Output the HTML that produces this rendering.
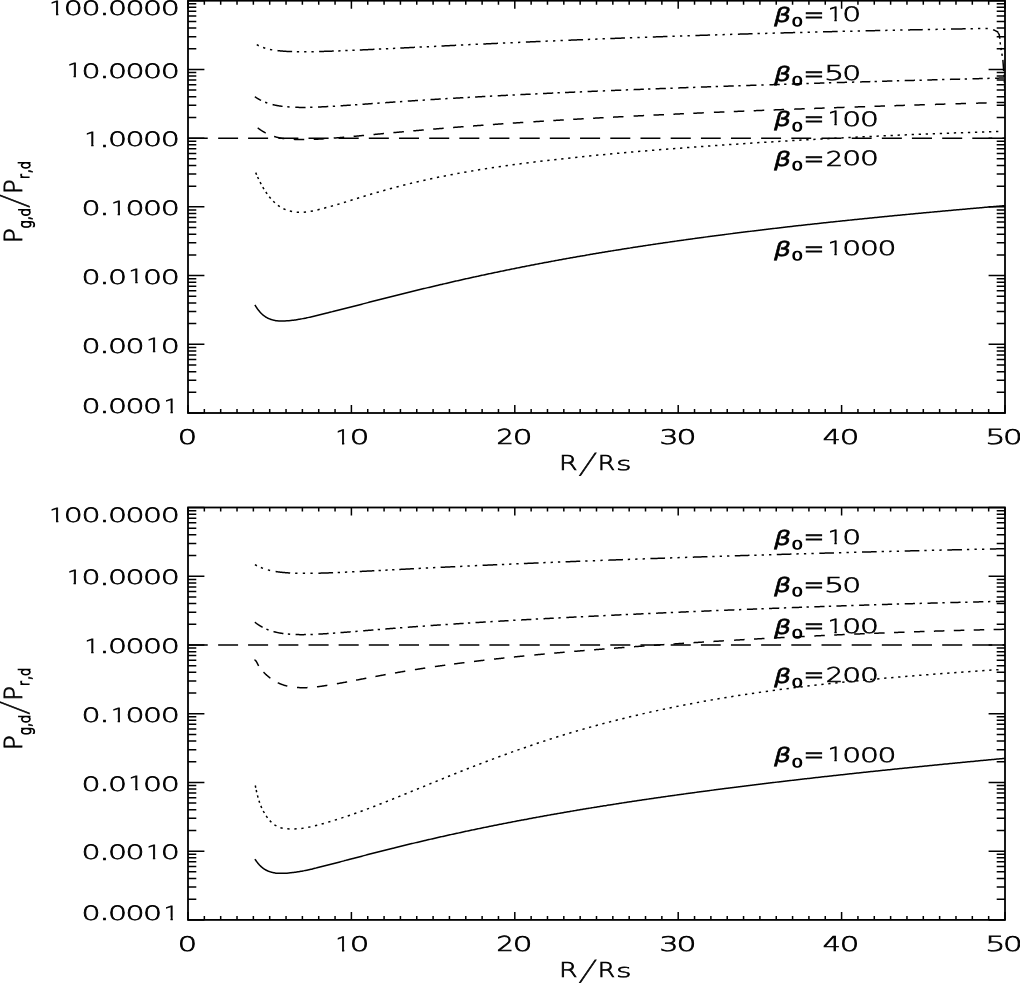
<!DOCTYPE html>
<html><head><meta charset="utf-8"><title>Pg,d/Pr,d vs R/Rs</title>
<style>html,body{margin:0;padding:0;background:#fff;width:1020px;height:983px;overflow:hidden}svg{display:block}</style>
</head><body>
<svg width="1020" height="983" viewBox="0 0 1020 983">
<defs><clipPath id="c0"><rect x="188.0" y="0.7" width="817.0" height="412.3"/></clipPath><clipPath id="c1"><rect x="188.0" y="507.5" width="817.0" height="412.4"/></clipPath><clipPath id="one" clipPathUnits="userSpaceOnUse"><path d="M-50 -200H150V-12H38.6V12H28.4V-12H-50Z"/></clipPath></defs>
<rect width="1020" height="983" fill="#fff"/>
<g clip-path="url(#c0)"><path d="M256.75 44.70L258.79 45.76M263.09 47.52L265.27 48.26M269.98 49.42L272.24 49.87M277.50 50.61L277.90 50.66L278.30 50.70L278.70 50.75L279.10 50.79L279.50 50.83L279.90 50.87L280.30 50.91L280.70 50.95L281.10 50.98L281.50 51.02L281.90 51.05L282.30 51.09L282.70 51.12L283.10 51.15L283.50 51.18L283.90 51.20L284.30 51.23L284.70 51.26L285.10 51.28L285.50 51.31L285.90 51.33L286.30 51.36L286.70 51.38L287.10 51.40L287.50 51.42L287.90 51.44L288.30 51.46L288.70 51.48L289.10 51.50L289.50 51.51L289.90 51.53L290.30 51.54L290.70 51.56L291.10 51.57L291.50 51.58L291.90 51.60L292.13 51.60M296.84 51.71L299.14 51.73M304.14 51.74L306.44 51.73M311.43 51.68L313.73 51.63M319.10 51.52L319.50 51.51L319.90 51.50L320.30 51.49L320.70 51.48L321.10 51.47L321.50 51.46L321.90 51.44L322.30 51.43L322.70 51.42L323.10 51.41L323.50 51.40L323.90 51.38L324.30 51.37L324.70 51.36L325.10 51.35L325.50 51.34L325.90 51.32L326.30 51.31L326.70 51.30L327.10 51.29L327.50 51.28L327.90 51.26L328.30 51.25L328.70 51.24L329.10 51.23L329.50 51.21L329.90 51.20L330.30 51.18L330.70 51.17L331.10 51.16L331.50 51.14L331.90 51.13L332.30 51.11L332.70 51.10L333.10 51.09L333.50 51.07L333.78 51.06M338.26 50.90L340.56 50.81M345.32 50.62L347.62 50.52M352.37 50.32L354.67 50.22M359.80 49.99L359.90 49.99L360.30 49.97L360.70 49.95L361.10 49.93L361.50 49.91L361.90 49.90L362.30 49.88L362.70 49.86L363.10 49.84L363.50 49.82L363.90 49.81L364.30 49.79L364.70 49.77L365.10 49.75L365.50 49.73L365.90 49.72L366.30 49.70L366.70 49.68L367.10 49.66L367.50 49.64L367.90 49.63L368.30 49.61L368.70 49.59L369.10 49.57L369.50 49.55L369.90 49.53L370.30 49.51L370.70 49.49L371.10 49.47L371.50 49.45L371.90 49.44L372.30 49.42L372.70 49.40L373.10 49.38L373.50 49.36L373.90 49.34L374.30 49.32L374.46 49.31M378.90 49.10L381.20 49.00M385.91 48.77L388.21 48.65M392.92 48.42L395.22 48.32M400.30 48.06L400.70 48.04L401.10 48.02L401.50 48.00L401.90 47.98L402.30 47.96L402.70 47.94L403.10 47.92L403.50 47.90L403.90 47.88L404.30 47.86L404.70 47.84L405.10 47.82L405.50 47.80L405.90 47.79L406.30 47.77L406.70 47.75L407.10 47.73L407.50 47.71L407.90 47.69L408.30 47.67L408.70 47.65L409.10 47.63L409.50 47.61L409.90 47.59L410.30 47.57L410.70 47.55L411.10 47.53L411.50 47.51L411.90 47.49L412.30 47.47L412.70 47.45L413.10 47.43L413.50 47.41L413.90 47.39L414.30 47.37L414.70 47.35L414.96 47.34M419.57 47.11L421.87 46.99M426.76 46.76L429.05 46.64M433.94 46.40L436.24 46.28M441.50 46.02L441.90 46.01L442.30 45.99L442.70 45.97L443.10 45.95L443.50 45.93L443.90 45.91L444.30 45.89L444.70 45.87L445.10 45.85L445.50 45.83L445.90 45.81L446.30 45.79L446.70 45.77L447.10 45.75L447.50 45.73L447.90 45.71L448.30 45.69L448.70 45.67L449.10 45.65L449.50 45.63L449.90 45.61L450.30 45.59L450.70 45.57L451.10 45.55L451.50 45.53L451.90 45.52L452.30 45.50L452.70 45.48L453.10 45.46L453.50 45.44L453.90 45.42L454.30 45.40L454.70 45.38L455.10 45.36L455.50 45.34L455.90 45.32L456.16 45.31M460.92 45.08L463.22 44.96M468.26 44.72L470.55 44.62M475.59 44.37L477.89 44.27M483.30 44.01L483.50 44.00L483.90 43.98L484.30 43.96L484.70 43.94L485.10 43.92L485.50 43.90L485.90 43.89L486.30 43.87L486.70 43.85L487.10 43.83L487.50 43.81L487.90 43.79L488.30 43.77L488.70 43.75L489.10 43.73L489.50 43.71L489.90 43.70L490.30 43.68L490.70 43.66L491.10 43.64L491.50 43.62L491.90 43.61L492.30 43.59L492.70 43.57L493.10 43.55L493.50 43.53L493.90 43.51L494.30 43.49L494.70 43.47L495.10 43.45L495.50 43.43L495.90 43.42L496.30 43.40L496.70 43.38L497.10 43.36L497.50 43.34L497.90 43.33L497.96 43.32M502.92 43.09L505.22 42.99M510.46 42.75L512.76 42.65M517.99 42.41L520.29 42.31M525.90 42.06L525.90 42.06L526.30 42.04L526.70 42.02L527.10 42.00L527.50 41.98L527.90 41.97L528.30 41.95L528.70 41.93L529.10 41.91L529.50 41.89L529.90 41.88L530.30 41.86L530.70 41.84L531.10 41.82L531.50 41.80L531.90 41.79L532.30 41.77L532.70 41.75L533.10 41.73L533.50 41.71L533.90 41.70L534.30 41.68L534.70 41.66L535.10 41.64L535.50 41.63L535.90 41.61L536.30 41.60L536.70 41.58L537.10 41.56L537.50 41.54L537.90 41.53L538.30 41.51L538.70 41.49L539.10 41.47L539.50 41.45L539.90 41.44L540.30 41.42L540.57 41.41M545.50 41.19L547.80 41.09M553.01 40.88L555.31 40.77M560.52 40.56L562.82 40.45M568.40 40.22L568.70 40.21L569.10 40.19L569.50 40.18L569.90 40.16L570.30 40.15L570.70 40.13L571.10 40.11L571.50 40.10L571.90 40.08L572.30 40.07L572.70 40.05L573.10 40.03L573.50 40.02L573.90 40.00L574.30 39.99L574.70 39.97L575.10 39.95L575.50 39.93L575.90 39.92L576.30 39.90L576.70 39.88L577.10 39.86L577.50 39.85L577.90 39.83L578.30 39.82L578.70 39.80L579.10 39.78L579.50 39.77L579.90 39.75L580.30 39.74L580.70 39.72L581.10 39.70L581.50 39.69L581.90 39.67L582.30 39.66L582.70 39.64L583.07 39.63M587.85 39.43L590.15 39.34M595.21 39.14L597.51 39.05M602.57 38.84L604.87 38.76M610.30 38.55L610.30 38.55L610.70 38.53L611.10 38.52L611.50 38.50L611.90 38.49L612.30 38.47L612.70 38.46L613.10 38.44L613.50 38.43L613.90 38.41L614.30 38.40L614.70 38.38L615.10 38.36L615.50 38.35L615.90 38.33L616.30 38.32L616.70 38.30L617.10 38.29L617.50 38.27L617.90 38.26L618.30 38.24L618.70 38.23L619.10 38.21L619.50 38.20L619.90 38.18L620.30 38.17L620.70 38.15L621.10 38.14L621.50 38.12L621.90 38.11L622.30 38.09L622.70 38.08L623.10 38.06L623.50 38.05L623.90 38.03L624.30 38.02L624.70 38.00L624.97 37.99M629.90 37.81L632.20 37.72M637.41 37.53L639.71 37.44M644.92 37.25L647.22 37.17M652.80 36.98L653.10 36.97L653.50 36.95L653.90 36.94L654.30 36.92L654.70 36.91L655.10 36.90L655.50 36.88L655.90 36.87L656.30 36.85L656.70 36.84L657.10 36.83L657.50 36.81L657.90 36.80L658.30 36.78L658.70 36.77L659.10 36.76L659.50 36.74L659.90 36.73L660.30 36.71L660.70 36.70L661.10 36.69L661.50 36.67L661.90 36.66L662.30 36.64L662.70 36.63L663.10 36.62L663.50 36.60L663.90 36.59L664.30 36.57L664.70 36.56L665.10 36.55L665.50 36.53L665.90 36.52L666.30 36.50L666.70 36.49L667.10 36.48L667.47 36.46M672.43 36.29L674.73 36.21M679.96 36.04L682.26 35.96M687.50 35.78L689.79 35.70M695.40 35.52L695.50 35.52L695.90 35.50L696.30 35.49L696.70 35.48L697.10 35.47L697.50 35.45L697.90 35.44L698.30 35.42L698.70 35.41L699.10 35.40L699.50 35.39L699.90 35.37L700.30 35.36L700.70 35.35L701.10 35.34L701.50 35.32L701.90 35.31L702.30 35.29L702.70 35.28L703.10 35.27L703.50 35.26L703.90 35.24L704.30 35.23L704.70 35.22L705.10 35.21L705.50 35.19L705.90 35.18L706.30 35.16L706.70 35.15L707.10 35.14L707.50 35.13L707.90 35.11L708.30 35.10L708.70 35.09L709.10 35.08L709.50 35.07L709.90 35.05L710.08 35.05M715.01 34.89L717.31 34.82M722.51 34.66L724.81 34.59M730.02 34.43L732.32 34.35M737.90 34.18L737.90 34.18L738.30 34.17L738.70 34.16L739.10 34.15L739.50 34.14L739.90 34.12L740.30 34.11L740.70 34.10L741.10 34.09L741.50 34.08L741.90 34.06L742.30 34.05L742.70 34.04L743.10 34.03L743.50 34.02L743.90 34.00L744.30 33.99L744.70 33.98L745.10 33.97L745.50 33.96L745.90 33.95L746.30 33.94L746.70 33.93L747.10 33.92L747.50 33.91L747.90 33.89L748.30 33.88L748.70 33.87L749.10 33.86L749.50 33.85L749.90 33.83L750.30 33.82L750.70 33.81L751.10 33.80L751.50 33.79L751.90 33.77L752.30 33.76L752.58 33.75M757.53 33.61L759.83 33.55M765.07 33.40L767.36 33.33M772.60 33.18L774.90 33.11M780.50 32.97L780.70 32.96L781.10 32.95L781.50 32.94L781.90 32.92L782.30 32.91L782.70 32.90L783.10 32.89L783.50 32.88L783.90 32.87L784.30 32.86L784.70 32.85L785.10 32.84L785.50 32.83L785.90 32.82L786.30 32.81L786.70 32.80L787.10 32.79L787.50 32.78L787.90 32.76L788.30 32.75L788.70 32.74L789.10 32.73L789.50 32.72L789.90 32.71L790.30 32.70L790.70 32.69L791.10 32.68L791.50 32.67L791.90 32.65L792.30 32.64L792.70 32.63L793.10 32.62L793.50 32.61L793.90 32.60L794.30 32.59L794.70 32.58L795.10 32.57L795.18 32.57M800.11 32.43L802.41 32.38M807.62 32.24L809.91 32.18M815.12 32.05L817.42 31.99M823.00 31.85L823.10 31.85L823.50 31.84L823.90 31.83L824.30 31.82L824.70 31.81L825.10 31.80L825.50 31.79L825.90 31.78L826.30 31.77L826.70 31.76L827.10 31.75L827.50 31.74L827.90 31.73L828.30 31.72L828.70 31.71L829.10 31.70L829.50 31.69L829.90 31.68L830.30 31.67L830.70 31.66L831.10 31.65L831.50 31.64L831.90 31.63L832.30 31.62L832.70 31.61L833.10 31.60L833.50 31.59L833.90 31.58L834.30 31.57L834.70 31.56L835.10 31.55L835.50 31.54L835.90 31.53L836.30 31.52L836.70 31.51L837.10 31.50L837.50 31.49L837.68 31.49M842.63 31.37L844.93 31.31M850.17 31.19L852.47 31.14M857.70 31.01L860.00 30.96M865.60 30.84L865.90 30.83L866.30 30.82L866.70 30.81L867.10 30.80L867.50 30.79L867.90 30.78L868.30 30.77L868.70 30.76L869.10 30.75L869.50 30.74L869.90 30.74L870.30 30.73L870.70 30.72L871.10 30.71L871.50 30.70L871.90 30.69L872.30 30.68L872.70 30.67L873.10 30.66L873.50 30.65L873.90 30.65L874.30 30.64L874.70 30.63L875.10 30.62L875.50 30.61L875.90 30.61L876.30 30.60L876.70 30.59L877.10 30.58L877.50 30.57L877.90 30.56L878.30 30.55L878.70 30.54L879.10 30.53L879.50 30.52L879.90 30.52L880.28 30.51M885.21 30.40L887.51 30.35M892.72 30.24L895.02 30.19M900.22 30.08L902.52 30.03M908.10 29.92L908.30 29.91L908.70 29.90L909.10 29.89L909.50 29.88L909.90 29.88L910.30 29.87L910.70 29.86L911.10 29.85L911.50 29.84L911.90 29.84L912.30 29.83L912.70 29.82L913.10 29.81L913.50 29.80L913.90 29.80L914.30 29.79L914.70 29.78L915.10 29.77L915.50 29.76L915.90 29.76L916.30 29.75L916.70 29.74L917.10 29.73L917.50 29.72L917.90 29.72L918.30 29.71L918.70 29.70L919.10 29.69L919.50 29.68L919.90 29.68L920.30 29.67L920.70 29.66L921.10 29.65L921.50 29.64L921.90 29.64L922.30 29.63L922.70 29.62L922.78 29.62M927.81 29.52L930.11 29.47M935.42 29.38L937.72 29.33M943.02 29.23L945.32 29.19M951.00 29.08L951.10 29.08L951.50 29.07L951.90 29.07L952.30 29.06L952.70 29.05L953.10 29.04L953.50 29.03L953.90 29.03L954.30 29.02L954.70 29.01L955.10 29.00L955.50 29.00L955.90 28.99L956.30 28.99L956.70 28.98L957.10 28.97L957.50 28.96L957.90 28.96L958.30 28.95L958.70 28.94L959.10 28.93L959.50 28.92L959.90 28.92L960.30 28.91L960.70 28.90L961.10 28.89L961.50 28.89L961.90 28.88L962.30 28.88L962.70 28.87L963.10 28.86L963.50 28.85L963.90 28.85L964.30 28.84L964.70 28.83L965.10 28.82L965.50 28.82L965.69 28.82M970.57 28.73L972.87 28.69M978.03 28.60L980.33 28.56M985.49 28.47L987.79 28.43M993.10 29.60L993.52 29.81L993.94 30.02L994.35 30.23L994.77 30.44L995.19 30.65L995.61 30.85L996.03 31.06L996.45 31.27L996.86 31.48L997.28 31.69L997.70 31.90L997.91 32.29L998.13 32.67L998.34 33.06L998.56 33.44L998.77 33.83L998.99 34.21L999.20 34.60L999.28 35.09L999.35 35.58L999.42 36.06L999.50 36.55L999.58 37.04L999.65 37.52L999.72 38.01L999.80 38.50L999.82 38.72M1000.17 42.20L1000.40 44.49M1000.88 47.91L1001.18 50.20M1001.84 53.61L1002.26 55.87M1002.85 59.85L1002.90 60.20L1002.94 60.67L1002.97 61.14L1003.01 61.61L1003.04 62.08L1003.08 62.55L1003.11 63.02L1003.15 63.49L1003.18 63.96L1003.22 64.44L1003.25 64.91L1003.29 65.38L1003.32 65.85L1003.36 66.32L1003.39 66.79L1003.43 67.26L1003.46 67.73L1003.50 68.20L1003.53 68.69L1003.57 69.18L1003.60 69.68L1003.63 70.17L1003.67 70.66L1003.70 71.13M1003.93 74.61L1004.09 76.91M1004.32 80.35L1004.42 82.64M1004.58 86.08L1004.69 88.38M1004.88 92.37L1004.89 92.58L1004.91 93.06L1004.93 93.55L1004.95 94.03L1004.98 94.52L1005.00 95.00" fill="none" stroke="#000" stroke-width="1.5" stroke-linecap="butt"/><path d="M254.90 96.70L255.15 96.88L255.40 97.05L255.65 97.22L255.90 97.40L256.15 97.56L256.40 97.73L256.65 97.89L256.90 98.05L257.15 98.21L257.40 98.37L257.65 98.52L257.90 98.67L258.15 98.82L258.40 98.97L258.65 99.12L258.90 99.26L259.15 99.40L259.40 99.54L259.65 99.68L259.90 99.81L260.15 99.94L260.40 100.07L260.65 100.20L260.90 100.33L261.08 100.42M265.14 102.23L267.29 103.05M272.60 104.59L272.65 104.60L272.90 104.66L273.15 104.72L273.40 104.78L273.65 104.84L273.90 104.90L274.15 104.96L274.40 105.01L274.65 105.06L274.90 105.12L275.30 105.20L275.70 105.28L276.10 105.36L276.50 105.44L276.90 105.52L277.30 105.59L277.70 105.66L278.10 105.72L278.50 105.79L278.90 105.86L279.30 105.92L279.70 105.98L280.10 106.05L280.50 106.11L280.90 106.17L281.30 106.22L281.70 106.27L282.10 106.33L282.50 106.38L282.59 106.39M287.30 106.86L289.59 107.05M295.30 107.30L295.70 107.31L296.10 107.33L296.50 107.34L296.90 107.35L297.30 107.36L297.70 107.36L298.10 107.37L298.50 107.37L298.90 107.38L299.30 107.38L299.70 107.39L300.10 107.39L300.50 107.40L300.90 107.40L301.40 107.40L301.90 107.40L302.40 107.40L302.90 107.40L303.30 107.40L303.70 107.40L304.10 107.39L304.50 107.39L304.90 107.39L305.30 107.39L305.57 107.38M310.15 107.30L312.45 107.23M318.00 107.04L318.10 107.03L318.50 107.02L318.90 107.00L319.30 106.98L319.70 106.96L320.10 106.95L320.50 106.93L320.90 106.91L321.30 106.89L321.70 106.87L322.10 106.85L322.50 106.83L322.90 106.81L323.30 106.79L323.70 106.77L324.10 106.75L324.50 106.73L324.90 106.71L325.30 106.69L325.70 106.67L326.10 106.65L326.50 106.63L326.90 106.61L327.30 106.59L327.70 106.57L328.10 106.54L328.25 106.54M332.79 106.27L335.09 106.13M340.60 105.78L340.90 105.76L341.30 105.73L341.70 105.71L342.10 105.68L342.50 105.66L342.90 105.63L343.30 105.60L343.70 105.58L344.10 105.55L344.50 105.53L344.90 105.50L345.30 105.47L345.70 105.44L346.10 105.42L346.50 105.39L346.90 105.36L347.30 105.33L347.70 105.30L348.10 105.28L348.50 105.25L348.90 105.22L349.30 105.19L349.70 105.17L350.10 105.14L350.50 105.12L350.83 105.09M355.03 104.80L357.33 104.64M362.50 104.28L362.90 104.25L363.30 104.22L363.70 104.19L364.10 104.16L364.50 104.13L364.90 104.10L365.30 104.07L365.70 104.04L366.10 104.02L366.50 103.99L366.90 103.96L367.30 103.93L367.70 103.90L368.10 103.88L368.50 103.85L368.90 103.82L369.30 103.79L369.70 103.76L370.10 103.74L370.50 103.71L370.90 103.68L371.30 103.65L371.70 103.62L372.10 103.60L372.50 103.57L372.73 103.55M377.33 103.22L379.62 103.06M385.20 102.67L385.30 102.66L385.70 102.63L386.10 102.61L386.50 102.58L386.90 102.55L387.30 102.52L387.70 102.49L388.10 102.47L388.50 102.44L388.90 102.41L389.30 102.38L389.70 102.35L390.10 102.33L390.50 102.30L390.90 102.27L391.30 102.24L391.70 102.21L392.10 102.19L392.50 102.16L392.90 102.13L393.30 102.10L393.70 102.07L394.10 102.05L394.50 102.02L394.90 101.99L395.30 101.96L395.43 101.96M399.98 101.64L402.28 101.49M407.80 101.12L408.10 101.10L408.50 101.08L408.90 101.05L409.30 101.02L409.70 100.99L410.10 100.97L410.50 100.94L410.90 100.91L411.30 100.88L411.70 100.86L412.10 100.83L412.50 100.81L412.90 100.78L413.30 100.75L413.70 100.73L414.10 100.70L414.50 100.68L414.90 100.65L415.30 100.62L415.70 100.60L416.10 100.57L416.50 100.55L416.90 100.52L417.30 100.49L417.70 100.47L418.03 100.45M422.63 100.15L424.93 100.00M430.50 99.65L430.90 99.62L431.30 99.60L431.70 99.57L432.10 99.55L432.50 99.52L432.90 99.50L433.30 99.47L433.70 99.45L434.10 99.42L434.50 99.40L434.90 99.37L435.30 99.35L435.70 99.32L436.10 99.30L436.50 99.27L436.90 99.25L437.30 99.22L437.70 99.20L438.10 99.17L438.50 99.15L438.90 99.12L439.30 99.10L439.70 99.07L440.10 99.05L440.50 99.02L440.74 99.01M445.28 98.74L447.58 98.60M453.10 98.27L453.30 98.26L453.70 98.23L454.10 98.21L454.50 98.18L454.90 98.16L455.30 98.14L455.70 98.12L456.10 98.09L456.50 98.07L456.90 98.05L457.30 98.03L457.70 98.00L458.10 97.98L458.50 97.95L458.90 97.93L459.30 97.91L459.70 97.88L460.10 97.86L460.50 97.83L460.90 97.81L461.30 97.79L461.70 97.77L462.10 97.74L462.50 97.72L462.90 97.70L463.30 97.68L463.34 97.67M467.59 97.43L469.88 97.31M475.10 97.01L475.30 97.00L475.70 96.98L476.10 96.95L476.50 96.93L476.90 96.91L477.30 96.89L477.70 96.87L478.10 96.84L478.50 96.82L478.90 96.80L479.30 96.78L479.70 96.76L480.10 96.73L480.50 96.71L480.90 96.69L481.30 96.67L481.70 96.65L482.10 96.62L482.50 96.60L482.90 96.58L483.30 96.56L483.70 96.54L484.10 96.51L484.50 96.49L484.90 96.47L485.30 96.45L485.34 96.45M489.89 96.21L492.18 96.08M497.70 95.79L498.10 95.77L498.50 95.75L498.90 95.73L499.30 95.71L499.70 95.69L500.10 95.66L500.50 95.64L500.90 95.62L501.30 95.60L501.70 95.58L502.10 95.56L502.50 95.54L502.90 95.52L503.30 95.50L503.70 95.48L504.10 95.46L504.50 95.44L504.90 95.42L505.30 95.40L505.70 95.38L506.10 95.35L506.50 95.33L506.90 95.31L507.30 95.29L507.70 95.27L507.95 95.26M512.54 95.03L514.84 94.91M520.40 94.64L520.50 94.63L520.90 94.61L521.30 94.59L521.70 94.57L522.10 94.55L522.50 94.53L522.90 94.51L523.30 94.49L523.70 94.47L524.10 94.45L524.50 94.43L524.90 94.41L525.30 94.39L525.70 94.37L526.10 94.35L526.50 94.33L526.90 94.31L527.30 94.29L527.70 94.27L528.10 94.26L528.50 94.24L528.90 94.22L529.30 94.20L529.70 94.18L530.10 94.16L530.50 94.14L530.65 94.13M535.19 93.92L537.49 93.80M543.00 93.54L543.30 93.53L543.70 93.51L544.10 93.49L544.50 93.47L544.90 93.45L545.30 93.43L545.70 93.41L546.10 93.40L546.50 93.38L546.90 93.36L547.30 93.34L547.70 93.32L548.10 93.31L548.50 93.29L548.90 93.27L549.30 93.25L549.70 93.23L550.10 93.21L550.50 93.19L550.90 93.17L551.30 93.15L551.70 93.13L552.10 93.12L552.50 93.10L552.90 93.08L553.25 93.06M557.49 92.87L559.79 92.77M565.00 92.53L565.30 92.51L565.70 92.50L566.10 92.48L566.50 92.47L566.90 92.45L567.30 92.43L567.70 92.41L568.10 92.40L568.50 92.38L568.90 92.36L569.30 92.34L569.70 92.32L570.10 92.31L570.50 92.29L570.90 92.27L571.30 92.25L571.70 92.23L572.10 92.22L572.50 92.20L572.90 92.18L573.30 92.16L573.70 92.14L574.10 92.13L574.50 92.11L574.90 92.09L575.25 92.07M579.79 91.88L582.09 91.78M587.60 91.54L587.70 91.53L588.10 91.52L588.50 91.50L588.90 91.48L589.30 91.46L589.70 91.45L590.10 91.43L590.50 91.42L590.90 91.40L591.30 91.38L591.70 91.36L592.10 91.35L592.50 91.33L592.90 91.31L593.30 91.29L593.70 91.28L594.10 91.26L594.50 91.25L594.90 91.23L595.30 91.21L595.70 91.19L596.10 91.18L596.50 91.16L596.90 91.14L597.30 91.12L597.70 91.11L597.85 91.10M602.79 90.89L605.09 90.79M611.00 90.56L611.30 90.54L611.70 90.52L612.10 90.51L612.50 90.49L612.90 90.47L613.30 90.45L613.70 90.44L614.10 90.42L614.50 90.41L614.90 90.39L615.30 90.37L615.70 90.36L616.10 90.34L616.50 90.33L616.90 90.31L617.30 90.29L617.70 90.28L618.10 90.26L618.50 90.25L618.90 90.23L619.30 90.21L619.70 90.20L620.10 90.18L620.50 90.17L620.90 90.15L621.26 90.14M625.79 89.96L628.09 89.86M633.60 89.64L633.70 89.64L634.10 89.62L634.50 89.61L634.90 89.59L635.30 89.57L635.70 89.56L636.10 89.54L636.50 89.53L636.90 89.51L637.30 89.49L637.70 89.48L638.10 89.46L638.50 89.45L638.90 89.43L639.30 89.41L639.70 89.40L640.10 89.38L640.50 89.37L640.90 89.35L641.30 89.33L641.70 89.32L642.10 89.30L642.50 89.29L642.90 89.27L643.30 89.25L643.70 89.24L643.86 89.23M648.09 89.07L650.39 88.98M655.60 88.78L655.70 88.78L656.10 88.76L656.50 88.75L656.90 88.73L657.30 88.71L657.70 88.70L658.10 88.68L658.50 88.67L658.90 88.65L659.30 88.64L659.70 88.62L660.10 88.61L660.50 88.59L660.90 88.58L661.30 88.56L661.70 88.55L662.10 88.53L662.50 88.52L662.90 88.50L663.30 88.49L663.70 88.47L664.10 88.46L664.50 88.44L664.90 88.43L665.30 88.41L665.70 88.40L665.86 88.39M670.39 88.22L672.69 88.13M678.20 87.93L678.50 87.92L678.90 87.90L679.30 87.89L679.70 87.87L680.10 87.86L680.50 87.84L680.90 87.83L681.30 87.81L681.70 87.80L682.10 87.78L682.50 87.77L682.90 87.75L683.30 87.74L683.70 87.72L684.10 87.71L684.50 87.69L684.90 87.68L685.30 87.67L685.70 87.65L686.10 87.64L686.50 87.62L686.90 87.61L687.30 87.59L687.70 87.58L688.10 87.56L688.46 87.55M693.04 87.38L695.34 87.29M700.90 87.10L701.30 87.09L701.70 87.07L702.10 87.06L702.50 87.04L702.90 87.03L703.30 87.01L703.70 87.00L704.10 86.98L704.50 86.97L704.90 86.95L705.30 86.94L705.70 86.92L706.10 86.91L706.50 86.89L706.90 86.88L707.30 86.87L707.70 86.85L708.10 86.84L708.50 86.82L708.90 86.81L709.30 86.80L709.70 86.78L710.10 86.77L710.50 86.75L710.90 86.74L711.16 86.73M715.69 86.57L717.99 86.49M723.50 86.30L723.70 86.29L724.10 86.28L724.50 86.26L724.90 86.25L725.30 86.24L725.70 86.22L726.10 86.21L726.50 86.19L726.90 86.18L727.30 86.17L727.70 86.15L728.10 86.14L728.50 86.12L728.90 86.11L729.30 86.10L729.70 86.08L730.10 86.07L730.50 86.05L730.90 86.04L731.30 86.03L731.70 86.01L732.10 86.00L732.50 85.98L732.90 85.97L733.30 85.96L733.70 85.94L733.76 85.94M738.34 85.79L740.64 85.71M746.20 85.51L746.50 85.50L746.90 85.49L747.30 85.48L747.70 85.47L748.10 85.45L748.50 85.44L748.90 85.43L749.30 85.42L749.70 85.40L750.10 85.39L750.50 85.37L750.90 85.36L751.30 85.35L751.70 85.33L752.10 85.32L752.50 85.30L752.90 85.29L753.30 85.28L753.70 85.27L754.10 85.25L754.50 85.24L754.90 85.23L755.30 85.22L755.70 85.20L756.10 85.19L756.46 85.18M761.34 85.01L763.64 84.93M769.50 84.74L769.70 84.73L770.10 84.72L770.50 84.70L770.90 84.69L771.30 84.68L771.70 84.67L772.10 84.65L772.50 84.64L772.90 84.63L773.30 84.62L773.70 84.60L774.10 84.59L774.50 84.57L774.90 84.56L775.30 84.55L775.70 84.54L776.10 84.52L776.50 84.51L776.90 84.50L777.30 84.49L777.70 84.47L778.10 84.46L778.50 84.44L778.90 84.43L779.30 84.42L779.70 84.41L779.76 84.40M784.14 84.27L786.44 84.19M791.80 84.02L792.10 84.01L792.50 83.99L792.90 83.98L793.30 83.97L793.70 83.96L794.10 83.94L794.50 83.93L794.90 83.92L795.30 83.91L795.70 83.89L796.10 83.88L796.50 83.86L796.90 83.85L797.30 83.84L797.70 83.83L798.10 83.81L798.50 83.80L798.90 83.79L799.30 83.78L799.70 83.77L800.10 83.75L800.50 83.74L800.90 83.73L801.30 83.72L801.70 83.70L802.06 83.69M806.44 83.56L808.74 83.48M814.10 83.31L814.50 83.30L814.90 83.29L815.30 83.28L815.70 83.26L816.10 83.25L816.50 83.23L816.90 83.22L817.30 83.21L817.70 83.20L818.10 83.18L818.50 83.17L818.90 83.16L819.30 83.15L819.70 83.14L820.10 83.12L820.50 83.11L820.90 83.10L821.30 83.09L821.70 83.08L822.10 83.06L822.50 83.05L822.90 83.04L823.30 83.03L823.70 83.02L824.10 83.00L824.36 83.00M828.94 82.85L831.24 82.78M836.80 82.61L836.90 82.61L837.30 82.60L837.70 82.59L838.10 82.57L838.50 82.56L838.90 82.55L839.30 82.54L839.70 82.53L840.10 82.51L840.50 82.50L840.90 82.49L841.30 82.48L841.70 82.47L842.10 82.45L842.50 82.44L842.90 82.43L843.30 82.42L843.70 82.41L844.10 82.39L844.50 82.38L844.90 82.37L845.30 82.36L845.70 82.35L846.10 82.33L846.50 82.32L846.90 82.31L847.06 82.31M851.94 82.16L854.24 82.09M860.10 81.91L860.50 81.90L860.90 81.89L861.30 81.88L861.70 81.87L862.10 81.85L862.50 81.84L862.90 81.83L863.30 81.82L863.70 81.81L864.10 81.79L864.50 81.78L864.90 81.77L865.30 81.76L865.70 81.75L866.10 81.73L866.50 81.72L866.90 81.71L867.30 81.70L867.70 81.69L868.10 81.68L868.50 81.67L868.90 81.66L869.30 81.65L869.70 81.64L870.10 81.62L870.36 81.62M874.59 81.49L876.89 81.42M882.10 81.27L882.50 81.26L882.90 81.25L883.30 81.24L883.70 81.23L884.10 81.21L884.50 81.20L884.90 81.19L885.30 81.18L885.70 81.17L886.10 81.15L886.50 81.14L886.90 81.13L887.30 81.12L887.70 81.11L888.10 81.10L888.50 81.09L888.90 81.08L889.30 81.07L889.70 81.06L890.10 81.04L890.50 81.03L890.90 81.02L891.30 81.01L891.70 81.00L892.10 80.98L892.36 80.98M896.89 80.85L899.19 80.78M904.70 80.63L904.90 80.62L905.30 80.61L905.70 80.60L906.10 80.59L906.50 80.58L906.90 80.57L907.30 80.56L907.70 80.55L908.10 80.53L908.50 80.52L908.90 80.51L909.30 80.50L909.70 80.49L910.10 80.47L910.50 80.46L910.90 80.45L911.30 80.44L911.70 80.43L912.10 80.42L912.50 80.41L912.90 80.40L913.30 80.39L913.70 80.38L914.10 80.36L914.50 80.35L914.90 80.34L914.96 80.34M919.49 80.22L921.79 80.16M927.30 80.00L927.70 79.99L928.10 79.98L928.50 79.97L928.90 79.96L929.30 79.95L929.70 79.94L930.10 79.92L930.50 79.91L930.90 79.90L931.30 79.89L931.70 79.88L932.10 79.87L932.50 79.86L932.90 79.85L933.30 79.84L933.70 79.83L934.10 79.81L934.50 79.80L934.90 79.79L935.30 79.78L935.70 79.77L936.10 79.76L936.50 79.75L936.90 79.74L937.30 79.73L937.56 79.72M942.10 79.60L944.39 79.54M949.90 79.39L950.10 79.38L950.50 79.37L950.90 79.36L951.30 79.35L951.70 79.34L952.10 79.33L952.50 79.32L952.90 79.31L953.30 79.30L953.70 79.29L954.10 79.28L954.50 79.27L954.90 79.26L955.30 79.25L955.70 79.24L956.10 79.22L956.50 79.21L956.90 79.20L957.30 79.19L957.70 79.18L958.10 79.17L958.50 79.16L958.90 79.15L959.30 79.14L959.70 79.13L960.10 79.12L960.16 79.12M964.70 79.00L967.00 78.94M972.50 78.79L972.90 78.78L973.30 78.77L973.70 78.76L974.10 78.75L974.50 78.74L974.90 78.73L975.30 78.72L975.70 78.71L976.10 78.70L976.50 78.69L976.90 78.68L977.30 78.67L977.70 78.66L978.10 78.65L978.50 78.64L978.90 78.63L979.30 78.62L979.70 78.61L980.10 78.60L980.50 78.59L980.90 78.58L981.30 78.57L981.70 78.56L982.10 78.54L982.50 78.53L982.77 78.52M987.30 78.41L989.60 78.35M995.10 78.21L995.30 78.21L995.70 78.20L996.10 78.19L996.50 78.18L996.90 78.17L997.30 78.16L997.70 78.15L998.10 78.14L998.50 78.13L998.90 78.12L999.30 78.11L999.70 78.10L1000.10 78.09L1000.50 78.08L1000.90 78.07L1001.30 78.06L1001.70 78.05L1002.10 78.04L1002.50 78.03L1002.90 78.02L1003.30 78.01L1003.70 78.00L1004.10 77.99L1004.50 77.98" fill="none" stroke="#000" stroke-width="1.5" stroke-linecap="butt"/><path d="M257.67 127.85L257.90 128.02L258.15 128.20L258.40 128.39L258.65 128.57L258.90 128.76L259.15 128.94L259.40 129.12L259.65 129.29L259.90 129.46L260.15 129.64L260.40 129.81L260.65 129.98L260.90 130.14L261.15 130.30L261.40 130.47L261.65 130.62L261.90 130.78L262.15 130.94L262.40 131.09L262.65 131.24L262.90 131.40L263.15 131.55L263.40 131.69L263.65 131.83L263.90 131.98L264.15 132.12L264.40 132.26L264.65 132.40L264.90 132.54L265.15 132.68L265.40 132.81L265.65 132.94L265.77 133.00M274.13 136.46L274.15 136.46L274.40 136.54L274.65 136.62L274.90 136.69L275.15 136.76L275.40 136.83L275.65 136.90L275.90 136.98L276.15 137.05L276.40 137.11L276.65 137.18L276.90 137.24L277.15 137.30L277.40 137.37L277.80 137.46L278.20 137.55L278.60 137.65L279.00 137.74L279.40 137.83L279.80 137.91L280.20 137.99L280.60 138.06L281.00 138.14L281.40 138.22L281.80 138.28L282.20 138.35L282.60 138.41L283.00 138.48L283.40 138.54L283.80 138.59L284.20 138.64L284.25 138.65M293.70 139.36L293.80 139.36L294.20 139.37L294.60 139.38L295.00 139.39L295.40 139.40L295.80 139.41L296.20 139.41L296.60 139.42L297.00 139.42L297.40 139.43L297.80 139.43L298.20 139.43L298.60 139.44L299.00 139.44L299.40 139.44L299.80 139.44L300.20 139.44L300.60 139.45L301.00 139.45L301.40 139.45L301.90 139.45L302.40 139.45L302.90 139.45L303.40 139.45L303.90 139.45L304.23 139.45M313.74 139.34L313.80 139.34L314.20 139.32L314.60 139.31L315.00 139.29L315.40 139.28L315.80 139.26L316.20 139.24L316.60 139.22L317.00 139.20L317.40 139.18L317.80 139.16L318.20 139.14L318.60 139.11L319.00 139.09L319.40 139.07L319.80 139.05L320.20 139.03L320.60 139.00L321.00 138.98L321.40 138.96L321.80 138.93L322.20 138.91L322.60 138.88L323.00 138.86L323.40 138.83L323.80 138.80L324.20 138.78L324.24 138.78M333.71 138.09L333.80 138.08L334.20 138.05L334.60 138.02L335.00 137.99L335.40 137.96L335.80 137.93L336.20 137.89L336.60 137.86L337.00 137.82L337.40 137.79L337.80 137.76L338.20 137.73L338.60 137.69L339.00 137.66L339.40 137.63L339.80 137.60L340.20 137.56L340.60 137.53L341.00 137.49L341.40 137.46L341.80 137.43L342.20 137.39L342.60 137.36L343.00 137.32L343.40 137.29L343.80 137.25L344.18 137.22M353.62 136.37L353.80 136.35L354.20 136.32L354.60 136.28L355.00 136.25L355.40 136.21L355.80 136.17L356.20 136.13L356.60 136.10L357.00 136.06L357.40 136.02L357.80 135.98L358.20 135.95L358.60 135.91L359.00 135.88L359.40 135.84L359.80 135.80L360.20 135.76L360.60 135.73L361.00 135.69L361.40 135.65L361.80 135.61L362.20 135.58L362.60 135.54L363.00 135.51L363.40 135.47L363.80 135.43L364.07 135.41M373.51 134.51L373.80 134.48L374.20 134.45L374.60 134.41L375.00 134.38L375.40 134.34L375.80 134.30L376.20 134.26L376.60 134.23L377.00 134.19L377.40 134.15L377.80 134.11L378.20 134.07L378.60 134.04L379.00 134.00L379.40 133.96L379.80 133.92L380.20 133.88L380.60 133.85L381.00 133.81L381.40 133.77L381.80 133.73L382.20 133.69L382.60 133.66L383.00 133.62L383.40 133.58L383.80 133.54L383.96 133.53M393.40 132.65L393.80 132.61L394.20 132.58L394.60 132.54L395.00 132.51L395.40 132.47L395.80 132.43L396.20 132.39L396.60 132.36L397.00 132.32L397.40 132.28L397.80 132.24L398.20 132.21L398.60 132.17L399.00 132.14L399.40 132.10L399.80 132.06L400.20 132.03L400.60 131.99L401.00 131.96L401.40 131.92L401.80 131.88L402.20 131.85L402.60 131.81L403.00 131.78L403.40 131.74L403.80 131.70L403.86 131.70M413.30 130.85L413.40 130.84L413.80 130.80L414.20 130.77L414.60 130.73L415.00 130.70L415.40 130.66L415.80 130.63L416.20 130.59L416.60 130.56L417.00 130.52L417.40 130.49L417.80 130.45L418.20 130.42L418.60 130.38L419.00 130.35L419.40 130.31L419.80 130.28L420.20 130.24L420.60 130.21L421.00 130.17L421.40 130.14L421.80 130.10L422.20 130.07L422.60 130.03L423.00 130.00L423.40 129.96L423.76 129.93M433.20 129.13L433.40 129.11L433.80 129.08L434.20 129.04L434.60 129.01L435.00 128.97L435.40 128.94L435.80 128.91L436.20 128.88L436.60 128.84L437.00 128.81L437.40 128.78L437.80 128.75L438.20 128.71L438.60 128.68L439.00 128.64L439.40 128.61L439.80 128.58L440.20 128.54L440.60 128.51L441.00 128.47L441.40 128.44L441.80 128.41L442.20 128.38L442.60 128.34L443.00 128.31L443.40 128.28L443.67 128.26M453.10 127.49L453.40 127.47L453.80 127.44L454.20 127.41L454.60 127.37L455.00 127.34L455.40 127.31L455.80 127.28L456.20 127.25L456.60 127.21L457.00 127.18L457.40 127.15L457.80 127.12L458.20 127.09L458.60 127.06L459.00 127.03L459.40 127.00L459.80 126.97L460.20 126.94L460.60 126.90L461.00 126.87L461.40 126.84L461.80 126.81L462.20 126.78L462.60 126.75L463.00 126.72L463.40 126.69L463.58 126.68M473.00 125.95L473.40 125.92L473.80 125.89L474.20 125.86L474.60 125.83L475.00 125.80L475.40 125.77L475.80 125.74L476.20 125.71L476.60 125.68L477.00 125.65L477.40 125.62L477.80 125.59L478.20 125.56L478.60 125.54L479.00 125.51L479.40 125.48L479.80 125.45L480.20 125.42L480.60 125.39L481.00 125.36L481.40 125.33L481.80 125.30L482.20 125.27L482.60 125.24L483.00 125.21L483.40 125.18L483.48 125.17M492.90 124.50L493.00 124.49L493.40 124.46L493.80 124.43L494.20 124.40L494.60 124.38L495.00 124.35L495.40 124.32L495.80 124.29L496.20 124.26L496.60 124.24L497.00 124.21L497.40 124.18L497.80 124.15L498.20 124.12L498.60 124.10L499.00 124.07L499.40 124.04L499.80 124.01L500.20 123.98L500.60 123.96L501.00 123.93L501.40 123.90L501.80 123.87L502.20 123.84L502.60 123.82L503.00 123.79L503.39 123.76M512.80 123.12L513.00 123.11L513.40 123.08L513.80 123.05L514.20 123.02L514.60 123.00L515.00 122.97L515.40 122.94L515.80 122.91L516.20 122.89L516.60 122.86L517.00 122.84L517.40 122.81L517.80 122.78L518.20 122.76L518.60 122.73L519.00 122.71L519.40 122.68L519.80 122.65L520.20 122.62L520.60 122.60L521.00 122.57L521.40 122.54L521.80 122.51L522.20 122.49L522.60 122.46L523.00 122.44L523.29 122.42M533.40 121.77L533.80 121.74L534.20 121.72L534.60 121.69L535.00 121.67L535.40 121.64L535.80 121.61L536.20 121.59L536.60 121.56L537.00 121.54L537.40 121.51L537.80 121.49L538.20 121.46L538.60 121.44L539.00 121.41L539.40 121.39L539.80 121.36L540.20 121.34L540.60 121.31L541.00 121.29L541.40 121.26L541.80 121.24L542.20 121.21L542.60 121.19L543.00 121.16L543.40 121.14L543.80 121.11L543.89 121.11M553.30 120.53L553.40 120.52L553.80 120.50L554.20 120.47L554.60 120.45L555.00 120.42L555.40 120.40L555.80 120.38L556.20 120.35L556.60 120.33L557.00 120.30L557.40 120.28L557.80 120.26L558.20 120.23L558.60 120.21L559.00 120.18L559.40 120.16L559.80 120.14L560.20 120.11L560.60 120.09L561.00 120.06L561.40 120.04L561.80 120.02L562.20 120.00L562.60 119.97L563.00 119.95L563.40 119.93L563.80 119.91M573.20 119.35L573.40 119.34L573.80 119.32L574.20 119.30L574.60 119.27L575.00 119.25L575.40 119.23L575.80 119.21L576.20 119.18L576.60 119.16L577.00 119.13L577.40 119.11L577.80 119.09L578.20 119.07L578.60 119.04L579.00 119.02L579.40 119.00L579.80 118.98L580.20 118.95L580.60 118.93L581.00 118.90L581.40 118.88L581.80 118.86L582.20 118.84L582.60 118.81L583.00 118.79L583.40 118.77L583.70 118.75M593.10 118.24L593.40 118.22L593.80 118.20L594.20 118.18L594.60 118.15L595.00 118.13L595.40 118.11L595.80 118.09L596.20 118.07L596.60 118.04L597.00 118.02L597.40 118.00L597.80 117.98L598.20 117.96L598.60 117.93L599.00 117.91L599.40 117.89L599.80 117.87L600.20 117.85L600.60 117.82L601.00 117.80L601.40 117.78L601.80 117.76L602.20 117.74L602.60 117.71L603.00 117.69L603.40 117.67L603.60 117.66M613.00 117.16L613.40 117.14L613.80 117.12L614.20 117.10L614.60 117.08L615.00 117.06L615.40 117.04L615.80 117.02L616.20 117.00L616.60 116.97L617.00 116.95L617.40 116.93L617.80 116.91L618.20 116.89L618.60 116.87L619.00 116.85L619.40 116.83L619.80 116.81L620.20 116.79L620.60 116.76L621.00 116.74L621.40 116.72L621.80 116.70L622.20 116.68L622.60 116.66L623.00 116.64L623.40 116.62L623.51 116.61M633.60 116.10L633.80 116.09L634.20 116.07L634.60 116.05L635.00 116.03L635.40 116.01L635.80 115.99L636.20 115.97L636.60 115.95L637.00 115.93L637.40 115.91L637.80 115.89L638.20 115.87L638.60 115.85L639.00 115.83L639.40 115.81L639.80 115.79L640.20 115.77L640.60 115.75L641.00 115.73L641.40 115.71L641.80 115.69L642.20 115.67L642.60 115.65L643.00 115.63L643.40 115.61L643.80 115.59L644.11 115.58M653.50 115.12L653.80 115.11L654.20 115.09L654.60 115.07L655.00 115.05L655.40 115.03L655.80 115.01L656.20 114.99L656.60 114.97L657.00 114.95L657.40 114.93L657.80 114.91L658.20 114.89L658.60 114.88L659.00 114.86L659.40 114.84L659.80 114.82L660.20 114.80L660.60 114.78L661.00 114.76L661.40 114.74L661.80 114.72L662.20 114.70L662.60 114.69L663.00 114.67L663.40 114.65L663.80 114.63L664.01 114.62M673.40 114.18L673.80 114.16L674.20 114.14L674.60 114.13L675.00 114.11L675.40 114.09L675.80 114.07L676.20 114.05L676.60 114.04L677.00 114.02L677.40 114.00L677.80 113.98L678.20 113.96L678.60 113.94L679.00 113.92L679.40 113.90L679.80 113.88L680.20 113.86L680.60 113.85L681.00 113.83L681.40 113.81L681.80 113.79L682.20 113.77L682.60 113.76L683.00 113.74L683.40 113.72L683.80 113.70L683.91 113.70M693.30 113.27L693.40 113.27L693.80 113.25L694.20 113.23L694.60 113.22L695.00 113.20L695.40 113.18L695.80 113.16L696.20 113.14L696.60 113.13L697.00 113.11L697.40 113.09L697.80 113.07L698.20 113.05L698.60 113.04L699.00 113.02L699.40 113.00L699.80 112.98L700.20 112.97L700.60 112.95L701.00 112.94L701.40 112.92L701.80 112.90L702.20 112.88L702.60 112.87L703.00 112.85L703.40 112.83L703.80 112.81L703.81 112.81M713.90 112.37L714.20 112.36L714.60 112.34L715.00 112.33L715.40 112.31L715.80 112.29L716.20 112.27L716.60 112.26L717.00 112.24L717.40 112.22L717.80 112.20L718.20 112.19L718.60 112.17L719.00 112.16L719.40 112.14L719.80 112.12L720.20 112.10L720.60 112.09L721.00 112.07L721.40 112.05L721.80 112.03L722.20 112.02L722.60 112.00L723.00 111.99L723.40 111.97L723.80 111.95L724.20 111.93L724.41 111.92M733.80 111.53L734.20 111.52L734.60 111.50L735.00 111.49L735.40 111.47L735.80 111.45L736.20 111.43L736.60 111.42L737.00 111.40L737.40 111.38L737.80 111.36L738.20 111.35L738.60 111.33L739.00 111.32L739.40 111.30L739.80 111.28L740.20 111.27L740.60 111.25L741.00 111.24L741.40 111.22L741.80 111.20L742.20 111.19L742.60 111.17L743.00 111.16L743.40 111.14L743.80 111.12L744.20 111.11L744.32 111.10M753.70 110.72L753.80 110.71L754.20 110.70L754.60 110.68L755.00 110.67L755.40 110.65L755.80 110.63L756.20 110.62L756.60 110.60L757.00 110.59L757.40 110.57L757.80 110.56L758.20 110.54L758.60 110.53L759.00 110.51L759.40 110.50L759.80 110.48L760.20 110.47L760.60 110.45L761.00 110.44L761.40 110.42L761.80 110.40L762.20 110.39L762.60 110.37L763.00 110.36L763.40 110.34L763.80 110.32L764.20 110.31L764.22 110.31M773.60 109.94L773.80 109.93L774.20 109.92L774.60 109.90L775.00 109.89L775.40 109.87L775.80 109.85L776.20 109.84L776.60 109.82L777.00 109.81L777.40 109.79L777.80 109.78L778.20 109.76L778.60 109.75L779.00 109.73L779.40 109.72L779.80 109.70L780.20 109.69L780.60 109.67L781.00 109.66L781.40 109.64L781.80 109.62L782.20 109.61L782.60 109.59L783.00 109.58L783.40 109.56L783.80 109.55L784.12 109.53M794.20 109.15L794.60 109.14L795.00 109.12L795.40 109.11L795.80 109.09L796.20 109.08L796.60 109.06L797.00 109.05L797.40 109.03L797.80 109.02L798.20 109.00L798.60 108.99L799.00 108.97L799.40 108.96L799.80 108.95L800.20 108.93L800.60 108.92L801.00 108.90L801.40 108.89L801.80 108.87L802.20 108.86L802.60 108.84L803.00 108.83L803.40 108.81L803.80 108.80L804.20 108.78L804.60 108.77L804.72 108.76M814.10 108.42L814.20 108.42L814.60 108.40L815.00 108.39L815.40 108.37L815.80 108.36L816.20 108.34L816.60 108.33L817.00 108.31L817.40 108.30L817.80 108.29L818.20 108.27L818.60 108.26L819.00 108.24L819.40 108.23L819.80 108.22L820.20 108.20L820.60 108.19L821.00 108.17L821.40 108.16L821.80 108.14L822.20 108.13L822.60 108.11L823.00 108.10L823.40 108.08L823.80 108.07L824.20 108.05L824.60 108.04L824.62 108.04M834.00 107.71L834.20 107.70L834.60 107.69L835.00 107.67L835.40 107.66L835.80 107.65L836.20 107.63L836.60 107.62L837.00 107.60L837.40 107.59L837.80 107.58L838.20 107.56L838.60 107.55L839.00 107.53L839.40 107.52L839.80 107.51L840.20 107.49L840.60 107.48L841.00 107.46L841.40 107.45L841.80 107.44L842.20 107.42L842.60 107.41L843.00 107.39L843.40 107.38L843.80 107.37L844.20 107.35L844.52 107.34M854.60 106.99L855.00 106.98L855.40 106.97L855.80 106.96L856.20 106.94L856.60 106.93L857.00 106.91L857.40 106.90L857.80 106.89L858.20 106.87L858.60 106.86L859.00 106.84L859.40 106.83L859.80 106.82L860.20 106.80L860.60 106.79L861.00 106.77L861.40 106.76L861.80 106.75L862.20 106.73L862.60 106.72L863.00 106.70L863.40 106.69L863.80 106.68L864.20 106.67L864.60 106.65L865.00 106.64L865.12 106.64M874.50 106.32L874.60 106.32L875.00 106.30L875.40 106.29L875.80 106.28L876.20 106.27L876.60 106.25L877.00 106.24L877.40 106.23L877.80 106.22L878.20 106.20L878.60 106.19L879.00 106.17L879.40 106.16L879.80 106.15L880.20 106.13L880.60 106.12L881.00 106.10L881.40 106.09L881.80 106.08L882.20 106.07L882.60 106.05L883.00 106.04L883.40 106.03L883.80 106.02L884.20 106.00L884.60 105.99L885.00 105.97L885.02 105.97M894.40 105.67L894.60 105.66L895.00 105.65L895.40 105.64L895.80 105.63L896.20 105.61L896.60 105.60L897.00 105.58L897.40 105.57L897.80 105.56L898.20 105.55L898.60 105.53L899.00 105.52L899.40 105.51L899.80 105.50L900.20 105.49L900.60 105.47L901.00 105.46L901.40 105.45L901.80 105.44L902.20 105.42L902.60 105.41L903.00 105.39L903.40 105.38L903.80 105.37L904.20 105.36L904.60 105.34L904.92 105.33M914.30 105.04L914.60 105.03L915.00 105.01L915.40 105.00L915.80 104.99L916.20 104.98L916.60 104.96L917.00 104.95L917.40 104.94L917.80 104.93L918.20 104.92L918.60 104.90L919.00 104.89L919.40 104.88L919.80 104.87L920.20 104.86L920.60 104.84L921.00 104.83L921.40 104.82L921.80 104.81L922.20 104.79L922.60 104.78L923.00 104.76L923.40 104.75L923.80 104.74L924.20 104.73L924.60 104.71L924.82 104.71M934.90 104.40L935.00 104.40L935.40 104.39L935.80 104.38L936.20 104.36L936.60 104.35L937.00 104.33L937.40 104.32L937.80 104.31L938.20 104.30L938.60 104.28L939.00 104.27L939.40 104.26L939.80 104.25L940.20 104.24L940.60 104.22L941.00 104.21L941.40 104.20L941.80 104.19L942.20 104.18L942.60 104.16L943.00 104.15L943.40 104.14L943.80 104.13L944.20 104.12L944.60 104.10L945.00 104.09L945.40 104.08L945.42 104.08M955.50 103.78L955.80 103.77L956.20 103.76L956.60 103.74L957.00 103.73L957.40 103.72L957.80 103.71L958.20 103.70L958.60 103.68L959.00 103.67L959.40 103.66L959.80 103.65L960.20 103.64L960.60 103.63L961.00 103.62L961.40 103.61L961.80 103.60L962.20 103.59L962.60 103.57L963.00 103.56L963.40 103.55L963.80 103.54L964.20 103.53L964.60 103.51L965.00 103.50L965.40 103.49L965.80 103.48L966.02 103.47M976.10 103.18L976.20 103.18L976.60 103.16L977.00 103.15L977.40 103.14L977.80 103.13L978.20 103.12L978.60 103.10L979.00 103.09L979.40 103.08L979.80 103.07L980.20 103.06L980.60 103.04L981.00 103.03L981.40 103.02L981.80 103.01L982.20 103.00L982.60 102.99L983.00 102.98L983.40 102.97L983.80 102.96L984.20 102.95L984.60 102.93L985.00 102.92L985.40 102.91L985.80 102.90L986.20 102.89L986.60 102.87L986.62 102.87M996.70 102.59L997.00 102.58L997.40 102.57L997.80 102.56L998.20 102.55L998.60 102.53L999.00 102.52L999.40 102.51L999.80 102.50L1000.20 102.49L1000.60 102.48L1001.00 102.47L1001.40 102.46L1001.80 102.45L1002.20 102.44L1002.60 102.42L1003.00 102.41L1003.40 102.40L1003.77 102.39L1004.13 102.38L1004.50 102.37" fill="none" stroke="#000" stroke-width="1.5" stroke-linecap="butt"/><path d="M255.69 172.64L256.61 174.75M257.60 176.97L258.58 179.05M260.06 182.05L261.14 184.09M262.79 187.06L263.94 189.04M265.81 191.97L267.12 193.86M269.25 196.72L270.72 198.48M273.22 201.23L274.89 202.80M277.92 205.30L279.81 206.62M283.45 208.72L285.57 209.63M289.83 211.05L292.08 211.57M296.72 212.20L299.01 212.37M303.74 212.24L306.03 212.04M310.67 211.35L312.93 210.93M317.44 209.90L319.67 209.35M324.11 208.18L326.34 207.59M330.75 206.38L332.97 205.77M337.35 204.51L339.56 203.86M343.91 202.54L346.11 201.87M350.43 200.51L352.63 199.83M356.96 198.49L359.16 197.81M363.50 196.48L365.70 195.81M370.05 194.49L372.25 193.83M376.62 192.55L378.83 191.91M383.22 190.66L385.43 190.03M389.84 188.82L392.06 188.22M396.49 187.03L398.72 186.45M403.16 185.29L405.39 184.74M409.86 183.63L412.10 183.09M416.58 182.02L418.82 181.49M423.33 180.47L425.57 179.97M430.10 178.98L432.35 178.49M436.89 177.54L439.14 177.08M443.69 176.15L445.95 175.71M450.52 174.82L452.78 174.39M457.36 173.54L459.62 173.13M464.21 172.31L466.48 171.91M471.08 171.12L473.35 170.74M477.96 169.98L480.23 169.61M484.86 168.87L487.13 168.52M491.76 167.81L494.03 167.47M498.67 166.79L500.95 166.46M505.59 165.79L507.87 165.47M512.52 164.84L514.80 164.53M519.46 163.91L521.74 163.61M526.40 163.01L528.68 162.72M533.35 162.14L535.63 161.85M540.30 161.29L542.58 161.02M547.26 160.48L549.54 160.20M554.22 159.67L556.51 159.41M561.19 158.90L563.48 158.65M568.16 158.14L570.45 157.90M575.14 157.41L577.42 157.17M582.11 156.69L584.40 156.46M589.09 155.99L591.38 155.76M596.08 155.30L598.37 155.09M603.06 154.64L605.35 154.42M610.05 153.99L612.34 153.77M617.04 153.35L619.33 153.14M624.03 152.72L626.33 152.52M631.03 152.10L633.32 151.91M638.02 151.51L640.32 151.31M645.02 150.91L647.31 150.73M652.02 150.34L654.31 150.14M659.02 149.77L661.31 149.59M666.02 149.21L668.32 149.03M673.03 148.67L675.32 148.49M680.03 148.13L682.33 147.95M687.04 147.59L689.33 147.42M694.05 147.08L696.34 146.91M701.05 146.56L703.35 146.40M708.06 146.06L710.36 145.90M715.07 145.57L717.37 145.41M722.08 145.08L724.38 144.92M729.09 144.59L731.39 144.44M736.11 144.13L738.40 143.98M743.12 143.66L745.42 143.51M750.14 143.20L752.43 143.06M757.15 142.75L759.45 142.61M764.17 142.30L766.46 142.17M771.18 141.88L773.48 141.73M778.20 141.44L780.50 141.30M785.22 141.02L787.51 140.88M792.24 140.60L794.53 140.48M799.26 140.20L801.55 140.06M806.28 139.79L808.57 139.66M813.30 139.39L815.59 139.27M820.32 139.01L822.62 138.88M827.34 138.63L829.64 138.50M834.36 138.25L836.66 138.13M841.39 137.89L843.68 137.76M848.41 137.52L850.71 137.41M855.44 137.17L857.73 137.06M862.46 136.82L864.76 136.71M869.49 136.48L871.78 136.38M876.51 136.15L878.81 136.03M883.54 135.83L885.84 135.71M890.57 135.50L892.86 135.40M897.59 135.19L899.89 135.09M904.62 134.89L906.92 134.78M911.65 134.59L913.95 134.49M918.68 134.30L920.98 134.21M925.71 134.02L928.01 133.93M932.74 133.74L935.04 133.64M939.77 133.46L942.07 133.38M946.80 133.21L949.10 133.13M953.83 132.95L956.13 132.87M960.87 132.72L963.17 132.64M967.90 132.47L970.20 132.40M974.93 132.24L977.23 132.17M981.97 132.02L984.26 131.95M989.00 131.81L991.30 131.74M996.03 131.61L998.33 131.54" fill="none" stroke="#000" stroke-width="1.5" stroke-linecap="butt"/><path d="M254.90 304.86C254.98 305.00 255.23 305.43 255.40 305.70C255.57 305.97 255.73 306.25 255.90 306.51C256.07 306.77 256.23 307.04 256.40 307.29C256.57 307.55 256.73 307.80 256.90 308.04C257.07 308.28 257.23 308.52 257.40 308.75C257.57 308.98 257.73 309.21 257.90 309.44C258.07 309.67 258.23 309.88 258.40 310.10C258.57 310.32 258.73 310.53 258.90 310.74C259.07 310.95 259.23 311.15 259.40 311.35C259.57 311.55 259.73 311.74 259.90 311.93C260.07 312.12 260.23 312.30 260.40 312.48C260.57 312.66 260.73 312.84 260.90 313.01C261.07 313.18 261.23 313.35 261.40 313.52C261.57 313.69 261.73 313.84 261.90 314.00C262.07 314.16 262.23 314.31 262.40 314.46C262.57 314.61 262.73 314.76 262.90 314.90C263.07 315.04 263.23 315.18 263.40 315.31C263.57 315.44 263.73 315.58 263.90 315.71C264.07 315.84 264.23 315.96 264.40 316.08C264.57 316.20 264.73 316.32 264.90 316.44C265.07 316.56 265.23 316.66 265.40 316.77C265.57 316.88 265.73 316.99 265.90 317.09C266.07 317.19 266.23 317.29 266.40 317.39C266.57 317.49 266.73 317.59 266.90 317.68C267.07 317.77 267.23 317.85 267.40 317.94C267.57 318.03 267.73 318.12 267.90 318.20C268.07 318.28 268.23 318.35 268.40 318.43C268.57 318.51 268.73 318.59 268.90 318.66C269.07 318.73 269.23 318.79 269.40 318.86C269.57 318.93 269.73 319.00 269.90 319.06C270.07 319.12 270.23 319.18 270.40 319.24C270.57 319.30 270.73 319.36 270.90 319.42C271.07 319.48 271.23 319.53 271.40 319.58C271.57 319.63 271.73 319.68 271.90 319.73C272.07 319.78 272.23 319.82 272.40 319.87C272.57 319.92 272.73 319.96 272.90 320.00C273.07 320.04 273.23 320.08 273.40 320.12C273.57 320.16 273.73 320.20 273.90 320.24C274.07 320.28 274.23 320.31 274.40 320.34C274.57 320.37 274.48 320.37 274.90 320.44C275.32 320.51 276.23 320.66 276.90 320.74C277.57 320.82 278.23 320.88 278.90 320.92C279.57 320.96 280.23 320.99 280.90 321.00C281.57 321.01 282.23 321.01 282.90 321.00C283.57 320.99 284.23 320.96 284.90 320.92C285.57 320.88 286.23 320.84 286.90 320.79C287.57 320.74 288.23 320.69 288.90 320.63C289.57 320.57 290.23 320.50 290.90 320.43C291.57 320.36 292.23 320.27 292.90 320.19C293.57 320.11 294.23 320.02 294.90 319.93C295.57 319.84 296.23 319.74 296.90 319.64C297.57 319.54 298.23 319.44 298.90 319.33C299.57 319.22 300.23 319.10 300.90 318.98C301.57 318.86 302.23 318.75 302.90 318.62C303.57 318.50 304.23 318.37 304.90 318.23C305.57 318.10 306.23 317.95 306.90 317.81C307.57 317.67 308.23 317.53 308.90 317.38C309.57 317.23 310.23 317.08 310.90 316.93C311.57 316.78 312.23 316.63 312.90 316.47C313.57 316.31 314.23 316.15 314.90 315.99C315.57 315.83 316.23 315.67 316.90 315.51C317.57 315.35 318.23 315.18 318.90 315.02C319.57 314.86 320.23 314.69 320.90 314.53C321.57 314.36 322.23 314.20 322.90 314.03C323.57 313.86 324.23 313.70 324.90 313.53C325.57 313.36 326.23 313.20 326.90 313.03C327.57 312.86 328.23 312.69 328.90 312.53C329.57 312.37 330.23 312.21 330.90 312.04C331.57 311.88 332.23 311.71 332.90 311.54C333.57 311.37 334.23 311.21 334.90 311.04C335.57 310.88 336.23 310.72 336.90 310.55C337.57 310.38 338.23 310.22 338.90 310.05C339.57 309.88 340.23 309.71 340.90 309.54C341.57 309.37 342.23 309.21 342.90 309.04C343.57 308.87 344.23 308.70 344.90 308.53C345.57 308.36 346.23 308.18 346.90 308.01C347.57 307.84 348.23 307.67 348.90 307.50C349.57 307.33 350.23 307.16 350.90 306.99C351.57 306.82 352.23 306.64 352.90 306.47C353.57 306.30 354.23 306.13 354.90 305.96C355.57 305.79 356.23 305.61 356.90 305.44C357.57 305.27 358.23 305.09 358.90 304.92C359.57 304.75 360.23 304.58 360.90 304.41C361.57 304.24 362.23 304.06 362.90 303.89C363.57 303.72 364.23 303.55 364.90 303.38C365.57 303.21 366.23 303.03 366.90 302.86C367.57 302.69 368.23 302.52 368.90 302.35C369.57 302.18 370.23 302.01 370.90 301.84C371.57 301.67 372.23 301.49 372.90 301.32C373.57 301.15 374.23 300.98 374.90 300.81C375.57 300.64 376.23 300.47 376.90 300.30C377.57 300.13 378.23 299.96 378.90 299.79C379.57 299.62 380.23 299.45 380.90 299.28C381.57 299.11 382.23 298.94 382.90 298.77C383.57 298.60 384.23 298.43 384.90 298.26C385.57 298.09 386.23 297.92 386.90 297.75C387.57 297.58 388.23 297.42 388.90 297.25C389.57 297.08 390.23 296.91 390.90 296.74C391.57 296.57 392.23 296.41 392.90 296.24C393.57 296.07 394.23 295.91 394.90 295.74C395.57 295.57 396.23 295.41 396.90 295.24C397.57 295.07 398.23 294.91 398.90 294.74C399.57 294.57 400.23 294.41 400.90 294.24C401.57 294.07 402.23 293.91 402.90 293.74C403.57 293.57 404.23 293.41 404.90 293.24C405.57 293.07 406.23 292.92 406.90 292.75C407.57 292.58 408.23 292.42 408.90 292.25C409.57 292.08 410.23 291.92 410.90 291.76C411.57 291.60 412.23 291.43 412.90 291.27C413.57 291.11 414.23 290.94 414.90 290.78C415.57 290.62 416.23 290.45 416.90 290.29C417.57 290.13 418.23 289.97 418.90 289.81C419.57 289.65 420.23 289.48 420.90 289.32C421.57 289.16 422.23 289.00 422.90 288.84C423.57 288.68 424.23 288.52 424.90 288.36C425.57 288.20 426.23 288.04 426.90 287.88C427.57 287.72 428.23 287.56 428.90 287.40C429.57 287.24 430.23 287.08 430.90 286.92C431.57 286.76 432.23 286.61 432.90 286.45C433.57 286.29 434.23 286.14 434.90 285.98C435.57 285.82 436.23 285.66 436.90 285.50C437.57 285.34 438.23 285.18 438.90 285.03C439.57 284.88 440.23 284.72 440.90 284.57C441.57 284.42 442.23 284.26 442.90 284.10C443.57 283.94 444.23 283.78 444.90 283.63C445.57 283.48 446.23 283.32 446.90 283.17C447.57 283.02 448.23 282.86 448.90 282.71C449.57 282.56 450.23 282.40 450.90 282.25C451.57 282.10 452.23 281.94 452.90 281.79C453.57 281.64 454.23 281.48 454.90 281.33C455.57 281.18 456.23 281.03 456.90 280.88C457.57 280.73 458.23 280.58 458.90 280.43C459.57 280.28 460.23 280.13 460.90 279.98C461.57 279.83 462.23 279.68 462.90 279.53C463.57 279.38 464.23 279.23 464.90 279.08C465.57 278.93 466.23 278.78 466.90 278.63C467.57 278.48 468.23 278.34 468.90 278.19C469.57 278.04 470.23 277.90 470.90 277.75C471.57 277.60 472.23 277.45 472.90 277.30C473.57 277.15 474.23 277.01 474.90 276.87C475.57 276.73 476.23 276.58 476.90 276.43C477.57 276.28 478.23 276.13 478.90 275.99C479.57 275.85 480.23 275.70 480.90 275.56C481.57 275.42 482.23 275.27 482.90 275.13C483.57 274.99 484.23 274.84 484.90 274.70C485.57 274.56 486.23 274.41 486.90 274.27C487.57 274.13 488.23 273.98 488.90 273.84C489.57 273.70 490.23 273.56 490.90 273.42C491.57 273.28 492.23 273.14 492.90 273.00C493.57 272.86 494.23 272.71 494.90 272.57C495.57 272.43 496.23 272.30 496.90 272.16C497.57 272.02 498.23 271.88 498.90 271.74C499.57 271.60 500.23 271.46 500.90 271.32C501.57 271.18 502.23 271.05 502.90 270.91C503.57 270.77 504.23 270.64 504.90 270.50C505.57 270.36 506.23 270.23 506.90 270.09C507.57 269.95 508.23 269.82 508.90 269.68C509.57 269.54 510.23 269.41 510.90 269.27C511.57 269.13 512.23 269.00 512.90 268.86C513.57 268.73 514.23 268.59 514.90 268.46C515.57 268.33 516.23 268.19 516.90 268.06C517.57 267.93 518.23 267.79 518.90 267.66C519.57 267.53 520.23 267.39 520.90 267.26C521.57 267.13 522.23 266.99 522.90 266.86C523.57 266.73 524.23 266.60 524.90 266.47C525.57 266.34 526.23 266.21 526.90 266.08C527.57 265.95 528.23 265.81 528.90 265.68C529.57 265.55 530.23 265.42 530.90 265.29C531.57 265.16 532.23 265.04 532.90 264.91C533.57 264.78 534.23 264.65 534.90 264.52C535.57 264.39 536.23 264.26 536.90 264.13C537.57 264.00 538.23 263.88 538.90 263.75C539.57 263.62 540.23 263.50 540.90 263.37C541.57 263.24 542.23 263.12 542.90 262.99C543.57 262.86 544.23 262.74 544.90 262.61C545.57 262.49 546.23 262.37 546.90 262.24C547.57 262.12 548.23 261.99 548.90 261.86C549.57 261.74 550.23 261.61 550.90 261.49C551.57 261.37 552.23 261.24 552.90 261.12C553.57 261.00 554.23 260.87 554.90 260.75C555.57 260.63 556.23 260.50 556.90 260.38C557.57 260.26 558.23 260.13 558.90 260.01C559.57 259.89 560.23 259.77 560.90 259.65C561.57 259.53 562.23 259.40 562.90 259.28C563.57 259.16 564.23 259.04 564.90 258.92C565.57 258.80 566.23 258.68 566.90 258.56C567.57 258.44 568.23 258.32 568.90 258.20C569.57 258.08 570.23 257.97 570.90 257.85C571.57 257.73 572.23 257.61 572.90 257.49C573.57 257.37 574.23 257.26 574.90 257.14C575.57 257.02 576.23 256.91 576.90 256.79C577.57 256.67 578.23 256.55 578.90 256.43C579.57 256.31 580.23 256.20 580.90 256.09C581.57 255.97 582.23 255.86 582.90 255.74C583.57 255.62 584.23 255.50 584.90 255.39C585.57 255.27 586.23 255.17 586.90 255.05C587.57 254.94 588.23 254.81 588.90 254.70C589.57 254.58 590.23 254.47 590.90 254.36C591.57 254.25 592.23 254.13 592.90 254.02C593.57 253.91 594.23 253.79 594.90 253.68C595.57 253.57 596.23 253.46 596.90 253.35C597.57 253.24 598.23 253.12 598.90 253.01C599.57 252.90 600.23 252.79 600.90 252.68C601.57 252.57 602.23 252.45 602.90 252.34C603.57 252.23 604.23 252.12 604.90 252.01C605.57 251.90 606.23 251.79 606.90 251.68C607.57 251.57 608.23 251.46 608.90 251.35C609.57 251.24 610.23 251.14 610.90 251.03C611.57 250.92 612.23 250.81 612.90 250.70C613.57 250.59 614.23 250.49 614.90 250.38C615.57 250.27 616.23 250.17 616.90 250.06C617.57 249.95 618.23 249.84 618.90 249.73C619.57 249.62 620.23 249.51 620.90 249.41C621.57 249.31 622.23 249.20 622.90 249.10C623.57 249.00 624.23 248.89 624.90 248.78C625.57 248.67 626.23 248.56 626.90 248.46C627.57 248.36 628.23 248.25 628.90 248.15C629.57 248.05 630.23 247.94 630.90 247.83C631.57 247.73 632.23 247.62 632.90 247.52C633.57 247.42 634.23 247.31 634.90 247.21C635.57 247.11 636.23 247.00 636.90 246.90C637.57 246.80 638.23 246.70 638.90 246.60C639.57 246.50 640.23 246.39 640.90 246.29C641.57 246.19 642.23 246.08 642.90 245.98C643.57 245.88 644.23 245.78 644.90 245.68C645.57 245.58 646.23 245.48 646.90 245.38C647.57 245.28 648.23 245.18 648.90 245.08C649.57 244.98 650.23 244.88 650.90 244.78C651.57 244.68 652.23 244.58 652.90 244.48C653.57 244.38 654.23 244.28 654.90 244.18C655.57 244.08 656.23 243.98 656.90 243.88C657.57 243.78 658.23 243.69 658.90 243.59C659.57 243.49 660.23 243.40 660.90 243.30C661.57 243.20 662.23 243.10 662.90 243.00C663.57 242.90 664.23 242.81 664.90 242.71C665.57 242.61 666.23 242.52 666.90 242.42C667.57 242.32 668.23 242.22 668.90 242.13C669.57 242.03 670.23 241.94 670.90 241.85C671.57 241.75 672.23 241.66 672.90 241.56C673.57 241.46 674.23 241.37 674.90 241.27C675.57 241.18 676.23 241.08 676.90 240.99C677.57 240.90 678.23 240.80 678.90 240.71C679.57 240.62 680.23 240.52 680.90 240.43C681.57 240.34 682.23 240.24 682.90 240.15C683.57 240.06 684.23 239.96 684.90 239.87C685.57 239.78 686.23 239.68 686.90 239.59C687.57 239.50 688.23 239.40 688.90 239.31C689.57 239.22 690.23 239.12 690.90 239.03C691.57 238.94 692.23 238.85 692.90 238.76C693.57 238.67 694.23 238.58 694.90 238.49C695.57 238.40 696.23 238.30 696.90 238.21C697.57 238.12 698.23 238.03 698.90 237.94C699.57 237.85 700.23 237.76 700.90 237.67C701.57 237.58 702.23 237.49 702.90 237.40C703.57 237.31 704.23 237.22 704.90 237.13C705.57 237.04 706.23 236.96 706.90 236.87C707.57 236.78 708.23 236.69 708.90 236.60C709.57 236.51 710.23 236.43 710.90 236.34C711.57 236.25 712.23 236.16 712.90 236.07C713.57 235.98 714.23 235.90 714.90 235.81C715.57 235.72 716.23 235.64 716.90 235.55C717.57 235.46 718.23 235.38 718.90 235.29C719.57 235.20 720.23 235.12 720.90 235.03C721.57 234.94 722.23 234.86 722.90 234.77C723.57 234.68 724.23 234.60 724.90 234.51C725.57 234.42 726.23 234.34 726.90 234.25C727.57 234.16 728.23 234.09 728.90 234.00C729.57 233.91 730.23 233.83 730.90 233.74C731.57 233.66 732.23 233.58 732.90 233.49C733.57 233.41 734.23 233.31 734.90 233.23C735.57 233.14 736.23 233.06 736.90 232.98C737.57 232.90 738.23 232.81 738.90 232.73C739.57 232.65 740.23 232.56 740.90 232.48C741.57 232.40 742.23 232.31 742.90 232.23C743.57 232.15 744.23 232.06 744.90 231.98C745.57 231.90 746.23 231.82 746.90 231.74C747.57 231.66 748.23 231.57 748.90 231.49C749.57 231.41 750.23 231.33 750.90 231.25C751.57 231.17 752.23 231.08 752.90 231.00C753.57 230.92 754.23 230.84 754.90 230.76C755.57 230.68 756.23 230.60 756.90 230.52C757.57 230.44 758.23 230.35 758.90 230.27C759.57 230.19 760.23 230.11 760.90 230.03C761.57 229.95 762.23 229.87 762.90 229.79C763.57 229.71 764.23 229.63 764.90 229.55C765.57 229.47 766.23 229.40 766.90 229.32C767.57 229.24 768.23 229.16 768.90 229.08C769.57 229.00 770.23 228.92 770.90 228.84C771.57 228.76 772.23 228.69 772.90 228.61C773.57 228.53 774.23 228.45 774.90 228.37C775.57 228.29 776.23 228.22 776.90 228.14C777.57 228.06 778.23 227.98 778.90 227.90C779.57 227.82 780.23 227.75 780.90 227.67C781.57 227.59 782.23 227.52 782.90 227.44C783.57 227.36 784.23 227.29 784.90 227.21C785.57 227.13 786.23 227.06 786.90 226.98C787.57 226.90 788.23 226.83 788.90 226.75C789.57 226.67 790.23 226.59 790.90 226.52C791.57 226.45 792.23 226.38 792.90 226.30C793.57 226.23 794.23 226.15 794.90 226.07C795.57 225.99 796.23 225.91 796.90 225.84C797.57 225.77 798.23 225.69 798.90 225.62C799.57 225.55 800.23 225.46 800.90 225.39C801.57 225.31 802.23 225.24 802.90 225.17C803.57 225.10 804.23 225.02 804.90 224.95C805.57 224.88 806.23 224.80 806.90 224.73C807.57 224.66 808.23 224.57 808.90 224.50C809.57 224.43 810.23 224.35 810.90 224.28C811.57 224.21 812.23 224.13 812.90 224.06C813.57 223.99 814.23 223.91 814.90 223.84C815.57 223.77 816.23 223.70 816.90 223.63C817.57 223.56 818.23 223.48 818.90 223.41C819.57 223.34 820.23 223.26 820.90 223.19C821.57 223.12 822.23 223.05 822.90 222.98C823.57 222.91 824.23 222.83 824.90 222.76C825.57 222.69 826.23 222.62 826.90 222.55C827.57 222.48 828.23 222.40 828.90 222.33C829.57 222.26 830.23 222.19 830.90 222.12C831.57 222.05 832.23 221.98 832.90 221.91C833.57 221.84 834.23 221.76 834.90 221.69C835.57 221.62 836.23 221.55 836.90 221.48C837.57 221.41 838.23 221.34 838.90 221.27C839.57 221.20 840.23 221.13 840.90 221.06C841.57 220.99 842.23 220.92 842.90 220.85C843.57 220.78 844.23 220.71 844.90 220.64C845.57 220.57 846.23 220.51 846.90 220.44C847.57 220.37 848.23 220.30 848.90 220.23C849.57 220.16 850.23 220.09 850.90 220.02C851.57 219.95 852.23 219.88 852.90 219.81C853.57 219.74 854.23 219.68 854.90 219.61C855.57 219.54 856.23 219.47 856.90 219.40C857.57 219.33 858.23 219.27 858.90 219.20C859.57 219.13 860.23 219.07 860.90 219.00C861.57 218.93 862.23 218.86 862.90 218.79C863.57 218.72 864.23 218.66 864.90 218.59C865.57 218.52 866.23 218.46 866.90 218.39C867.57 218.32 868.23 218.26 868.90 218.19C869.57 218.12 870.23 218.06 870.90 217.99C871.57 217.92 872.23 217.86 872.90 217.79C873.57 217.72 874.23 217.66 874.90 217.59C875.57 217.52 876.23 217.46 876.90 217.39C877.57 217.32 878.23 217.26 878.90 217.19C879.57 217.12 880.23 217.06 880.90 216.99C881.57 216.92 882.23 216.85 882.90 216.79C883.57 216.72 884.23 216.66 884.90 216.60C885.57 216.53 886.23 216.47 886.90 216.40C887.57 216.34 888.23 216.28 888.90 216.21C889.57 216.15 890.23 216.07 890.90 216.01C891.57 215.94 892.23 215.88 892.90 215.82C893.57 215.75 894.23 215.69 894.90 215.62C895.57 215.56 896.23 215.49 896.90 215.43C897.57 215.37 898.23 215.31 898.90 215.24C899.57 215.18 900.23 215.10 900.90 215.04C901.57 214.97 902.23 214.91 902.90 214.85C903.57 214.79 904.23 214.72 904.90 214.66C905.57 214.60 906.23 214.53 906.90 214.47C907.57 214.41 908.23 214.34 908.90 214.28C909.57 214.22 910.23 214.15 910.90 214.09C911.57 214.03 912.23 213.96 912.90 213.90C913.57 213.84 914.23 213.77 914.90 213.71C915.57 213.65 916.23 213.58 916.90 213.52C917.57 213.46 918.23 213.39 918.90 213.33C919.57 213.27 920.23 213.21 920.90 213.15C921.57 213.09 922.23 213.02 922.90 212.96C923.57 212.90 924.23 212.83 924.90 212.77C925.57 212.71 926.23 212.65 926.90 212.59C927.57 212.53 928.23 212.46 928.90 212.40C929.57 212.34 930.23 212.28 930.90 212.22C931.57 212.16 932.23 212.09 932.90 212.03C933.57 211.97 934.23 211.91 934.90 211.85C935.57 211.79 936.23 211.72 936.90 211.66C937.57 211.60 938.23 211.54 938.90 211.48C939.57 211.42 940.23 211.36 940.90 211.30C941.57 211.24 942.23 211.17 942.90 211.11C943.57 211.05 944.23 210.99 944.90 210.93C945.57 210.87 946.23 210.81 946.90 210.75C947.57 210.69 948.23 210.63 948.90 210.57C949.57 210.51 950.23 210.45 950.90 210.39C951.57 210.33 952.23 210.27 952.90 210.21C953.57 210.15 954.23 210.09 954.90 210.03C955.57 209.97 956.23 209.91 956.90 209.85C957.57 209.79 958.23 209.73 958.90 209.67C959.57 209.61 960.23 209.55 960.90 209.49C961.57 209.43 962.23 209.37 962.90 209.31C963.57 209.25 964.23 209.19 964.90 209.13C965.57 209.07 966.23 209.01 966.90 208.95C967.57 208.89 968.23 208.84 968.90 208.78C969.57 208.72 970.23 208.66 970.90 208.60C971.57 208.54 972.23 208.48 972.90 208.42C973.57 208.36 974.23 208.30 974.90 208.24C975.57 208.18 976.23 208.13 976.90 208.07C977.57 208.01 978.23 207.95 978.90 207.89C979.57 207.83 980.23 207.78 980.90 207.72C981.57 207.66 982.23 207.60 982.90 207.54C983.57 207.48 984.23 207.43 984.90 207.37C985.57 207.31 986.23 207.25 986.90 207.19C987.57 207.13 988.23 207.08 988.90 207.02C989.57 206.96 990.23 206.91 990.90 206.85C991.57 206.79 992.23 206.73 992.90 206.67C993.57 206.61 994.23 206.56 994.90 206.50C995.57 206.44 996.23 206.39 996.90 206.33C997.57 206.27 998.23 206.22 998.90 206.16C999.57 206.10 1000.23 206.04 1000.90 205.98C1001.57 205.92 1002.27 205.86 1002.90 205.81C1003.53 205.76 1004.40 205.69 1004.70 205.66" fill="none" stroke="#000" stroke-width="1.5" stroke-linecap="butt"/><path d="M188.00 138.13C324.17 138.13 868.83 138.13 1005.00 138.13" fill="none" stroke="#000" stroke-width="1.5" stroke-linecap="butt" stroke-dasharray="20 10.16"/></g>
<g clip-path="url(#c1)"><path d="M254.93 564.62L256.93 565.75M260.86 567.54L263.01 568.36M267.88 569.88L270.11 570.41M275.60 571.50L275.70 571.51L276.10 571.57L276.50 571.64L276.90 571.70L277.30 571.76L277.70 571.82L278.10 571.87L278.50 571.93L278.90 571.98L279.30 572.04L279.70 572.09L280.10 572.14L280.50 572.18L280.90 572.23L281.30 572.28L281.70 572.32L282.10 572.36L282.50 572.40L282.90 572.44L283.30 572.48L283.70 572.52L284.10 572.55L284.50 572.59L284.90 572.62L285.30 572.66L285.70 572.69L286.10 572.72L286.50 572.76L286.90 572.79L287.30 572.82L287.70 572.85L288.10 572.87L288.50 572.90L288.90 572.92L289.30 572.95L289.70 572.97L290.10 572.99L290.15 573.00M295.18 573.22L297.48 573.29M302.79 573.36L305.09 573.37M310.41 573.34L312.71 573.31M318.40 573.19L318.50 573.19L318.90 573.18L319.30 573.17L319.70 573.16L320.10 573.15L320.50 573.13L320.90 573.12L321.30 573.11L321.70 573.10L322.10 573.09L322.50 573.08L322.90 573.07L323.30 573.06L323.70 573.05L324.10 573.03L324.50 573.02L324.90 573.00L325.30 572.99L325.70 572.98L326.10 572.96L326.50 572.95L326.90 572.93L327.30 572.92L327.70 572.91L328.10 572.89L328.50 572.88L328.90 572.86L329.30 572.85L329.70 572.84L330.10 572.82L330.50 572.81L330.90 572.79L331.30 572.78L331.70 572.76L332.10 572.75L332.50 572.73L332.90 572.72L333.08 572.71M337.71 572.52L340.01 572.42M344.92 572.20L347.21 572.09M352.12 571.86L354.42 571.74M359.70 571.49L360.10 571.47L360.50 571.45L360.90 571.43L361.30 571.41L361.70 571.39L362.10 571.37L362.50 571.35L362.90 571.33L363.30 571.31L363.70 571.29L364.10 571.27L364.50 571.25L364.90 571.23L365.30 571.21L365.70 571.19L366.10 571.17L366.50 571.14L366.90 571.12L367.30 571.10L367.70 571.08L368.10 571.06L368.50 571.04L368.90 571.02L369.30 571.00L369.70 570.98L370.10 570.96L370.50 570.94L370.90 570.92L371.30 570.90L371.70 570.88L372.10 570.86L372.50 570.83L372.90 570.81L373.30 570.79L373.70 570.77L374.10 570.75L374.36 570.74M378.57 570.52L380.87 570.40M385.36 570.17L387.65 570.05M392.14 569.81L394.44 569.69M399.30 569.44L399.70 569.42L400.10 569.40L400.50 569.38L400.90 569.36L401.30 569.34L401.70 569.32L402.10 569.30L402.50 569.27L402.90 569.25L403.30 569.23L403.70 569.21L404.10 569.19L404.50 569.17L404.90 569.15L405.30 569.13L405.70 569.11L406.10 569.09L406.50 569.07L406.90 569.05L407.30 569.03L407.70 569.01L408.10 568.99L408.50 568.97L408.90 568.95L409.30 568.93L409.70 568.91L410.10 568.89L410.50 568.86L410.90 568.84L411.30 568.82L411.70 568.80L412.10 568.78L412.50 568.76L412.90 568.74L413.30 568.72L413.70 568.70L413.96 568.69M418.59 568.45L420.89 568.33M425.81 568.08L428.10 567.97M433.02 567.72L435.31 567.61M440.60 567.35L440.90 567.34L441.30 567.32L441.70 567.30L442.10 567.28L442.50 567.26L442.90 567.24L443.30 567.22L443.70 567.20L444.10 567.18L444.50 567.16L444.90 567.14L445.30 567.12L445.70 567.10L446.10 567.08L446.50 567.06L446.90 567.04L447.30 567.02L447.70 567.00L448.10 566.98L448.50 566.96L448.90 566.94L449.30 566.92L449.70 566.90L450.10 566.88L450.50 566.87L450.90 566.85L451.30 566.83L451.70 566.81L452.10 566.79L452.50 566.77L452.90 566.75L453.30 566.73L453.70 566.71L454.10 566.69L454.50 566.68L454.90 566.66L455.26 566.64M460.07 566.41L462.37 566.30M467.46 566.06L469.75 565.95M474.84 565.71L477.14 565.61M482.60 565.35L482.90 565.34L483.30 565.32L483.70 565.30L484.10 565.28L484.50 565.27L484.90 565.25L485.30 565.23L485.70 565.21L486.10 565.19L486.50 565.18L486.90 565.16L487.30 565.14L487.70 565.12L488.10 565.10L488.50 565.09L488.90 565.07L489.30 565.05L489.70 565.03L490.10 565.01L490.50 565.00L490.90 564.98L491.30 564.96L491.70 564.94L492.10 564.92L492.50 564.91L492.90 564.89L493.30 564.87L493.70 564.85L494.10 564.83L494.50 564.82L494.90 564.80L495.30 564.78L495.70 564.76L496.10 564.74L496.50 564.73L496.90 564.71L497.26 564.69M501.90 564.48L504.20 564.38M509.11 564.17L511.41 564.07M516.32 563.85L518.62 563.76M523.90 563.53L524.10 563.52L524.50 563.50L524.90 563.49L525.30 563.47L525.70 563.45L526.10 563.43L526.50 563.42L526.90 563.40L527.30 563.38L527.70 563.36L528.10 563.35L528.50 563.33L528.90 563.32L529.30 563.30L529.70 563.28L530.10 563.27L530.50 563.25L530.90 563.24L531.30 563.22L531.70 563.20L532.10 563.18L532.50 563.17L532.90 563.15L533.30 563.13L533.70 563.11L534.10 563.10L534.50 563.08L534.90 563.07L535.30 563.05L535.70 563.03L536.10 563.01L536.50 563.00L536.90 562.98L537.30 562.96L537.70 562.94L538.10 562.93L538.50 562.91L538.57 562.91M543.30 562.71L545.60 562.62M550.61 562.41L552.91 562.32M557.92 562.12L560.22 562.02M565.60 561.81L565.70 561.80L566.10 561.79L566.50 561.77L566.90 561.76L567.30 561.74L567.70 561.72L568.10 561.71L568.50 561.69L568.90 561.68L569.30 561.66L569.70 561.64L570.10 561.63L570.50 561.61L570.90 561.60L571.30 561.58L571.70 561.56L572.10 561.55L572.50 561.53L572.90 561.52L573.30 561.50L573.70 561.48L574.10 561.47L574.50 561.45L574.90 561.44L575.30 561.42L575.70 561.40L576.10 561.39L576.50 561.37L576.90 561.36L577.30 561.34L577.70 561.33L578.10 561.31L578.50 561.30L578.90 561.28L579.30 561.27L579.70 561.25L580.10 561.24L580.27 561.23M585.25 561.03L587.55 560.94M592.81 560.74L595.11 560.66M600.37 560.46L602.67 560.37M608.30 560.16L608.50 560.15L608.90 560.13L609.30 560.12L609.70 560.10L610.10 560.09L610.50 560.07L610.90 560.06L611.30 560.04L611.70 560.03L612.10 560.01L612.50 560.00L612.90 559.98L613.30 559.97L613.70 559.95L614.10 559.94L614.50 559.92L614.90 559.91L615.30 559.89L615.70 559.88L616.10 559.86L616.50 559.85L616.90 559.83L617.30 559.82L617.70 559.80L618.10 559.79L618.50 559.77L618.90 559.76L619.30 559.74L619.70 559.73L620.10 559.71L620.50 559.70L620.90 559.68L621.30 559.67L621.70 559.66L622.10 559.64L622.50 559.63L622.90 559.61L622.97 559.61M627.80 559.43L630.10 559.35M635.21 559.16L637.51 559.08M642.62 558.89L644.92 558.81M650.40 558.62L650.50 558.62L650.90 558.60L651.30 558.59L651.70 558.58L652.10 558.56L652.50 558.55L652.90 558.53L653.30 558.52L653.70 558.51L654.10 558.49L654.50 558.48L654.90 558.46L655.30 558.45L655.70 558.44L656.10 558.42L656.50 558.41L656.90 558.39L657.30 558.38L657.70 558.37L658.10 558.35L658.50 558.34L658.90 558.32L659.30 558.31L659.70 558.30L660.10 558.28L660.50 558.27L660.90 558.25L661.30 558.24L661.70 558.23L662.10 558.21L662.50 558.20L662.90 558.18L663.30 558.17L663.70 558.16L664.10 558.14L664.50 558.13L664.90 558.11L665.07 558.11M669.98 557.94L672.28 557.86M677.46 557.68L679.76 557.60M684.95 557.43L687.25 557.35M692.80 557.17L692.90 557.16L693.30 557.15L693.70 557.14L694.10 557.12L694.50 557.11L694.90 557.09L695.30 557.08L695.70 557.07L696.10 557.06L696.50 557.04L696.90 557.03L697.30 557.02L697.70 557.01L698.10 556.99L698.50 556.98L698.90 556.96L699.30 556.95L699.70 556.94L700.10 556.92L700.50 556.91L700.90 556.89L701.30 556.88L701.70 556.87L702.10 556.86L702.50 556.84L702.90 556.83L703.30 556.82L703.70 556.81L704.10 556.79L704.50 556.78L704.90 556.76L705.30 556.75L705.70 556.74L706.10 556.73L706.50 556.71L706.90 556.70L707.30 556.69L707.48 556.68M712.28 556.52L714.58 556.45M719.66 556.29L721.96 556.21M727.05 556.05L729.35 555.98M734.80 555.81L734.90 555.80L735.30 555.79L735.70 555.78L736.10 555.76L736.50 555.75L736.90 555.73L737.30 555.72L737.70 555.71L738.10 555.70L738.50 555.68L738.90 555.67L739.30 555.66L739.70 555.65L740.10 555.64L740.50 555.62L740.90 555.61L741.30 555.60L741.70 555.59L742.10 555.58L742.50 555.56L742.90 555.55L743.30 555.54L743.70 555.53L744.10 555.51L744.50 555.50L744.90 555.48L745.30 555.47L745.70 555.46L746.10 555.45L746.50 555.43L746.90 555.42L747.30 555.41L747.70 555.40L748.10 555.39L748.50 555.37L748.90 555.36L749.30 555.35L749.48 555.34M754.28 555.21L756.58 555.13M761.66 554.97L763.96 554.90M769.05 554.75L771.35 554.68M776.80 554.52L776.90 554.51L777.30 554.50L777.70 554.49L778.10 554.48L778.50 554.46L778.90 554.45L779.30 554.44L779.70 554.43L780.10 554.42L780.50 554.40L780.90 554.39L781.30 554.38L781.70 554.37L782.10 554.36L782.50 554.34L782.90 554.33L783.30 554.32L783.70 554.31L784.10 554.30L784.50 554.28L784.90 554.27L785.30 554.26L785.70 554.25L786.10 554.24L786.50 554.22L786.90 554.21L787.30 554.20L787.70 554.19L788.10 554.18L788.50 554.17L788.90 554.16L789.30 554.15L789.70 554.14L790.10 554.13L790.50 554.11L790.90 554.10L791.30 554.09L791.48 554.08M796.41 553.94L798.71 553.87M803.92 553.72L806.21 553.65M811.42 553.51L813.72 553.44M819.30 553.28L819.70 553.27L820.10 553.26L820.50 553.25L820.90 553.24L821.30 553.23L821.70 553.22L822.10 553.21L822.50 553.19L822.90 553.18L823.30 553.17L823.70 553.16L824.10 553.15L824.50 553.13L824.90 553.12L825.30 553.11L825.70 553.10L826.10 553.09L826.50 553.08L826.90 553.07L827.30 553.06L827.70 553.05L828.10 553.04L828.50 553.02L828.90 553.01L829.30 553.00L829.70 552.99L830.10 552.98L830.50 552.97L830.90 552.96L831.30 552.95L831.70 552.94L832.10 552.93L832.50 552.91L832.90 552.90L833.30 552.89L833.70 552.88L833.98 552.87M838.96 552.74L841.26 552.67M846.52 552.53L848.81 552.46M854.07 552.33L856.37 552.26M862.00 552.11L862.10 552.11L862.50 552.10L862.90 552.09L863.30 552.08L863.70 552.07L864.10 552.06L864.50 552.05L864.90 552.04L865.30 552.03L865.70 552.02L866.10 552.01L866.50 551.99L866.90 551.98L867.30 551.97L867.70 551.96L868.10 551.95L868.50 551.94L868.90 551.93L869.30 551.92L869.70 551.91L870.10 551.90L870.50 551.89L870.90 551.88L871.30 551.87L871.70 551.86L872.10 551.85L872.50 551.84L872.90 551.83L873.30 551.82L873.70 551.81L874.10 551.80L874.50 551.78L874.90 551.77L875.30 551.76L875.70 551.75L876.10 551.74L876.50 551.73L876.68 551.73M881.66 551.60L883.96 551.54M889.22 551.40L891.52 551.34M896.77 551.21L899.07 551.16M904.70 551.02L904.90 551.01L905.30 551.00L905.70 550.99L906.10 550.98L906.50 550.97L906.90 550.96L907.30 550.95L907.70 550.94L908.10 550.93L908.50 550.92L908.90 550.91L909.30 550.90L909.70 550.89L910.10 550.88L910.50 550.87L910.90 550.86L911.30 550.85L911.70 550.84L912.10 550.83L912.50 550.82L912.90 550.81L913.30 550.80L913.70 550.79L914.10 550.78L914.50 550.77L914.90 550.76L915.30 550.75L915.70 550.74L916.10 550.73L916.50 550.72L916.90 550.71L917.30 550.70L917.70 550.69L918.10 550.68L918.50 550.67L918.90 550.66L919.30 550.65L919.38 550.65M924.34 550.53L926.63 550.48M931.87 550.35L934.17 550.29M939.40 550.17L941.70 550.11M947.30 549.98L947.70 549.97L948.10 549.96L948.50 549.95L948.90 549.94L949.30 549.93L949.70 549.92L950.10 549.91L950.50 549.91L950.90 549.90L951.30 549.89L951.70 549.88L952.10 549.87L952.50 549.86L952.90 549.85L953.30 549.84L953.70 549.83L954.10 549.82L954.50 549.81L954.90 549.80L955.30 549.79L955.70 549.78L956.10 549.77L956.50 549.77L956.90 549.76L957.30 549.75L957.70 549.74L958.10 549.73L958.50 549.72L958.90 549.71L959.30 549.70L959.70 549.69L960.10 549.68L960.50 549.68L960.90 549.67L961.30 549.66L961.70 549.65L961.98 549.64M966.94 549.53L969.24 549.47M974.47 549.36L976.77 549.30M982.00 549.19L984.30 549.14M989.90 549.01L990.10 549.01L990.50 549.00L990.90 548.99L991.30 548.98L991.70 548.97L992.10 548.96L992.50 548.96L992.90 548.95L993.30 548.94L993.70 548.93L994.10 548.92L994.50 548.92L994.90 548.91L995.30 548.90L995.70 548.89L996.10 548.88L996.50 548.87L996.90 548.86L997.30 548.85L997.70 548.84L998.10 548.83L998.50 548.83L998.90 548.82L999.30 548.81L999.70 548.80L1000.10 548.79L1000.50 548.79L1000.90 548.78L1001.30 548.77L1001.70 548.76L1002.10 548.75L1002.50 548.74L1002.90 548.73L1003.30 548.72L1003.77 548.71L1004.23 548.70L1004.59 548.69" fill="none" stroke="#000" stroke-width="1.5" stroke-linecap="butt"/><path d="M254.85 622.15L254.95 622.23L255.20 622.43L255.45 622.62L255.70 622.82L255.95 623.01L256.20 623.20L256.45 623.38L256.70 623.57L256.95 623.75L257.20 623.93L257.45 624.10L257.70 624.28L257.95 624.45L258.20 624.63L258.45 624.80L258.70 624.96L258.95 625.12L259.20 625.29L259.45 625.44L259.70 625.60L259.95 625.76L260.20 625.91L260.45 626.06L260.70 626.21L260.95 626.36L261.20 626.50L261.45 626.64L261.70 626.78L261.95 626.92L262.20 627.06L262.45 627.19L262.63 627.29M266.38 629.10L268.52 629.96M273.50 631.57L273.70 631.63L273.95 631.70L274.20 631.77L274.45 631.84L274.70 631.90L275.10 632.00L275.50 632.09L275.90 632.19L276.30 632.28L276.70 632.38L277.10 632.46L277.50 632.55L277.90 632.63L278.30 632.72L278.70 632.80L279.10 632.87L279.50 632.94L279.90 633.02L280.30 633.09L280.70 633.16L281.10 633.22L281.50 633.29L281.90 633.35L282.30 633.42L282.70 633.48L283.10 633.53L283.42 633.57M287.86 634.09L290.15 634.26M295.60 634.54L295.90 634.55L296.30 634.57L296.70 634.58L297.10 634.59L297.50 634.60L297.90 634.60L298.30 634.61L298.70 634.62L299.10 634.62L299.50 634.63L299.90 634.63L300.30 634.64L300.70 634.64L301.20 634.64L301.70 634.64L302.20 634.64L302.70 634.64L303.10 634.64L303.50 634.63L303.90 634.63L304.30 634.62L304.70 634.62L305.10 634.61L305.50 634.61L305.87 634.60M310.50 634.49L312.80 634.40M318.40 634.14L318.70 634.12L319.10 634.10L319.50 634.08L319.90 634.05L320.30 634.03L320.70 634.01L321.10 633.99L321.50 633.97L321.90 633.94L322.30 633.92L322.70 633.90L323.10 633.87L323.50 633.85L323.90 633.82L324.30 633.80L324.70 633.77L325.10 633.74L325.50 633.72L325.90 633.69L326.30 633.67L326.70 633.64L327.10 633.61L327.50 633.59L327.90 633.56L328.30 633.54L328.64 633.51M332.94 633.21L335.23 633.04M340.50 632.64L340.70 632.62L341.10 632.59L341.50 632.56L341.90 632.52L342.30 632.49L342.70 632.46L343.10 632.43L343.50 632.40L343.90 632.37L344.30 632.34L344.70 632.31L345.10 632.28L345.50 632.25L345.90 632.21L346.30 632.18L346.70 632.15L347.10 632.12L347.50 632.08L347.90 632.05L348.30 632.01L348.70 631.98L349.10 631.95L349.50 631.92L349.90 631.88L350.30 631.85L350.70 631.82L350.71 631.82M355.33 631.44L357.62 631.26M363.20 630.79L363.50 630.77L363.90 630.73L364.30 630.70L364.70 630.67L365.10 630.64L365.50 630.60L365.90 630.57L366.30 630.53L366.70 630.50L367.10 630.47L367.50 630.44L367.90 630.40L368.30 630.37L368.70 630.34L369.10 630.31L369.50 630.27L369.90 630.24L370.30 630.20L370.70 630.17L371.10 630.14L371.50 630.11L371.90 630.07L372.30 630.04L372.70 630.01L373.10 629.98L373.41 629.95M377.72 629.60L380.02 629.41M385.30 628.98L385.50 628.97L385.90 628.93L386.30 628.90L386.70 628.87L387.10 628.84L387.50 628.81L387.90 628.77L388.30 628.74L388.70 628.71L389.10 628.68L389.50 628.65L389.90 628.61L390.30 628.58L390.70 628.55L391.10 628.52L391.50 628.49L391.90 628.46L392.30 628.43L392.70 628.40L393.10 628.37L393.50 628.34L393.90 628.30L394.30 628.27L394.70 628.24L395.10 628.21L395.50 628.18L395.52 628.17M400.03 627.82L402.32 627.65M407.80 627.23L407.90 627.22L408.30 627.19L408.70 627.16L409.10 627.13L409.50 627.10L409.90 627.07L410.30 627.04L410.70 627.01L411.10 626.98L411.50 626.95L411.90 626.92L412.30 626.89L412.70 626.86L413.10 626.83L413.50 626.80L413.90 626.78L414.30 626.75L414.70 626.72L415.10 626.69L415.50 626.66L415.90 626.63L416.30 626.60L416.70 626.57L417.10 626.54L417.50 626.51L417.90 626.48L418.02 626.47M422.68 626.13L424.97 625.97M430.60 625.57L430.70 625.56L431.10 625.53L431.50 625.50L431.90 625.48L432.30 625.45L432.70 625.42L433.10 625.39L433.50 625.36L433.90 625.34L434.30 625.31L434.70 625.28L435.10 625.25L435.50 625.22L435.90 625.20L436.30 625.17L436.70 625.14L437.10 625.11L437.50 625.08L437.90 625.06L438.30 625.03L438.70 625.00L439.10 624.97L439.50 624.95L439.90 624.92L440.30 624.90L440.70 624.87L440.83 624.86M445.48 624.55L447.78 624.38M453.40 624.01L453.50 624.01L453.90 623.98L454.30 623.96L454.70 623.93L455.10 623.90L455.50 623.88L455.90 623.85L456.30 623.83L456.70 623.80L457.10 623.77L457.50 623.75L457.90 623.72L458.30 623.70L458.70 623.67L459.10 623.64L459.50 623.62L459.90 623.59L460.30 623.57L460.70 623.54L461.10 623.51L461.50 623.49L461.90 623.46L462.30 623.44L462.70 623.41L463.10 623.38L463.50 623.36L463.63 623.35M467.93 623.08L470.23 622.93M475.50 622.60L475.90 622.58L476.30 622.55L476.70 622.53L477.10 622.51L477.50 622.48L477.90 622.46L478.30 622.43L478.70 622.41L479.10 622.38L479.50 622.36L479.90 622.33L480.30 622.31L480.70 622.28L481.10 622.26L481.50 622.23L481.90 622.21L482.30 622.18L482.70 622.16L483.10 622.14L483.50 622.11L483.90 622.09L484.30 622.06L484.70 622.04L485.10 622.02L485.50 621.99L485.74 621.98M490.38 621.70L492.68 621.56M498.30 621.23L498.70 621.21L499.10 621.19L499.50 621.16L499.90 621.14L500.30 621.11L500.70 621.09L501.10 621.07L501.50 621.04L501.90 621.02L502.30 620.99L502.70 620.97L503.10 620.95L503.50 620.93L503.90 620.90L504.30 620.88L504.70 620.86L505.10 620.84L505.50 620.81L505.90 620.79L506.30 620.76L506.70 620.74L507.10 620.72L507.50 620.70L507.90 620.67L508.30 620.65L508.54 620.64M513.19 620.37L515.48 620.25M521.10 619.93L521.50 619.91L521.90 619.88L522.30 619.86L522.70 619.84L523.10 619.82L523.50 619.80L523.90 619.77L524.30 619.75L524.70 619.73L525.10 619.71L525.50 619.69L525.90 619.66L526.30 619.64L526.70 619.62L527.10 619.60L527.50 619.58L527.90 619.55L528.30 619.53L528.70 619.51L529.10 619.49L529.50 619.47L529.90 619.44L530.30 619.42L530.70 619.40L531.10 619.38L531.34 619.36M535.79 619.12L538.08 618.99M543.50 618.71L543.90 618.68L544.30 618.66L544.70 618.64L545.10 618.62L545.50 618.60L545.90 618.57L546.30 618.55L546.70 618.53L547.10 618.51L547.50 618.49L547.90 618.47L548.30 618.45L548.70 618.43L549.10 618.41L549.50 618.39L549.90 618.36L550.30 618.34L550.70 618.32L551.10 618.30L551.50 618.28L551.90 618.26L552.30 618.24L552.70 618.22L553.10 618.20L553.50 618.18L553.75 618.16M558.39 617.92L560.68 617.80M566.30 617.51L566.30 617.51L566.70 617.49L567.10 617.47L567.50 617.45L567.90 617.43L568.30 617.41L568.70 617.39L569.10 617.37L569.50 617.35L569.90 617.33L570.30 617.31L570.70 617.29L571.10 617.27L571.50 617.25L571.90 617.22L572.30 617.20L572.70 617.18L573.10 617.16L573.50 617.14L573.90 617.12L574.30 617.10L574.70 617.08L575.10 617.06L575.50 617.04L575.90 617.02L576.30 617.00L576.55 616.99M580.84 616.77L583.14 616.66M588.40 616.40L588.70 616.38L589.10 616.36L589.50 616.34L589.90 616.32L590.30 616.30L590.70 616.28L591.10 616.26L591.50 616.24L591.90 616.22L592.30 616.20L592.70 616.18L593.10 616.16L593.50 616.14L593.90 616.13L594.30 616.11L594.70 616.09L595.10 616.07L595.50 616.05L595.90 616.03L596.30 616.01L596.70 615.99L597.10 615.97L597.50 615.95L597.90 615.93L598.30 615.91L598.65 615.89M603.29 615.67L605.59 615.56M611.20 615.28L611.50 615.27L611.90 615.25L612.30 615.23L612.70 615.21L613.10 615.19L613.50 615.17L613.90 615.16L614.30 615.14L614.70 615.12L615.10 615.10L615.50 615.08L615.90 615.06L616.30 615.04L616.70 615.02L617.10 615.00L617.50 614.98L617.90 614.97L618.30 614.95L618.70 614.93L619.10 614.91L619.50 614.89L619.90 614.87L620.30 614.85L620.70 614.83L621.10 614.81L621.45 614.80M625.74 614.59L628.04 614.49M633.30 614.24L633.50 614.23L633.90 614.22L634.30 614.20L634.70 614.18L635.10 614.16L635.50 614.14L635.90 614.13L636.30 614.11L636.70 614.09L637.10 614.07L637.50 614.05L637.90 614.03L638.30 614.01L638.70 613.99L639.10 613.97L639.50 613.95L639.90 613.94L640.30 613.92L640.70 613.90L641.10 613.88L641.50 613.86L641.90 613.85L642.30 613.83L642.70 613.81L643.10 613.79L643.50 613.77L643.55 613.77M648.19 613.57L650.49 613.45M656.10 613.20L656.30 613.19L656.70 613.17L657.10 613.15L657.50 613.13L657.90 613.12L658.30 613.10L658.70 613.08L659.10 613.06L659.50 613.04L659.90 613.03L660.30 613.01L660.70 612.99L661.10 612.97L661.50 612.95L661.90 612.94L662.30 612.92L662.70 612.90L663.10 612.88L663.50 612.87L663.90 612.85L664.30 612.84L664.70 612.82L665.10 612.80L665.50 612.78L665.90 612.77L666.30 612.75L666.35 612.75M670.79 612.55L673.09 612.44M678.50 612.21L678.70 612.20L679.10 612.18L679.50 612.16L679.90 612.15L680.30 612.13L680.70 612.11L681.10 612.09L681.50 612.07L681.90 612.06L682.30 612.04L682.70 612.02L683.10 612.00L683.50 611.99L683.90 611.97L684.30 611.96L684.70 611.94L685.10 611.92L685.50 611.90L685.90 611.89L686.30 611.87L686.70 611.85L687.10 611.83L687.50 611.81L687.90 611.80L688.30 611.78L688.70 611.76L688.75 611.76M693.39 611.56L695.69 611.47M701.30 611.23L701.50 611.22L701.90 611.20L702.30 611.19L702.70 611.17L703.10 611.15L703.50 611.13L703.90 611.12L704.30 611.10L704.70 611.08L705.10 611.06L705.50 611.05L705.90 611.03L706.30 611.02L706.70 611.00L707.10 610.98L707.50 610.96L707.90 610.95L708.30 610.93L708.70 610.91L709.10 610.89L709.50 610.88L709.90 610.86L710.30 610.85L710.70 610.83L711.10 610.81L711.50 610.80L711.55 610.80M716.19 610.60L718.49 610.51M724.10 610.27L724.30 610.27L724.70 610.25L725.10 610.23L725.50 610.22L725.90 610.20L726.30 610.19L726.70 610.17L727.10 610.15L727.50 610.14L727.90 610.12L728.30 610.11L728.70 610.09L729.10 610.07L729.50 610.06L729.90 610.04L730.30 610.03L730.70 610.01L731.10 609.99L731.50 609.98L731.90 609.96L732.30 609.95L732.70 609.93L733.10 609.91L733.50 609.89L733.90 609.88L734.30 609.86L734.36 609.86M738.99 609.67L741.29 609.58M746.90 609.35L747.10 609.35L747.50 609.33L747.90 609.32L748.30 609.30L748.70 609.29L749.10 609.27L749.50 609.26L749.90 609.24L750.30 609.23L750.70 609.21L751.10 609.19L751.50 609.18L751.90 609.16L752.30 609.15L752.70 609.13L753.10 609.11L753.50 609.10L753.90 609.08L754.30 609.07L754.70 609.05L755.10 609.03L755.50 609.02L755.90 609.00L756.30 608.99L756.70 608.97L757.10 608.95L757.16 608.95M761.44 608.78L763.74 608.70M769.00 608.50L769.10 608.49L769.50 608.48L769.90 608.46L770.30 608.45L770.70 608.43L771.10 608.41L771.50 608.40L771.90 608.38L772.30 608.37L772.70 608.35L773.10 608.34L773.50 608.32L773.90 608.31L774.30 608.29L774.70 608.28L775.10 608.26L775.50 608.25L775.90 608.23L776.30 608.22L776.70 608.20L777.10 608.19L777.50 608.17L777.90 608.16L778.30 608.14L778.70 608.13L779.10 608.11L779.26 608.11M783.89 607.93L786.19 607.85M791.80 607.64L791.90 607.63L792.30 607.62L792.70 607.60L793.10 607.59L793.50 607.57L793.90 607.56L794.30 607.54L794.70 607.53L795.10 607.52L795.50 607.50L795.90 607.49L796.30 607.47L796.70 607.46L797.10 607.44L797.50 607.43L797.90 607.41L798.30 607.40L798.70 607.38L799.10 607.37L799.50 607.35L799.90 607.34L800.30 607.32L800.70 607.31L801.10 607.30L801.50 607.28L801.90 607.27L802.06 607.26M806.54 607.10L808.84 607.02M814.30 606.82L814.30 606.82L814.70 606.81L815.10 606.79L815.50 606.78L815.90 606.76L816.30 606.75L816.70 606.73L817.10 606.72L817.50 606.70L817.90 606.69L818.30 606.67L818.70 606.66L819.10 606.65L819.50 606.63L819.90 606.62L820.30 606.60L820.70 606.59L821.10 606.58L821.50 606.56L821.90 606.55L822.30 606.53L822.70 606.52L823.10 606.51L823.50 606.49L823.90 606.48L824.30 606.46L824.56 606.45M828.84 606.31L831.14 606.22M836.40 606.05L836.70 606.04L837.10 606.03L837.50 606.01L837.90 606.00L838.30 605.98L838.70 605.97L839.10 605.96L839.50 605.94L839.90 605.93L840.30 605.91L840.70 605.90L841.10 605.89L841.50 605.87L841.90 605.86L842.30 605.84L842.70 605.83L843.10 605.82L843.50 605.81L843.90 605.79L844.30 605.78L844.70 605.77L845.10 605.76L845.50 605.74L845.90 605.73L846.30 605.71L846.66 605.70M851.24 605.55L853.54 605.47M859.10 605.29L859.50 605.28L859.90 605.26L860.30 605.25L860.70 605.24L861.10 605.23L861.50 605.21L861.90 605.20L862.30 605.18L862.70 605.17L863.10 605.16L863.50 605.15L863.90 605.13L864.30 605.12L864.70 605.11L865.10 605.10L865.50 605.08L865.90 605.07L866.30 605.05L866.70 605.04L867.10 605.03L867.50 605.02L867.90 605.00L868.30 604.99L868.70 604.98L869.10 604.97L869.36 604.96M873.99 604.81L876.29 604.73M881.90 604.56L881.90 604.56L882.30 604.55L882.70 604.54L883.10 604.53L883.50 604.51L883.90 604.50L884.30 604.48L884.70 604.47L885.10 604.46L885.50 604.45L885.90 604.43L886.30 604.42L886.70 604.41L887.10 604.40L887.50 604.39L887.90 604.37L888.30 604.36L888.70 604.35L889.10 604.34L889.50 604.33L889.90 604.31L890.30 604.30L890.70 604.29L891.10 604.28L891.50 604.27L891.90 604.25L892.16 604.25M896.79 604.11L899.09 604.04M904.70 603.87L905.10 603.86L905.50 603.85L905.90 603.83L906.30 603.82L906.70 603.81L907.10 603.80L907.50 603.79L907.90 603.77L908.30 603.76L908.70 603.75L909.10 603.74L909.50 603.73L909.90 603.71L910.30 603.70L910.70 603.69L911.10 603.68L911.50 603.67L911.90 603.65L912.30 603.64L912.70 603.63L913.10 603.62L913.50 603.61L913.90 603.60L914.30 603.59L914.70 603.58L914.96 603.57M919.59 603.43L921.89 603.37M927.50 603.21L927.90 603.20L928.30 603.19L928.70 603.18L929.10 603.17L929.50 603.16L929.90 603.14L930.30 603.13L930.70 603.12L931.10 603.11L931.50 603.10L931.90 603.09L932.30 603.08L932.70 603.07L933.10 603.06L933.50 603.05L933.90 603.03L934.30 603.02L934.70 603.01L935.10 603.00L935.50 602.99L935.90 602.98L936.30 602.97L936.70 602.96L937.10 602.95L937.50 602.94L937.76 602.93M942.40 602.80L944.69 602.74M950.30 602.59L950.70 602.58L951.10 602.57L951.50 602.56L951.90 602.55L952.30 602.54L952.70 602.53L953.10 602.52L953.50 602.51L953.90 602.50L954.30 602.49L954.70 602.48L955.10 602.47L955.50 602.46L955.90 602.45L956.30 602.44L956.70 602.43L957.10 602.42L957.50 602.41L957.90 602.39L958.30 602.38L958.70 602.37L959.10 602.36L959.50 602.35L959.90 602.34L960.30 602.33L960.57 602.32M965.20 602.21L967.50 602.15M973.11 602.01L973.50 602.00L973.90 601.99L974.30 601.98L974.70 601.97L975.10 601.96L975.50 601.95L975.90 601.94L976.30 601.93L976.70 601.92L977.10 601.91L977.50 601.90L977.90 601.90L978.30 601.89L978.70 601.88L979.10 601.87L979.50 601.86L979.90 601.85L980.30 601.84L980.70 601.83L981.10 601.82L981.50 601.81L981.90 601.80L982.30 601.79L982.70 601.78L983.10 601.77L983.37 601.76M988.00 601.66L990.30 601.60M995.91 601.47L996.30 601.46L996.70 601.45L997.10 601.44L997.50 601.43L997.90 601.43L998.30 601.42L998.70 601.41L999.10 601.40L999.50 601.39L999.90 601.38L1000.30 601.37L1000.70 601.36L1001.10 601.35L1001.50 601.34L1001.90 601.34L1002.30 601.33L1002.70 601.32L1003.10 601.31L1003.50 601.30L1003.90 601.29L1004.30 601.28L1004.70 601.27" fill="none" stroke="#000" stroke-width="1.5" stroke-linecap="butt"/><path d="M254.40 660.28L254.65 660.22L254.90 660.16L255.15 660.28L255.40 660.39L255.65 660.64L255.90 660.90L256.15 661.26L256.40 661.63L256.57 661.92L256.73 662.22L256.90 662.51L257.07 662.84L257.23 663.16L257.40 663.49L257.57 663.83L257.73 664.16L257.90 664.50L258.07 664.83L258.23 665.15L258.40 665.48L258.57 665.78L258.67 665.96M263.50 672.14L263.65 672.28L263.90 672.53L264.15 672.78L264.40 673.02L264.65 673.26L264.90 673.50L265.15 673.74L265.40 673.97L265.65 674.20L265.90 674.43L266.15 674.66L266.40 674.88L266.65 675.10L266.90 675.33L267.15 675.54L267.40 675.76L267.65 675.98L267.90 676.19L268.15 676.40L268.40 676.60L268.65 676.80L268.90 677.01L269.15 677.21L269.40 677.41L269.65 677.60L269.90 677.80L270.15 677.98L270.40 678.17L270.45 678.21M277.80 682.70L278.00 682.80L278.40 683.00L278.80 683.18L279.20 683.35L279.60 683.53L280.00 683.70L280.40 683.88L280.80 684.03L281.20 684.18L281.60 684.34L282.00 684.49L282.40 684.64L282.80 684.77L283.20 684.90L283.60 685.04L284.00 685.17L284.40 685.30L284.80 685.41L285.20 685.52L285.60 685.64L286.00 685.75L286.40 685.86L286.80 685.95L287.20 686.05L287.33 686.08M297.00 687.49L297.20 687.50L297.60 687.53L298.00 687.55L298.40 687.58L298.80 687.60L299.20 687.61L299.60 687.63L300.00 687.64L300.40 687.66L300.80 687.67L301.20 687.68L301.60 687.68L302.00 687.69L302.40 687.70L302.90 687.70L303.40 687.70L303.90 687.70L304.40 687.70L304.80 687.69L305.20 687.68L305.60 687.67L306.00 687.66L306.40 687.65L306.80 687.63L307.20 687.62L307.52 687.61M317.00 686.81L317.20 686.78L317.60 686.74L318.00 686.69L318.40 686.64L318.80 686.59L319.20 686.54L319.60 686.48L320.00 686.43L320.40 686.38L320.80 686.32L321.20 686.27L321.60 686.21L322.00 686.16L322.40 686.10L322.80 686.04L323.20 685.98L323.60 685.92L324.00 685.86L324.40 685.80L324.80 685.74L325.20 685.68L325.60 685.61L326.00 685.55L326.40 685.49L326.80 685.43L327.20 685.36L327.35 685.34M336.90 683.73L337.20 683.68L337.60 683.61L338.00 683.54L338.40 683.47L338.80 683.40L339.20 683.33L339.60 683.25L340.00 683.18L340.40 683.11L340.80 683.04L341.20 682.97L341.60 682.89L342.00 682.82L342.40 682.75L342.80 682.68L343.20 682.60L343.60 682.53L344.00 682.45L344.40 682.38L344.80 682.31L345.20 682.23L345.60 682.16L346.00 682.08L346.40 682.01L346.80 681.93L347.15 681.87M356.10 680.16L356.40 680.10L356.80 680.02L357.20 679.95L357.60 679.87L358.00 679.80L358.40 679.72L358.80 679.64L359.20 679.56L359.60 679.49L360.00 679.41L360.40 679.33L360.80 679.25L361.20 679.18L361.60 679.10L362.00 679.03L362.40 678.95L362.80 678.87L363.20 678.80L363.60 678.72L364.00 678.65L364.40 678.57L364.80 678.49L365.20 678.42L365.60 678.34L366.00 678.27L366.32 678.21M375.40 676.49L375.60 676.45L376.00 676.38L376.40 676.30L376.80 676.23L377.20 676.15L377.60 676.08L378.00 676.00L378.40 675.93L378.80 675.86L379.20 675.78L379.60 675.71L380.00 675.63L380.40 675.56L380.80 675.49L381.20 675.42L381.60 675.34L382.00 675.27L382.40 675.20L382.80 675.13L383.20 675.05L383.60 674.98L384.00 674.90L384.40 674.83L384.80 674.76L385.20 674.69L385.60 674.61L385.64 674.61M395.00 672.95L395.20 672.91L395.60 672.85L396.00 672.78L396.40 672.71L396.80 672.64L397.20 672.57L397.60 672.50L398.00 672.43L398.40 672.36L398.80 672.29L399.20 672.22L399.60 672.16L400.00 672.09L400.40 672.02L400.80 671.95L401.20 671.88L401.60 671.82L402.00 671.75L402.40 671.68L402.80 671.61L403.20 671.55L403.60 671.48L404.00 671.42L404.40 671.35L404.80 671.28L405.20 671.21L405.28 671.20M414.90 669.63L415.20 669.59L415.60 669.52L416.00 669.46L416.40 669.40L416.80 669.34L417.20 669.27L417.60 669.21L418.00 669.14L418.40 669.08L418.80 669.02L419.20 668.96L419.60 668.89L420.00 668.83L420.40 668.77L420.80 668.71L421.20 668.65L421.60 668.58L422.00 668.52L422.40 668.46L422.80 668.40L423.20 668.34L423.60 668.28L424.00 668.22L424.40 668.16L424.80 668.10L425.20 668.04L425.22 668.03M434.90 666.60L435.20 666.55L435.60 666.50L436.00 666.44L436.40 666.38L436.80 666.32L437.20 666.27L437.60 666.21L438.00 666.16L438.40 666.10L438.80 666.04L439.20 665.99L439.60 665.93L440.00 665.88L440.40 665.82L440.80 665.76L441.20 665.71L441.60 665.65L442.00 665.60L442.40 665.54L442.80 665.48L443.20 665.43L443.60 665.37L444.00 665.32L444.40 665.26L444.80 665.20L445.20 665.15L445.26 665.14M454.10 663.95L454.40 663.91L454.80 663.86L455.20 663.81L455.60 663.75L456.00 663.70L456.40 663.65L456.80 663.60L457.20 663.54L457.60 663.49L458.00 663.43L458.40 663.38L458.80 663.33L459.20 663.28L459.60 663.23L460.00 663.18L460.40 663.13L460.80 663.08L461.20 663.03L461.60 662.97L462.00 662.92L462.40 662.87L462.80 662.82L463.20 662.77L463.60 662.72L464.00 662.67L464.40 662.62L464.48 662.61M474.00 661.44L474.40 661.39L474.80 661.34L475.20 661.29L475.60 661.25L476.00 661.20L476.40 661.15L476.80 661.10L477.20 661.05L477.60 661.01L478.00 660.96L478.40 660.91L478.80 660.86L479.20 660.81L479.60 660.77L480.00 660.72L480.40 660.67L480.80 660.62L481.20 660.58L481.60 660.53L482.00 660.49L482.40 660.44L482.80 660.39L483.20 660.35L483.60 660.30L484.00 660.26L484.40 660.21L484.41 660.21M494.00 659.12L494.40 659.08L494.80 659.03L495.20 658.99L495.60 658.94L496.00 658.90L496.40 658.85L496.80 658.81L497.20 658.77L497.60 658.72L498.00 658.68L498.40 658.64L498.80 658.60L499.20 658.55L499.60 658.51L500.00 658.46L500.40 658.42L500.80 658.38L501.20 658.33L501.60 658.29L502.00 658.24L502.40 658.20L502.80 658.16L503.20 658.12L503.60 658.07L504.00 658.03L504.40 657.99L504.43 657.99M513.90 656.99L514.00 656.98L514.40 656.94L514.80 656.90L515.20 656.86L515.60 656.82L516.00 656.78L516.40 656.74L516.80 656.70L517.20 656.66L517.60 656.62L518.00 656.58L518.40 656.54L518.80 656.50L519.20 656.46L519.60 656.41L520.00 656.37L520.40 656.33L520.80 656.29L521.20 656.25L521.60 656.21L522.00 656.17L522.40 656.13L522.80 656.09L523.20 656.05L523.60 656.02L524.00 655.98L524.34 655.95M534.30 654.97L534.40 654.96L534.80 654.92L535.20 654.88L535.60 654.85L536.00 654.81L536.40 654.77L536.80 654.73L537.20 654.69L537.60 654.66L538.00 654.62L538.40 654.58L538.80 654.54L539.20 654.51L539.60 654.47L540.00 654.44L540.40 654.40L540.80 654.36L541.20 654.32L541.60 654.29L542.00 654.25L542.40 654.21L542.80 654.17L543.20 654.13L543.60 654.10L544.00 654.06L544.40 654.02L544.75 653.99M554.20 653.13L554.40 653.11L554.80 653.07L555.20 653.04L555.60 653.00L556.00 652.97L556.40 652.93L556.80 652.90L557.20 652.86L557.60 652.83L558.00 652.79L558.40 652.76L558.80 652.72L559.20 652.69L559.60 652.65L560.00 652.62L560.40 652.58L560.80 652.54L561.20 652.51L561.60 652.47L562.00 652.44L562.40 652.40L562.80 652.37L563.20 652.33L563.60 652.30L564.00 652.26L564.40 652.23L564.66 652.21M574.20 651.39L574.40 651.37L574.80 651.34L575.20 651.30L575.60 651.27L576.00 651.23L576.40 651.20L576.80 651.17L577.20 651.14L577.60 651.10L578.00 651.07L578.40 651.04L578.80 651.01L579.20 650.97L579.60 650.94L580.00 650.90L580.40 650.87L580.80 650.84L581.20 650.81L581.60 650.77L582.00 650.74L582.40 650.71L582.80 650.68L583.20 650.64L583.60 650.61L584.00 650.57L584.40 650.54L584.67 650.52M594.10 649.75L594.40 649.73L594.80 649.70L595.20 649.67L595.60 649.63L596.00 649.60L596.40 649.57L596.80 649.54L597.20 649.51L597.60 649.47L598.00 649.44L598.40 649.41L598.80 649.38L599.20 649.35L599.60 649.31L600.00 649.28L600.40 649.25L600.80 649.22L601.20 649.19L601.60 649.16L602.00 649.13L602.40 649.10L602.80 649.07L603.20 649.04L603.60 649.00L604.00 648.97L604.40 648.94L604.57 648.93M614.00 648.20L614.40 648.17L614.80 648.14L615.20 648.11L615.60 648.08L616.00 648.05L616.40 648.02L616.80 647.99L617.20 647.96L617.60 647.93L618.00 647.90L618.40 647.87L618.80 647.84L619.20 647.81L619.60 647.78L620.00 647.75L620.40 647.72L620.80 647.69L621.20 647.66L621.60 647.63L622.00 647.60L622.40 647.57L622.80 647.54L623.20 647.51L623.60 647.48L624.00 647.45L624.40 647.42L624.48 647.41M634.00 646.71L634.40 646.68L634.80 646.65L635.20 646.62L635.60 646.60L636.00 646.57L636.40 646.54L636.80 646.51L637.20 646.48L637.60 646.46L638.00 646.43L638.40 646.40L638.80 646.37L639.20 646.34L639.60 646.31L640.00 646.28L640.40 646.25L640.80 646.22L641.20 646.19L641.60 646.17L642.00 646.14L642.40 646.11L642.80 646.08L643.20 646.05L643.60 646.03L644.00 646.00L644.40 645.97L644.49 645.96M653.90 645.31L654.00 645.30L654.40 645.27L654.80 645.24L655.20 645.21L655.60 645.19L656.00 645.16L656.40 645.13L656.80 645.10L657.20 645.07L657.60 645.05L658.00 645.02L658.40 644.99L658.80 644.96L659.20 644.93L659.60 644.91L660.00 644.88L660.40 644.85L660.80 644.82L661.20 644.80L661.60 644.77L662.00 644.75L662.40 644.72L662.80 644.69L663.20 644.66L663.60 644.64L664.00 644.61L664.39 644.58M673.50 643.97L673.60 643.96L674.00 643.94L674.40 643.91L674.80 643.88L675.20 643.86L675.60 643.83L676.00 643.81L676.40 643.78L676.80 643.75L677.20 643.73L677.60 643.70L678.00 643.68L678.40 643.65L678.80 643.62L679.20 643.59L679.60 643.57L680.00 643.54L680.40 643.51L680.80 643.48L681.20 643.46L681.60 643.43L682.00 643.41L682.40 643.38L682.80 643.35L683.20 643.33L683.60 643.30L683.99 643.28M693.50 642.67L693.60 642.66L694.00 642.64L694.40 642.61L694.80 642.59L695.20 642.56L695.60 642.54L696.00 642.51L696.40 642.49L696.80 642.46L697.20 642.44L697.60 642.41L698.00 642.39L698.40 642.36L698.80 642.33L699.20 642.31L699.60 642.28L700.00 642.26L700.40 642.23L700.80 642.21L701.20 642.18L701.60 642.16L702.00 642.13L702.40 642.11L702.80 642.08L703.20 642.06L703.60 642.03L703.99 642.01M713.40 641.43L713.60 641.42L714.00 641.39L714.40 641.37L714.80 641.35L715.20 641.32L715.60 641.30L716.00 641.27L716.40 641.25L716.80 641.23L717.20 641.20L717.60 641.18L718.00 641.15L718.40 641.13L718.80 641.11L719.20 641.08L719.60 641.06L720.00 641.03L720.40 641.01L720.80 640.99L721.20 640.96L721.60 640.94L722.00 640.91L722.40 640.89L722.80 640.87L723.20 640.84L723.60 640.82L723.90 640.80M734.10 640.20L734.40 640.18L734.80 640.16L735.20 640.13L735.60 640.11L736.00 640.08L736.40 640.06L736.80 640.04L737.20 640.02L737.60 639.99L738.00 639.97L738.40 639.95L738.80 639.93L739.20 639.90L739.60 639.88L740.00 639.85L740.40 639.83L740.80 639.81L741.20 639.79L741.60 639.76L742.00 639.74L742.40 639.72L742.80 639.70L743.20 639.67L743.60 639.65L744.00 639.62L744.40 639.60L744.60 639.59M754.00 639.06L754.40 639.04L754.80 639.02L755.20 639.00L755.60 638.97L756.00 638.95L756.40 638.93L756.80 638.91L757.20 638.89L757.60 638.86L758.00 638.84L758.40 638.82L758.80 638.80L759.20 638.78L759.60 638.75L760.00 638.73L760.40 638.71L760.80 638.69L761.20 638.67L761.60 638.64L762.00 638.62L762.40 638.60L762.80 638.58L763.20 638.56L763.60 638.53L764.00 638.51L764.40 638.49L764.50 638.48M774.10 637.97L774.40 637.95L774.80 637.93L775.20 637.91L775.60 637.89L776.00 637.87L776.40 637.85L776.80 637.83L777.20 637.81L777.60 637.78L778.00 637.76L778.40 637.74L778.80 637.72L779.20 637.70L779.60 637.68L780.00 637.66L780.40 637.64L780.80 637.62L781.20 637.60L781.60 637.57L782.00 637.55L782.40 637.53L782.80 637.51L783.20 637.49L783.60 637.47L784.00 637.45L784.40 637.43L784.60 637.42M794.20 636.93L794.40 636.92L794.80 636.90L795.20 636.88L795.60 636.86L796.00 636.84L796.40 636.82L796.80 636.80L797.20 636.78L797.60 636.76L798.00 636.74L798.40 636.72L798.80 636.70L799.20 636.68L799.60 636.66L800.00 636.64L800.40 636.62L800.80 636.60L801.20 636.58L801.60 636.56L802.00 636.54L802.40 636.52L802.80 636.50L803.20 636.48L803.60 636.46L804.00 636.44L804.40 636.42L804.70 636.40M814.30 635.93L814.40 635.93L814.80 635.91L815.20 635.89L815.60 635.88L816.00 635.86L816.40 635.84L816.80 635.82L817.20 635.80L817.60 635.78L818.00 635.76L818.40 635.74L818.80 635.72L819.20 635.70L819.60 635.69L820.00 635.67L820.40 635.65L820.80 635.63L821.20 635.61L821.60 635.59L822.00 635.57L822.40 635.55L822.80 635.53L823.20 635.51L823.60 635.50L824.00 635.48L824.40 635.46L824.80 635.44L824.81 635.44M834.20 635.01L834.40 635.00L834.80 634.98L835.20 634.96L835.60 634.95L836.00 634.93L836.40 634.91L836.80 634.89L837.20 634.87L837.60 634.86L838.00 634.84L838.40 634.82L838.80 634.80L839.20 634.78L839.60 634.77L840.00 634.75L840.40 634.73L840.80 634.71L841.20 634.69L841.60 634.68L842.00 634.66L842.40 634.64L842.80 634.62L843.20 634.60L843.60 634.59L844.00 634.57L844.40 634.55L844.71 634.54M854.20 634.13L854.40 634.12L854.80 634.10L855.20 634.08L855.60 634.07L856.00 634.05L856.40 634.03L856.80 634.01L857.20 634.00L857.60 633.98L858.00 633.97L858.40 633.95L858.80 633.93L859.20 633.91L859.60 633.90L860.00 633.88L860.40 633.86L860.80 633.84L861.20 633.83L861.60 633.81L862.00 633.80L862.40 633.78L862.80 633.76L863.20 633.75L863.60 633.73L864.00 633.72L864.40 633.70L864.71 633.69M874.10 633.30L874.40 633.29L874.80 633.27L875.20 633.26L875.60 633.24L876.00 633.23L876.40 633.21L876.80 633.19L877.20 633.18L877.60 633.16L878.00 633.15L878.40 633.13L878.80 633.11L879.20 633.10L879.60 633.08L880.00 633.07L880.40 633.05L880.80 633.04L881.20 633.02L881.60 633.01L882.00 632.99L882.40 632.98L882.80 632.96L883.20 632.95L883.60 632.93L884.00 632.92L884.40 632.90L884.62 632.89M894.00 632.53L894.40 632.52L894.80 632.51L895.20 632.49L895.60 632.48L896.00 632.46L896.40 632.45L896.80 632.43L897.20 632.42L897.60 632.40L898.00 632.39L898.40 632.37L898.80 632.36L899.20 632.34L899.60 632.33L900.00 632.31L900.40 632.30L900.80 632.29L901.20 632.27L901.60 632.26L902.00 632.24L902.40 632.23L902.80 632.22L903.20 632.20L903.60 632.19L904.00 632.17L904.40 632.16L904.52 632.16M914.00 631.81L914.40 631.80L914.80 631.79L915.20 631.78L915.60 631.76L916.00 631.75L916.40 631.74L916.80 631.73L917.20 631.71L917.60 631.70L918.00 631.68L918.40 631.67L918.80 631.66L919.20 631.64L919.60 631.63L920.00 631.61L920.40 631.60L920.80 631.59L921.20 631.57L921.60 631.56L922.00 631.54L922.40 631.53L922.80 631.52L923.20 631.51L923.60 631.49L924.00 631.48L924.40 631.47L924.52 631.47M933.90 631.17L934.00 631.16L934.40 631.15L934.80 631.14L935.20 631.12L935.60 631.11L936.00 631.09L936.40 631.08L936.80 631.07L937.20 631.06L937.60 631.04L938.00 631.03L938.40 631.02L938.80 631.01L939.20 631.00L939.60 630.98L940.00 630.97L940.40 630.96L940.80 630.95L941.20 630.94L941.60 630.92L942.00 630.91L942.40 630.90L942.80 630.89L943.20 630.88L943.60 630.86L944.00 630.85L944.40 630.84L944.42 630.84M953.80 630.57L954.00 630.56L954.40 630.55L954.80 630.54L955.20 630.53L955.60 630.51L956.00 630.50L956.40 630.49L956.80 630.48L957.20 630.47L957.60 630.46L958.00 630.45L958.40 630.44L958.80 630.43L959.20 630.42L959.60 630.40L960.00 630.39L960.40 630.38L960.80 630.37L961.20 630.36L961.60 630.35L962.00 630.34L962.40 630.33L962.80 630.32L963.20 630.31L963.60 630.29L964.00 630.28L964.33 630.27M973.71 630.03L974.00 630.02L974.40 630.01L974.80 630.00L975.20 629.99L975.60 629.98L976.00 629.97L976.40 629.96L976.80 629.95L977.20 629.94L977.60 629.93L978.00 629.92L978.40 629.91L978.80 629.90L979.20 629.89L979.60 629.88L980.00 629.87L980.40 629.86L980.80 629.85L981.20 629.84L981.60 629.83L982.00 629.82L982.40 629.81L982.80 629.80L983.20 629.79L983.60 629.78L984.00 629.77L984.23 629.76M993.62 629.55L994.00 629.54L994.40 629.53L994.80 629.52L995.20 629.51L995.60 629.51L996.00 629.50L996.40 629.49L996.80 629.48L997.20 629.47L997.60 629.47L998.00 629.46L998.40 629.45L998.80 629.44L999.20 629.43L999.60 629.42L1000.00 629.41L1000.40 629.40L1000.80 629.39L1001.20 629.38L1001.60 629.38L1002.00 629.37L1002.40 629.36L1002.80 629.35L1003.20 629.34L1003.60 629.34L1004.00 629.33L1004.14 629.33" fill="none" stroke="#000" stroke-width="1.5" stroke-linecap="butt"/><path d="M255.29 785.51L255.74 787.76M256.20 790.02L256.71 792.26M257.46 795.35L258.04 797.58M258.96 800.65L259.67 802.84M260.83 805.88L261.74 808.00M263.24 810.99L264.35 813.00M266.19 815.93L267.50 817.82M269.78 820.63L271.39 822.27M274.40 824.83L276.41 825.94M280.42 827.73L282.67 828.21M287.32 828.84L289.61 828.95M294.35 828.97L296.65 828.84M301.35 828.43L303.63 828.13M308.23 827.33L310.49 826.88M314.98 825.82L317.21 825.24M321.62 824.04L323.83 823.41M328.20 822.12L330.41 821.47M334.76 820.15L336.96 819.48M341.28 818.12L343.47 817.41M347.74 815.98L349.92 815.24M354.16 813.77L356.33 813.00M360.54 811.48L362.70 810.69M366.89 809.14L369.04 808.33M373.21 806.75L375.35 805.93M379.49 804.32L381.63 803.48M385.76 801.86L387.89 801.00M392.01 799.36L394.14 798.50M398.24 796.85L400.37 795.99M404.46 794.32L406.60 793.46M410.68 791.78L412.81 790.91M416.90 789.24L419.02 788.36M423.11 786.69L425.24 785.82M429.32 784.14L431.45 783.27M435.54 781.60L437.67 780.73M441.76 779.07L443.89 778.20M447.99 776.54L450.12 775.69M454.23 774.04L456.36 773.18M460.48 771.55L462.61 770.69M466.74 769.07L468.88 768.23M473.01 766.61L475.16 765.78M479.30 764.18L481.45 763.36M485.61 761.77L487.76 760.96M491.93 759.39L494.09 758.58M498.27 757.04L500.43 756.24M504.63 754.71L506.80 753.93M511.01 752.41L513.17 751.64M517.40 750.15L519.58 749.39M523.82 747.92L525.99 747.17M530.25 745.71L532.43 744.98M536.71 743.55L538.89 742.83M543.18 741.41L545.36 740.70M549.67 739.32L551.86 738.62M556.18 737.26L558.38 736.57M562.71 735.24L564.91 734.57M569.26 733.25L571.47 732.59M575.83 731.30L578.04 730.65M582.42 729.39L584.63 728.76M589.02 727.52L591.24 726.89M595.65 725.68L597.87 725.07M602.29 723.89L604.51 723.29M608.95 722.12L611.17 721.54M615.62 720.40L617.85 719.83M622.32 718.72L624.55 718.16M629.02 717.07L631.26 716.53M635.74 715.46L637.98 714.93M642.48 713.89L644.72 713.38M649.24 712.36L651.48 711.85M656.00 710.86L658.25 710.36M662.78 709.39L665.03 708.92M669.57 707.97L671.82 707.50M676.37 706.58L678.63 706.12M683.19 705.22L685.45 704.78M690.02 703.90L692.28 703.47M696.86 702.62L699.12 702.20M703.71 701.36L705.97 700.96M710.56 700.13L712.83 699.75M717.43 698.95L719.70 698.57M724.31 697.78L726.58 697.42M731.20 696.67L733.47 696.31M738.09 695.57L740.37 695.22M744.99 694.50L747.27 694.16M751.90 693.47L754.18 693.14M758.82 692.46L761.10 692.13M765.74 691.48L768.02 691.16M772.67 690.52L774.95 690.21M779.61 689.59L781.89 689.30M786.55 688.69L788.83 688.39M793.50 687.81L795.78 687.52M800.45 686.95L802.73 686.68M807.40 686.12L809.69 685.86M814.36 685.30L816.65 685.05M821.33 684.53L823.61 684.27M828.30 683.76L830.58 683.51M835.27 683.00L837.56 682.76M842.25 682.28L844.53 682.04M849.22 681.57L851.51 681.34M856.21 680.88L858.49 680.65M863.19 680.21L865.48 679.99M870.18 679.55L872.47 679.34M877.17 678.91L879.46 678.70M884.16 678.28L886.45 678.08M891.16 677.67L893.45 677.48M898.15 677.08L900.44 676.88M905.15 676.49L907.44 676.31M912.15 675.92L914.44 675.74M919.15 675.36L921.45 675.18M926.16 674.81L928.45 674.63M933.16 674.27L935.45 674.10M940.17 673.74L942.46 673.57M947.18 673.23L949.47 673.05M954.18 672.72L956.48 672.55M961.19 672.22L963.49 672.04M968.20 671.71L970.50 671.55M975.21 671.22L977.51 671.07M982.22 670.75L984.52 670.60M989.24 670.27L991.53 670.11M996.25 669.79L998.54 669.65" fill="none" stroke="#000" stroke-width="1.5" stroke-linecap="butt"/><path d="M254.90 859.06C254.98 859.19 255.23 859.57 255.40 859.82C255.57 860.07 255.73 860.31 255.90 860.55C256.07 860.79 256.23 861.02 256.40 861.25C256.57 861.48 256.73 861.70 256.90 861.92C257.07 862.14 257.23 862.36 257.40 862.57C257.57 862.78 257.73 862.99 257.90 863.19C258.07 863.39 258.23 863.59 258.40 863.78C258.57 863.97 258.73 864.16 258.90 864.35C259.07 864.54 259.23 864.72 259.40 864.90C259.57 865.08 259.73 865.25 259.90 865.42C260.07 865.59 260.23 865.75 260.40 865.91C260.57 866.07 260.73 866.24 260.90 866.39C261.07 866.54 261.23 866.69 261.40 866.84C261.57 866.99 261.73 867.13 261.90 867.27C262.07 867.41 262.23 867.55 262.40 867.68C262.57 867.81 262.73 867.94 262.90 868.07C263.07 868.20 263.23 868.32 263.40 868.44C263.57 868.56 263.73 868.68 263.90 868.79C264.07 868.90 264.23 869.01 264.40 869.12C264.57 869.23 264.73 869.33 264.90 869.43C265.07 869.53 265.23 869.63 265.40 869.73C265.57 869.83 265.73 869.92 265.90 870.01C266.07 870.10 266.23 870.18 266.40 870.27C266.57 870.36 266.73 870.44 266.90 870.52C267.07 870.60 267.23 870.68 267.40 870.76C267.57 870.84 267.73 870.91 267.90 870.98C268.07 871.05 268.23 871.12 268.40 871.19C268.57 871.26 268.73 871.32 268.90 871.38C269.07 871.44 269.23 871.50 269.40 871.56C269.57 871.62 269.73 871.67 269.90 871.73C270.07 871.79 270.23 871.84 270.40 871.89C270.57 871.94 270.73 871.99 270.90 872.04C271.07 872.09 271.23 872.13 271.40 872.18C271.57 872.22 271.73 872.27 271.90 872.31C272.07 872.35 272.23 872.39 272.40 872.43C272.57 872.47 272.73 872.50 272.90 872.54C273.07 872.58 273.23 872.62 273.40 872.65C273.57 872.68 273.73 872.71 273.90 872.74C274.07 872.77 274.23 872.80 274.40 872.83C274.57 872.86 274.48 872.85 274.90 872.91C275.32 872.97 276.23 873.10 276.90 873.17C277.57 873.24 278.23 873.28 278.90 873.31C279.57 873.34 280.23 873.36 280.90 873.37C281.57 873.38 282.23 873.37 282.90 873.35C283.57 873.33 284.23 873.30 284.90 873.27C285.57 873.24 286.23 873.19 286.90 873.14C287.57 873.09 288.23 873.03 288.90 872.97C289.57 872.91 290.23 872.83 290.90 872.76C291.57 872.69 292.23 872.61 292.90 872.53C293.57 872.45 294.23 872.36 294.90 872.27C295.57 872.18 296.23 872.08 296.90 871.98C297.57 871.88 298.23 871.78 298.90 871.67C299.57 871.56 300.23 871.45 300.90 871.33C301.57 871.21 302.23 871.09 302.90 870.96C303.57 870.84 304.23 870.71 304.90 870.58C305.57 870.45 306.23 870.31 306.90 870.17C307.57 870.03 308.23 869.89 308.90 869.74C309.57 869.59 310.23 869.44 310.90 869.29C311.57 869.14 312.23 868.98 312.90 868.82C313.57 868.66 314.23 868.50 314.90 868.34C315.57 868.18 316.23 868.02 316.90 867.85C317.57 867.68 318.23 867.51 318.90 867.34C319.57 867.17 320.23 867.00 320.90 866.83C321.57 866.66 322.23 866.49 322.90 866.32C323.57 866.15 324.23 865.97 324.90 865.80C325.57 865.63 326.23 865.45 326.90 865.28C327.57 865.11 328.23 864.93 328.90 864.76C329.57 864.59 330.23 864.41 330.90 864.24C331.57 864.07 332.23 863.89 332.90 863.72C333.57 863.55 334.23 863.37 334.90 863.20C335.57 863.03 336.23 862.85 336.90 862.68C337.57 862.51 338.23 862.33 338.90 862.16C339.57 861.99 340.23 861.81 340.90 861.64C341.57 861.47 342.23 861.29 342.90 861.12C343.57 860.95 344.23 860.76 344.90 860.59C345.57 860.42 346.23 860.25 346.90 860.07C347.57 859.89 348.23 859.71 348.90 859.54C349.57 859.37 350.23 859.19 350.90 859.02C351.57 858.85 352.23 858.67 352.90 858.50C353.57 858.33 354.23 858.14 354.90 857.97C355.57 857.80 356.23 857.62 356.90 857.45C357.57 857.28 358.23 857.10 358.90 856.93C359.57 856.76 360.23 856.58 360.90 856.41C361.57 856.24 362.23 856.06 362.90 855.89C363.57 855.72 364.23 855.54 364.90 855.37C365.57 855.20 366.23 855.02 366.90 854.85C367.57 854.68 368.23 854.50 368.90 854.33C369.57 854.16 370.23 853.99 370.90 853.82C371.57 853.65 372.23 853.47 372.90 853.30C373.57 853.13 374.23 852.96 374.90 852.79C375.57 852.62 376.23 852.45 376.90 852.28C377.57 852.11 378.23 851.94 378.90 851.77C379.57 851.60 380.23 851.43 380.90 851.26C381.57 851.09 382.23 850.92 382.90 850.75C383.57 850.58 384.23 850.42 384.90 850.25C385.57 850.08 386.23 849.91 386.90 849.74C387.57 849.57 388.23 849.41 388.90 849.24C389.57 849.07 390.23 848.91 390.90 848.74C391.57 848.57 392.23 848.41 392.90 848.24C393.57 848.07 394.23 847.90 394.90 847.74C395.57 847.58 396.23 847.41 396.90 847.25C397.57 847.09 398.23 846.92 398.90 846.76C399.57 846.60 400.23 846.43 400.90 846.27C401.57 846.11 402.23 845.94 402.90 845.78C403.57 845.62 404.23 845.45 404.90 845.29C405.57 845.13 406.23 844.96 406.90 844.80C407.57 844.64 408.23 844.48 408.90 844.32C409.57 844.16 410.23 844.00 410.90 843.84C411.57 843.68 412.23 843.52 412.90 843.36C413.57 843.20 414.23 843.04 414.90 842.88C415.57 842.72 416.23 842.56 416.90 842.40C417.57 842.24 418.23 842.09 418.90 841.93C419.57 841.77 420.23 841.62 420.90 841.46C421.57 841.30 422.23 841.15 422.90 840.99C423.57 840.83 424.23 840.68 424.90 840.52C425.57 840.36 426.23 840.20 426.90 840.05C427.57 839.89 428.23 839.74 428.90 839.59C429.57 839.44 430.23 839.28 430.90 839.13C431.57 838.98 432.23 838.82 432.90 838.67C433.57 838.52 434.23 838.36 434.90 838.21C435.57 838.06 436.23 837.90 436.90 837.75C437.57 837.60 438.23 837.45 438.90 837.30C439.57 837.15 440.23 837.00 440.90 836.85C441.57 836.70 442.23 836.55 442.90 836.40C443.57 836.25 444.23 836.10 444.90 835.95C445.57 835.80 446.23 835.65 446.90 835.50C447.57 835.35 448.23 835.21 448.90 835.06C449.57 834.91 450.23 834.76 450.90 834.61C451.57 834.46 452.23 834.32 452.90 834.17C453.57 834.02 454.23 833.88 454.90 833.73C455.57 833.59 456.23 833.44 456.90 833.30C457.57 833.15 458.23 833.00 458.90 832.86C459.57 832.72 460.23 832.57 460.90 832.43C461.57 832.29 462.23 832.14 462.90 832.00C463.57 831.86 464.23 831.71 464.90 831.57C465.57 831.43 466.23 831.28 466.90 831.14C467.57 831.00 468.23 830.86 468.90 830.72C469.57 830.58 470.23 830.43 470.90 830.29C471.57 830.15 472.23 830.01 472.90 829.87C473.57 829.73 474.23 829.59 474.90 829.45C475.57 829.31 476.23 829.17 476.90 829.03C477.57 828.89 478.23 828.76 478.90 828.62C479.57 828.48 480.23 828.34 480.90 828.20C481.57 828.06 482.23 827.93 482.90 827.79C483.57 827.65 484.23 827.52 484.90 827.38C485.57 827.24 486.23 827.11 486.90 826.97C487.57 826.83 488.23 826.69 488.90 826.56C489.57 826.42 490.23 826.29 490.90 826.16C491.57 826.02 492.23 825.88 492.90 825.75C493.57 825.62 494.23 825.48 494.90 825.35C495.57 825.22 496.23 825.08 496.90 824.95C497.57 824.82 498.23 824.68 498.90 824.55C499.57 824.42 500.23 824.29 500.90 824.16C501.57 824.03 502.23 823.89 502.90 823.76C503.57 823.63 504.23 823.50 504.90 823.37C505.57 823.24 506.23 823.11 506.90 822.98C507.57 822.85 508.23 822.72 508.90 822.59C509.57 822.46 510.23 822.33 510.90 822.20C511.57 822.07 512.23 821.94 512.90 821.81C513.57 821.68 514.23 821.56 514.90 821.43C515.57 821.30 516.23 821.17 516.90 821.04C517.57 820.91 518.23 820.79 518.90 820.66C519.57 820.53 520.23 820.40 520.90 820.28C521.57 820.15 522.23 820.03 522.90 819.91C523.57 819.78 524.23 819.66 524.90 819.53C525.57 819.40 526.23 819.27 526.90 819.15C527.57 819.02 528.23 818.90 528.90 818.78C529.57 818.66 530.23 818.53 530.90 818.41C531.57 818.29 532.23 818.16 532.90 818.04C533.57 817.92 534.23 817.79 534.90 817.67C535.57 817.55 536.23 817.42 536.90 817.30C537.57 817.18 538.23 817.06 538.90 816.94C539.57 816.82 540.23 816.69 540.90 816.57C541.57 816.45 542.23 816.33 542.90 816.21C543.57 816.09 544.23 815.97 544.90 815.85C545.57 815.73 546.23 815.61 546.90 815.49C547.57 815.37 548.23 815.25 548.90 815.13C549.57 815.01 550.23 814.90 550.90 814.78C551.57 814.66 552.23 814.54 552.90 814.42C553.57 814.30 554.23 814.19 554.90 814.07C555.57 813.95 556.23 813.84 556.90 813.72C557.57 813.60 558.23 813.49 558.90 813.37C559.57 813.25 560.23 813.14 560.90 813.02C561.57 812.90 562.23 812.78 562.90 812.67C563.57 812.55 564.23 812.45 564.90 812.33C565.57 812.22 566.23 812.10 566.90 811.98C567.57 811.87 568.23 811.75 568.90 811.64C569.57 811.53 570.23 811.41 570.90 811.30C571.57 811.19 572.23 811.07 572.90 810.96C573.57 810.85 574.23 810.73 574.90 810.62C575.57 810.51 576.23 810.39 576.90 810.28C577.57 810.17 578.23 810.05 578.90 809.94C579.57 809.83 580.23 809.72 580.90 809.61C581.57 809.50 582.23 809.39 582.90 809.28C583.57 809.17 584.23 809.05 584.90 808.94C585.57 808.83 586.23 808.72 586.90 808.61C587.57 808.50 588.23 808.39 588.90 808.28C589.57 808.17 590.23 808.07 590.90 807.96C591.57 807.85 592.23 807.74 592.90 807.63C593.57 807.52 594.23 807.41 594.90 807.30C595.57 807.19 596.23 807.09 596.90 806.98C597.57 806.87 598.23 806.77 598.90 806.66C599.57 806.55 600.23 806.45 600.90 806.34C601.57 806.23 602.23 806.12 602.90 806.01C603.57 805.90 604.23 805.81 604.90 805.70C605.57 805.60 606.23 805.49 606.90 805.38C607.57 805.27 608.23 805.16 608.90 805.06C609.57 804.95 610.23 804.86 610.90 804.75C611.57 804.64 612.23 804.53 612.90 804.43C613.57 804.32 614.23 804.22 614.90 804.12C615.57 804.02 616.23 803.91 616.90 803.81C617.57 803.71 618.23 803.60 618.90 803.50C619.57 803.40 620.23 803.29 620.90 803.19C621.57 803.09 622.23 802.98 622.90 802.88C623.57 802.78 624.23 802.67 624.90 802.57C625.57 802.47 626.23 802.37 626.90 802.27C627.57 802.17 628.23 802.06 628.90 801.96C629.57 801.86 630.23 801.76 630.90 801.66C631.57 801.56 632.23 801.46 632.90 801.36C633.57 801.26 634.23 801.16 634.90 801.06C635.57 800.96 636.23 800.86 636.90 800.76C637.57 800.66 638.23 800.56 638.90 800.46C639.57 800.36 640.23 800.26 640.90 800.16C641.57 800.06 642.23 799.96 642.90 799.86C643.57 799.76 644.23 799.67 644.90 799.57C645.57 799.47 646.23 799.37 646.90 799.27C647.57 799.17 648.23 799.08 648.90 798.98C649.57 798.88 650.23 798.79 650.90 798.69C651.57 798.59 652.23 798.49 652.90 798.39C653.57 798.29 654.23 798.20 654.90 798.10C655.57 798.00 656.23 797.92 656.90 797.82C657.57 797.73 658.23 797.63 658.90 797.53C659.57 797.43 660.23 797.34 660.90 797.24C661.57 797.14 662.23 797.05 662.90 796.95C663.57 796.86 664.23 796.76 664.90 796.67C665.57 796.57 666.23 796.48 666.90 796.38C667.57 796.28 668.23 796.19 668.90 796.10C669.57 796.01 670.23 795.91 670.90 795.82C671.57 795.73 672.23 795.63 672.90 795.54C673.57 795.45 674.23 795.35 674.90 795.26C675.57 795.17 676.23 795.07 676.90 794.98C677.57 794.89 678.23 794.79 678.90 794.70C679.57 794.61 680.23 794.51 680.90 794.42C681.57 794.33 682.23 794.24 682.90 794.15C683.57 794.06 684.23 793.96 684.90 793.87C685.57 793.78 686.23 793.69 686.90 793.60C687.57 793.51 688.23 793.42 688.90 793.33C689.57 793.24 690.23 793.14 690.90 793.05C691.57 792.96 692.23 792.87 692.90 792.78C693.57 792.69 694.23 792.60 694.90 792.51C695.57 792.42 696.23 792.33 696.90 792.24C697.57 792.15 698.23 792.06 698.90 791.97C699.57 791.88 700.23 791.79 700.90 791.70C701.57 791.61 702.23 791.53 702.90 791.44C703.57 791.35 704.23 791.26 704.90 791.17C705.57 791.08 706.23 791.00 706.90 790.91C707.57 790.82 708.23 790.73 708.90 790.64C709.57 790.55 710.23 790.47 710.90 790.38C711.57 790.29 712.23 790.21 712.90 790.12C713.57 790.03 714.23 789.94 714.90 789.85C715.57 789.76 716.23 789.68 716.90 789.59C717.57 789.50 718.23 789.42 718.90 789.33C719.57 789.24 720.23 789.16 720.90 789.07C721.57 788.99 722.23 788.91 722.90 788.82C723.57 788.74 724.23 788.65 724.90 788.56C725.57 788.47 726.23 788.38 726.90 788.30C727.57 788.21 728.23 788.13 728.90 788.05C729.57 787.96 730.23 787.88 730.90 787.79C731.57 787.70 732.23 787.62 732.90 787.54C733.57 787.45 734.23 787.37 734.90 787.28C735.57 787.19 736.23 787.11 736.90 787.03C737.57 786.95 738.23 786.86 738.90 786.78C739.57 786.70 740.23 786.61 740.90 786.53C741.57 786.45 742.23 786.36 742.90 786.28C743.57 786.20 744.23 786.11 744.90 786.03C745.57 785.95 746.23 785.86 746.90 785.78C747.57 785.70 748.23 785.61 748.90 785.53C749.57 785.45 750.23 785.36 750.90 785.28C751.57 785.20 752.23 785.12 752.90 785.04C753.57 784.96 754.23 784.87 754.90 784.79C755.57 784.71 756.23 784.63 756.90 784.55C757.57 784.47 758.23 784.38 758.90 784.30C759.57 784.22 760.23 784.14 760.90 784.06C761.57 783.98 762.23 783.90 762.90 783.82C763.57 783.74 764.23 783.65 764.90 783.57C765.57 783.49 766.23 783.41 766.90 783.33C767.57 783.25 768.23 783.17 768.90 783.09C769.57 783.01 770.23 782.93 770.90 782.85C771.57 782.77 772.23 782.69 772.90 782.61C773.57 782.53 774.23 782.45 774.90 782.37C775.57 782.29 776.23 782.21 776.90 782.13C777.57 782.05 778.23 781.98 778.90 781.90C779.57 781.82 780.23 781.74 780.90 781.66C781.57 781.58 782.23 781.50 782.90 781.42C783.57 781.34 784.23 781.27 784.90 781.19C785.57 781.11 786.23 781.03 786.90 780.95C787.57 780.87 788.23 780.80 788.90 780.72C789.57 780.64 790.23 780.57 790.90 780.49C791.57 780.41 792.23 780.33 792.90 780.25C793.57 780.17 794.23 780.10 794.90 780.02C795.57 779.94 796.23 779.87 796.90 779.79C797.57 779.71 798.23 779.64 798.90 779.56C799.57 779.48 800.23 779.41 800.90 779.33C801.57 779.25 802.23 779.18 802.90 779.10C803.57 779.02 804.23 778.95 804.90 778.87C805.57 778.79 806.23 778.72 806.90 778.64C807.57 778.56 808.23 778.48 808.90 778.41C809.57 778.34 810.23 778.27 810.90 778.19C811.57 778.12 812.23 778.04 812.90 777.96C813.57 777.88 814.23 777.81 814.90 777.73C815.57 777.65 816.23 777.59 816.90 777.51C817.57 777.43 818.23 777.36 818.90 777.28C819.57 777.20 820.23 777.13 820.90 777.06C821.57 776.98 822.23 776.90 822.90 776.83C823.57 776.76 824.23 776.68 824.90 776.61C825.57 776.54 826.23 776.46 826.90 776.39C827.57 776.32 828.23 776.24 828.90 776.17C829.57 776.10 830.23 776.03 830.90 775.95C831.57 775.88 832.23 775.80 832.90 775.72C833.57 775.64 834.23 775.57 834.90 775.50C835.57 775.43 836.23 775.35 836.90 775.28C837.57 775.21 838.23 775.13 838.90 775.06C839.57 774.99 840.23 774.92 840.90 774.85C841.57 774.78 842.23 774.70 842.90 774.63C843.57 774.56 844.23 774.48 844.90 774.41C845.57 774.34 846.23 774.26 846.90 774.19C847.57 774.12 848.23 774.05 848.90 773.98C849.57 773.91 850.23 773.83 850.90 773.76C851.57 773.69 852.23 773.61 852.90 773.54C853.57 773.47 854.23 773.40 854.90 773.33C855.57 773.26 856.23 773.18 856.90 773.11C857.57 773.04 858.23 772.97 858.90 772.90C859.57 772.83 860.23 772.76 860.90 772.69C861.57 772.62 862.23 772.54 862.90 772.47C863.57 772.40 864.23 772.33 864.90 772.26C865.57 772.19 866.23 772.12 866.90 772.05C867.57 771.98 868.23 771.91 868.90 771.84C869.57 771.77 870.23 771.69 870.90 771.62C871.57 771.55 872.23 771.48 872.90 771.41C873.57 771.34 874.23 771.27 874.90 771.20C875.57 771.13 876.23 771.06 876.90 770.99C877.57 770.92 878.23 770.85 878.90 770.78C879.57 770.71 880.23 770.64 880.90 770.57C881.57 770.50 882.23 770.44 882.90 770.37C883.57 770.30 884.23 770.23 884.90 770.16C885.57 770.09 886.23 770.02 886.90 769.95C887.57 769.88 888.23 769.81 888.90 769.74C889.57 769.67 890.23 769.61 890.90 769.54C891.57 769.47 892.23 769.40 892.90 769.33C893.57 769.26 894.23 769.19 894.90 769.12C895.57 769.05 896.23 768.99 896.90 768.92C897.57 768.85 898.23 768.78 898.90 768.71C899.57 768.64 900.23 768.58 900.90 768.51C901.57 768.44 902.23 768.37 902.90 768.30C903.57 768.23 904.23 768.17 904.90 768.10C905.57 768.03 906.23 767.97 906.90 767.90C907.57 767.83 908.23 767.76 908.90 767.69C909.57 767.62 910.23 767.56 910.90 767.49C911.57 767.42 912.23 767.36 912.90 767.29C913.57 767.22 914.23 767.16 914.90 767.09C915.57 767.02 916.23 766.95 916.90 766.88C917.57 766.81 918.23 766.75 918.90 766.68C919.57 766.61 920.23 766.55 920.90 766.48C921.57 766.41 922.23 766.35 922.90 766.28C923.57 766.21 924.23 766.15 924.90 766.08C925.57 766.01 926.23 765.95 926.90 765.88C927.57 765.81 928.23 765.75 928.90 765.68C929.57 765.61 930.23 765.55 930.90 765.48C931.57 765.41 932.23 765.36 932.90 765.29C933.57 765.22 934.23 765.16 934.90 765.09C935.57 765.02 936.23 764.96 936.90 764.89C937.57 764.82 938.23 764.76 938.90 764.69C939.57 764.62 940.23 764.56 940.90 764.49C941.57 764.42 942.23 764.37 942.90 764.30C943.57 764.23 944.23 764.16 944.90 764.10C945.57 764.04 946.23 763.97 946.90 763.91C947.57 763.85 948.23 763.78 948.90 763.71C949.57 763.64 950.23 763.58 950.90 763.51C951.57 763.44 952.23 763.38 952.90 763.32C953.57 763.26 954.23 763.19 954.90 763.12C955.57 763.05 956.23 762.99 956.90 762.93C957.57 762.87 958.23 762.81 958.90 762.74C959.57 762.67 960.23 762.61 960.90 762.54C961.57 762.47 962.23 762.41 962.90 762.35C963.57 762.29 964.23 762.21 964.90 762.15C965.57 762.09 966.23 762.02 966.90 761.96C967.57 761.90 968.23 761.83 968.90 761.77C969.57 761.71 970.23 761.64 970.90 761.58C971.57 761.52 972.23 761.45 972.90 761.39C973.57 761.33 974.23 761.26 974.90 761.19C975.57 761.12 976.23 761.06 976.90 761.00C977.57 760.94 978.23 760.87 978.90 760.81C979.57 760.75 980.23 760.68 980.90 760.62C981.57 760.56 982.23 760.49 982.90 760.43C983.57 760.37 984.23 760.30 984.90 760.24C985.57 760.18 986.23 760.11 986.90 760.05C987.57 759.99 988.23 759.92 988.90 759.86C989.57 759.80 990.23 759.73 990.90 759.67C991.57 759.61 992.23 759.54 992.90 759.48C993.57 759.42 994.23 759.35 994.90 759.29C995.57 759.23 996.23 759.16 996.90 759.10C997.57 759.04 998.23 758.98 998.90 758.92C999.57 758.86 1000.23 758.79 1000.90 758.73C1001.57 758.67 1002.27 758.60 1002.90 758.54C1003.53 758.48 1004.40 758.40 1004.70 758.37" fill="none" stroke="#000" stroke-width="1.5" stroke-linecap="butt"/><path d="M188.00 644.97C324.17 644.97 868.83 644.97 1005.00 644.97" fill="none" stroke="#000" stroke-width="1.5" stroke-linecap="butt" stroke-dasharray="20 10.16"/></g>
<rect x="188.0" y="0.7" width="817.0" height="412.3" fill="none" stroke="#000" stroke-width="1.8"/><rect x="188.0" y="507.5" width="817.0" height="412.4" fill="none" stroke="#000" stroke-width="1.8"/>
<path d="M188.00 413.00L204.40 413.00M1005.00 413.00L988.60 413.00M188.00 392.31L196.30 392.31M1005.00 392.31L996.70 392.31M188.00 380.21L196.30 380.21M1005.00 380.21L996.70 380.21M188.00 371.63L196.30 371.63M1005.00 371.63L996.70 371.63M188.00 364.97L196.30 364.97M1005.00 364.97L996.70 364.97M188.00 359.53L196.30 359.53M1005.00 359.53L996.70 359.53M188.00 354.93L196.30 354.93M1005.00 354.93L996.70 354.93M188.00 350.94L196.30 350.94M1005.00 350.94L996.70 350.94M188.00 347.43L196.30 347.43M1005.00 347.43L996.70 347.43M188.00 344.28L204.40 344.28M1005.00 344.28L988.60 344.28M188.00 323.60L196.30 323.60M1005.00 323.60L996.70 323.60M188.00 311.50L196.30 311.50M1005.00 311.50L996.70 311.50M188.00 302.91L196.30 302.91M1005.00 302.91L996.70 302.91M188.00 296.25L196.30 296.25M1005.00 296.25L996.70 296.25M188.00 290.81L196.30 290.81M1005.00 290.81L996.70 290.81M188.00 286.21L196.30 286.21M1005.00 286.21L996.70 286.21M188.00 282.23L196.30 282.23M1005.00 282.23L996.70 282.23M188.00 278.71L196.30 278.71M1005.00 278.71L996.70 278.71M188.00 275.57L204.40 275.57M1005.00 275.57L988.60 275.57M188.00 254.88L196.30 254.88M1005.00 254.88L996.70 254.88M188.00 242.78L196.30 242.78M1005.00 242.78L996.70 242.78M188.00 234.20L196.30 234.20M1005.00 234.20L996.70 234.20M188.00 227.54L196.30 227.54M1005.00 227.54L996.70 227.54M188.00 222.09L196.30 222.09M1005.00 222.09L996.70 222.09M188.00 217.49L196.30 217.49M1005.00 217.49L996.70 217.49M188.00 213.51L196.30 213.51M1005.00 213.51L996.70 213.51M188.00 209.99L196.30 209.99M1005.00 209.99L996.70 209.99M188.00 206.85L204.40 206.85M1005.00 206.85L988.60 206.85M188.00 186.16L196.30 186.16M1005.00 186.16L996.70 186.16M188.00 174.06L196.30 174.06M1005.00 174.06L996.70 174.06M188.00 165.48L196.30 165.48M1005.00 165.48L996.70 165.48M188.00 158.82L196.30 158.82M1005.00 158.82L996.70 158.82M188.00 153.38L196.30 153.38M1005.00 153.38L996.70 153.38M188.00 148.78L196.30 148.78M1005.00 148.78L996.70 148.78M188.00 144.79L196.30 144.79M1005.00 144.79L996.70 144.79M188.00 141.28L196.30 141.28M1005.00 141.28L996.70 141.28M188.00 138.13L204.40 138.13M1005.00 138.13L988.60 138.13M188.00 117.45L196.30 117.45M1005.00 117.45L996.70 117.45M188.00 105.35L196.30 105.35M1005.00 105.35L996.70 105.35M188.00 96.76L196.30 96.76M1005.00 96.76L996.70 96.76M188.00 90.10L196.30 90.10M1005.00 90.10L996.70 90.10M188.00 84.66L196.30 84.66M1005.00 84.66L996.70 84.66M188.00 80.06L196.30 80.06M1005.00 80.06L996.70 80.06M188.00 76.08L196.30 76.08M1005.00 76.08L996.70 76.08M188.00 72.56L196.30 72.56M1005.00 72.56L996.70 72.56M188.00 69.42L204.40 69.42M1005.00 69.42L988.60 69.42M188.00 48.73L196.30 48.73M1005.00 48.73L996.70 48.73M188.00 36.63L196.30 36.63M1005.00 36.63L996.70 36.63M188.00 28.05L196.30 28.05M1005.00 28.05L996.70 28.05M188.00 21.39L196.30 21.39M1005.00 21.39L996.70 21.39M188.00 15.94L196.30 15.94M1005.00 15.94L996.70 15.94M188.00 11.34L196.30 11.34M1005.00 11.34L996.70 11.34M188.00 7.36L196.30 7.36M1005.00 7.36L996.70 7.36M188.00 3.84L196.30 3.84M1005.00 3.84L996.70 3.84M188.00 0.70L204.40 0.70M1005.00 0.70L988.60 0.70M188.00 413.00L188.00 405.00M188.00 0.70L188.00 8.70M204.34 413.00L204.34 409.00M204.34 0.70L204.34 4.70M220.68 413.00L220.68 409.00M220.68 0.70L220.68 4.70M237.02 413.00L237.02 409.00M237.02 0.70L237.02 4.70M253.36 413.00L253.36 409.00M253.36 0.70L253.36 4.70M269.70 413.00L269.70 409.00M269.70 0.70L269.70 4.70M286.04 413.00L286.04 409.00M286.04 0.70L286.04 4.70M302.38 413.00L302.38 409.00M302.38 0.70L302.38 4.70M318.72 413.00L318.72 409.00M318.72 0.70L318.72 4.70M335.06 413.00L335.06 409.00M335.06 0.70L335.06 4.70M351.40 413.00L351.40 405.00M351.40 0.70L351.40 8.70M367.74 413.00L367.74 409.00M367.74 0.70L367.74 4.70M384.08 413.00L384.08 409.00M384.08 0.70L384.08 4.70M400.42 413.00L400.42 409.00M400.42 0.70L400.42 4.70M416.76 413.00L416.76 409.00M416.76 0.70L416.76 4.70M433.10 413.00L433.10 409.00M433.10 0.70L433.10 4.70M449.44 413.00L449.44 409.00M449.44 0.70L449.44 4.70M465.78 413.00L465.78 409.00M465.78 0.70L465.78 4.70M482.12 413.00L482.12 409.00M482.12 0.70L482.12 4.70M498.46 413.00L498.46 409.00M498.46 0.70L498.46 4.70M514.80 413.00L514.80 405.00M514.80 0.70L514.80 8.70M531.14 413.00L531.14 409.00M531.14 0.70L531.14 4.70M547.48 413.00L547.48 409.00M547.48 0.70L547.48 4.70M563.82 413.00L563.82 409.00M563.82 0.70L563.82 4.70M580.16 413.00L580.16 409.00M580.16 0.70L580.16 4.70M596.50 413.00L596.50 409.00M596.50 0.70L596.50 4.70M612.84 413.00L612.84 409.00M612.84 0.70L612.84 4.70M629.18 413.00L629.18 409.00M629.18 0.70L629.18 4.70M645.52 413.00L645.52 409.00M645.52 0.70L645.52 4.70M661.86 413.00L661.86 409.00M661.86 0.70L661.86 4.70M678.20 413.00L678.20 405.00M678.20 0.70L678.20 8.70M694.54 413.00L694.54 409.00M694.54 0.70L694.54 4.70M710.88 413.00L710.88 409.00M710.88 0.70L710.88 4.70M727.22 413.00L727.22 409.00M727.22 0.70L727.22 4.70M743.56 413.00L743.56 409.00M743.56 0.70L743.56 4.70M759.90 413.00L759.90 409.00M759.90 0.70L759.90 4.70M776.24 413.00L776.24 409.00M776.24 0.70L776.24 4.70M792.58 413.00L792.58 409.00M792.58 0.70L792.58 4.70M808.92 413.00L808.92 409.00M808.92 0.70L808.92 4.70M825.26 413.00L825.26 409.00M825.26 0.70L825.26 4.70M841.60 413.00L841.60 405.00M841.60 0.70L841.60 8.70M857.94 413.00L857.94 409.00M857.94 0.70L857.94 4.70M874.28 413.00L874.28 409.00M874.28 0.70L874.28 4.70M890.62 413.00L890.62 409.00M890.62 0.70L890.62 4.70M906.96 413.00L906.96 409.00M906.96 0.70L906.96 4.70M923.30 413.00L923.30 409.00M923.30 0.70L923.30 4.70M939.64 413.00L939.64 409.00M939.64 0.70L939.64 4.70M955.98 413.00L955.98 409.00M955.98 0.70L955.98 4.70M972.32 413.00L972.32 409.00M972.32 0.70L972.32 4.70M988.66 413.00L988.66 409.00M988.66 0.70L988.66 4.70M1005.00 413.00L1005.00 405.00M1005.00 0.70L1005.00 8.70M188.00 919.90L204.40 919.90M1005.00 919.90L988.60 919.90M188.00 899.21L196.30 899.21M1005.00 899.21L996.70 899.21M188.00 887.11L196.30 887.11M1005.00 887.11L996.70 887.11M188.00 878.52L196.30 878.52M1005.00 878.52L996.70 878.52M188.00 871.86L196.30 871.86M1005.00 871.86L996.70 871.86M188.00 866.42L196.30 866.42M1005.00 866.42L996.70 866.42M188.00 861.81L196.30 861.81M1005.00 861.81L996.70 861.81M188.00 857.83L196.30 857.83M1005.00 857.83L996.70 857.83M188.00 854.31L196.30 854.31M1005.00 854.31L996.70 854.31M188.00 851.17L204.40 851.17M1005.00 851.17L988.60 851.17M188.00 830.48L196.30 830.48M1005.00 830.48L996.70 830.48M188.00 818.37L196.30 818.37M1005.00 818.37L996.70 818.37M188.00 809.79L196.30 809.79M1005.00 809.79L996.70 809.79M188.00 803.12L196.30 803.12M1005.00 803.12L996.70 803.12M188.00 797.68L196.30 797.68M1005.00 797.68L996.70 797.68M188.00 793.08L196.30 793.08M1005.00 793.08L996.70 793.08M188.00 789.09L196.30 789.09M1005.00 789.09L996.70 789.09M188.00 785.58L196.30 785.58M1005.00 785.58L996.70 785.58M188.00 782.43L204.40 782.43M1005.00 782.43L988.60 782.43M188.00 761.74L196.30 761.74M1005.00 761.74L996.70 761.74M188.00 749.64L196.30 749.64M1005.00 749.64L996.70 749.64M188.00 741.05L196.30 741.05M1005.00 741.05L996.70 741.05M188.00 734.39L196.30 734.39M1005.00 734.39L996.70 734.39M188.00 728.95L196.30 728.95M1005.00 728.95L996.70 728.95M188.00 724.35L196.30 724.35M1005.00 724.35L996.70 724.35M188.00 720.36L196.30 720.36M1005.00 720.36L996.70 720.36M188.00 716.85L196.30 716.85M1005.00 716.85L996.70 716.85M188.00 713.70L204.40 713.70M1005.00 713.70L988.60 713.70M188.00 693.01L196.30 693.01M1005.00 693.01L996.70 693.01M188.00 680.91L196.30 680.91M1005.00 680.91L996.70 680.91M188.00 672.32L196.30 672.32M1005.00 672.32L996.70 672.32M188.00 665.66L196.30 665.66M1005.00 665.66L996.70 665.66M188.00 660.22L196.30 660.22M1005.00 660.22L996.70 660.22M188.00 655.61L196.30 655.61M1005.00 655.61L996.70 655.61M188.00 651.63L196.30 651.63M1005.00 651.63L996.70 651.63M188.00 648.11L196.30 648.11M1005.00 648.11L996.70 648.11M188.00 644.97L204.40 644.97M1005.00 644.97L988.60 644.97M188.00 624.28L196.30 624.28M1005.00 624.28L996.70 624.28M188.00 612.17L196.30 612.17M1005.00 612.17L996.70 612.17M188.00 603.59L196.30 603.59M1005.00 603.59L996.70 603.59M188.00 596.92L196.30 596.92M1005.00 596.92L996.70 596.92M188.00 591.48L196.30 591.48M1005.00 591.48L996.70 591.48M188.00 586.88L196.30 586.88M1005.00 586.88L996.70 586.88M188.00 582.89L196.30 582.89M1005.00 582.89L996.70 582.89M188.00 579.38L196.30 579.38M1005.00 579.38L996.70 579.38M188.00 576.23L204.40 576.23M1005.00 576.23L988.60 576.23M188.00 555.54L196.30 555.54M1005.00 555.54L996.70 555.54M188.00 543.44L196.30 543.44M1005.00 543.44L996.70 543.44M188.00 534.85L196.30 534.85M1005.00 534.85L996.70 534.85M188.00 528.19L196.30 528.19M1005.00 528.19L996.70 528.19M188.00 522.75L196.30 522.75M1005.00 522.75L996.70 522.75M188.00 518.15L196.30 518.15M1005.00 518.15L996.70 518.15M188.00 514.16L196.30 514.16M1005.00 514.16L996.70 514.16M188.00 510.65L196.30 510.65M1005.00 510.65L996.70 510.65M188.00 507.50L204.40 507.50M1005.00 507.50L988.60 507.50M188.00 919.90L188.00 911.90M188.00 507.50L188.00 515.50M204.34 919.90L204.34 915.90M204.34 507.50L204.34 511.50M220.68 919.90L220.68 915.90M220.68 507.50L220.68 511.50M237.02 919.90L237.02 915.90M237.02 507.50L237.02 511.50M253.36 919.90L253.36 915.90M253.36 507.50L253.36 511.50M269.70 919.90L269.70 915.90M269.70 507.50L269.70 511.50M286.04 919.90L286.04 915.90M286.04 507.50L286.04 511.50M302.38 919.90L302.38 915.90M302.38 507.50L302.38 511.50M318.72 919.90L318.72 915.90M318.72 507.50L318.72 511.50M335.06 919.90L335.06 915.90M335.06 507.50L335.06 511.50M351.40 919.90L351.40 911.90M351.40 507.50L351.40 515.50M367.74 919.90L367.74 915.90M367.74 507.50L367.74 511.50M384.08 919.90L384.08 915.90M384.08 507.50L384.08 511.50M400.42 919.90L400.42 915.90M400.42 507.50L400.42 511.50M416.76 919.90L416.76 915.90M416.76 507.50L416.76 511.50M433.10 919.90L433.10 915.90M433.10 507.50L433.10 511.50M449.44 919.90L449.44 915.90M449.44 507.50L449.44 511.50M465.78 919.90L465.78 915.90M465.78 507.50L465.78 511.50M482.12 919.90L482.12 915.90M482.12 507.50L482.12 511.50M498.46 919.90L498.46 915.90M498.46 507.50L498.46 511.50M514.80 919.90L514.80 911.90M514.80 507.50L514.80 515.50M531.14 919.90L531.14 915.90M531.14 507.50L531.14 511.50M547.48 919.90L547.48 915.90M547.48 507.50L547.48 511.50M563.82 919.90L563.82 915.90M563.82 507.50L563.82 511.50M580.16 919.90L580.16 915.90M580.16 507.50L580.16 511.50M596.50 919.90L596.50 915.90M596.50 507.50L596.50 511.50M612.84 919.90L612.84 915.90M612.84 507.50L612.84 511.50M629.18 919.90L629.18 915.90M629.18 507.50L629.18 511.50M645.52 919.90L645.52 915.90M645.52 507.50L645.52 511.50M661.86 919.90L661.86 915.90M661.86 507.50L661.86 511.50M678.20 919.90L678.20 911.90M678.20 507.50L678.20 515.50M694.54 919.90L694.54 915.90M694.54 507.50L694.54 511.50M710.88 919.90L710.88 915.90M710.88 507.50L710.88 511.50M727.22 919.90L727.22 915.90M727.22 507.50L727.22 511.50M743.56 919.90L743.56 915.90M743.56 507.50L743.56 511.50M759.90 919.90L759.90 915.90M759.90 507.50L759.90 511.50M776.24 919.90L776.24 915.90M776.24 507.50L776.24 511.50M792.58 919.90L792.58 915.90M792.58 507.50L792.58 511.50M808.92 919.90L808.92 915.90M808.92 507.50L808.92 511.50M825.26 919.90L825.26 915.90M825.26 507.50L825.26 511.50M841.60 919.90L841.60 911.90M841.60 507.50L841.60 515.50M857.94 919.90L857.94 915.90M857.94 507.50L857.94 511.50M874.28 919.90L874.28 915.90M874.28 507.50L874.28 511.50M890.62 919.90L890.62 915.90M890.62 507.50L890.62 511.50M906.96 919.90L906.96 915.90M906.96 507.50L906.96 511.50M923.30 919.90L923.30 915.90M923.30 507.50L923.30 511.50M939.64 919.90L939.64 915.90M939.64 507.50L939.64 511.50M955.98 919.90L955.98 915.90M955.98 507.50L955.98 511.50M972.32 919.90L972.32 915.90M972.32 507.50L972.32 511.50M988.66 919.90L988.66 915.90M988.66 507.50L988.66 511.50M1005.00 919.90L1005.00 911.90M1005.00 507.50L1005.00 515.50" stroke="#000" stroke-width="1.5" fill="none"/>
<g fill="#000" text-rendering="geometricPrecision"><text transform="matrix(0.30002 0.00000 0.00000 0.19720 160.70 15.15)" font-family="DejaVu Sans, sans-serif" font-size="100" font-weight="200" stroke="#000" stroke-width="3.29">0</text><text transform="matrix(0.30002 0.00000 0.00000 0.19720 143.10 15.15)" font-family="DejaVu Sans, sans-serif" font-size="100" font-weight="200" stroke="#000" stroke-width="3.29">0</text><text transform="matrix(0.30002 0.00000 0.00000 0.19720 125.50 15.15)" font-family="DejaVu Sans, sans-serif" font-size="100" font-weight="200" stroke="#000" stroke-width="3.29">0</text><text transform="matrix(0.30002 0.00000 0.00000 0.19720 107.90 15.15)" font-family="DejaVu Sans, sans-serif" font-size="100" font-weight="200" stroke="#000" stroke-width="3.29">0</text><text transform="matrix(0.37701 0.00000 0.00000 0.32118 98.46 15.31)" font-family="DejaVu Sans, sans-serif" font-size="100" font-weight="200" stroke="#000" stroke-width="2.30">.</text><text transform="matrix(0.30002 0.00000 0.00000 0.19720 81.40 15.15)" font-family="DejaVu Sans, sans-serif" font-size="100" font-weight="200" stroke="#000" stroke-width="3.29">0</text><text transform="matrix(0.30002 0.00000 0.00000 0.19720 63.80 15.15)" font-family="DejaVu Sans, sans-serif" font-size="100" font-weight="200" stroke="#000" stroke-width="3.29">0</text><text transform="matrix(0.22714 0.00000 0.00000 0.19359 49.56 14.72)" font-family="DejaVu Sans, sans-serif" font-size="100" font-weight="200" stroke="#000" stroke-width="3.82" clip-path="url(#one)">1</text><text transform="matrix(0.30002 0.00000 0.00000 0.19720 160.70 77.66)" font-family="DejaVu Sans, sans-serif" font-size="100" font-weight="200" stroke="#000" stroke-width="3.29">0</text><text transform="matrix(0.30002 0.00000 0.00000 0.19720 143.10 77.66)" font-family="DejaVu Sans, sans-serif" font-size="100" font-weight="200" stroke="#000" stroke-width="3.29">0</text><text transform="matrix(0.30002 0.00000 0.00000 0.19720 125.50 77.66)" font-family="DejaVu Sans, sans-serif" font-size="100" font-weight="200" stroke="#000" stroke-width="3.29">0</text><text transform="matrix(0.30002 0.00000 0.00000 0.19720 107.90 77.66)" font-family="DejaVu Sans, sans-serif" font-size="100" font-weight="200" stroke="#000" stroke-width="3.29">0</text><text transform="matrix(0.37701 0.00000 0.00000 0.32118 98.46 77.83)" font-family="DejaVu Sans, sans-serif" font-size="100" font-weight="200" stroke="#000" stroke-width="2.30">.</text><text transform="matrix(0.30002 0.00000 0.00000 0.19720 81.40 77.66)" font-family="DejaVu Sans, sans-serif" font-size="100" font-weight="200" stroke="#000" stroke-width="3.29">0</text><text transform="matrix(0.22714 0.00000 0.00000 0.19359 67.16 77.23)" font-family="DejaVu Sans, sans-serif" font-size="100" font-weight="200" stroke="#000" stroke-width="3.82" clip-path="url(#one)">1</text><text transform="matrix(0.30002 0.00000 0.00000 0.19720 160.70 146.38)" font-family="DejaVu Sans, sans-serif" font-size="100" font-weight="200" stroke="#000" stroke-width="3.29">0</text><text transform="matrix(0.30002 0.00000 0.00000 0.19720 143.10 146.38)" font-family="DejaVu Sans, sans-serif" font-size="100" font-weight="200" stroke="#000" stroke-width="3.29">0</text><text transform="matrix(0.30002 0.00000 0.00000 0.19720 125.50 146.38)" font-family="DejaVu Sans, sans-serif" font-size="100" font-weight="200" stroke="#000" stroke-width="3.29">0</text><text transform="matrix(0.30002 0.00000 0.00000 0.19720 107.90 146.38)" font-family="DejaVu Sans, sans-serif" font-size="100" font-weight="200" stroke="#000" stroke-width="3.29">0</text><text transform="matrix(0.37701 0.00000 0.00000 0.32118 98.46 146.55)" font-family="DejaVu Sans, sans-serif" font-size="100" font-weight="200" stroke="#000" stroke-width="2.30">.</text><text transform="matrix(0.22714 0.00000 0.00000 0.19359 84.76 145.95)" font-family="DejaVu Sans, sans-serif" font-size="100" font-weight="200" stroke="#000" stroke-width="3.82" clip-path="url(#one)">1</text><text transform="matrix(0.30002 0.00000 0.00000 0.19720 160.70 215.10)" font-family="DejaVu Sans, sans-serif" font-size="100" font-weight="200" stroke="#000" stroke-width="3.29">0</text><text transform="matrix(0.30002 0.00000 0.00000 0.19720 143.10 215.10)" font-family="DejaVu Sans, sans-serif" font-size="100" font-weight="200" stroke="#000" stroke-width="3.29">0</text><text transform="matrix(0.30002 0.00000 0.00000 0.19720 125.50 215.10)" font-family="DejaVu Sans, sans-serif" font-size="100" font-weight="200" stroke="#000" stroke-width="3.29">0</text><text transform="matrix(0.22714 0.00000 0.00000 0.19359 111.26 214.67)" font-family="DejaVu Sans, sans-serif" font-size="100" font-weight="200" stroke="#000" stroke-width="3.82" clip-path="url(#one)">1</text><text transform="matrix(0.37701 0.00000 0.00000 0.32118 98.46 215.26)" font-family="DejaVu Sans, sans-serif" font-size="100" font-weight="200" stroke="#000" stroke-width="2.30">.</text><text transform="matrix(0.30002 0.00000 0.00000 0.19720 81.40 215.10)" font-family="DejaVu Sans, sans-serif" font-size="100" font-weight="200" stroke="#000" stroke-width="3.29">0</text><text transform="matrix(0.30002 0.00000 0.00000 0.19720 160.70 283.81)" font-family="DejaVu Sans, sans-serif" font-size="100" font-weight="200" stroke="#000" stroke-width="3.29">0</text><text transform="matrix(0.30002 0.00000 0.00000 0.19720 143.10 283.81)" font-family="DejaVu Sans, sans-serif" font-size="100" font-weight="200" stroke="#000" stroke-width="3.29">0</text><text transform="matrix(0.22714 0.00000 0.00000 0.19359 128.86 283.38)" font-family="DejaVu Sans, sans-serif" font-size="100" font-weight="200" stroke="#000" stroke-width="3.82" clip-path="url(#one)">1</text><text transform="matrix(0.30002 0.00000 0.00000 0.19720 107.90 283.81)" font-family="DejaVu Sans, sans-serif" font-size="100" font-weight="200" stroke="#000" stroke-width="3.29">0</text><text transform="matrix(0.37701 0.00000 0.00000 0.32118 98.46 283.98)" font-family="DejaVu Sans, sans-serif" font-size="100" font-weight="200" stroke="#000" stroke-width="2.30">.</text><text transform="matrix(0.30002 0.00000 0.00000 0.19720 81.40 283.81)" font-family="DejaVu Sans, sans-serif" font-size="100" font-weight="200" stroke="#000" stroke-width="3.29">0</text><text transform="matrix(0.30002 0.00000 0.00000 0.19720 160.70 352.53)" font-family="DejaVu Sans, sans-serif" font-size="100" font-weight="200" stroke="#000" stroke-width="3.29">0</text><text transform="matrix(0.22714 0.00000 0.00000 0.19359 146.46 352.10)" font-family="DejaVu Sans, sans-serif" font-size="100" font-weight="200" stroke="#000" stroke-width="3.82" clip-path="url(#one)">1</text><text transform="matrix(0.30002 0.00000 0.00000 0.19720 125.50 352.53)" font-family="DejaVu Sans, sans-serif" font-size="100" font-weight="200" stroke="#000" stroke-width="3.29">0</text><text transform="matrix(0.30002 0.00000 0.00000 0.19720 107.90 352.53)" font-family="DejaVu Sans, sans-serif" font-size="100" font-weight="200" stroke="#000" stroke-width="3.29">0</text><text transform="matrix(0.37701 0.00000 0.00000 0.32118 98.46 352.70)" font-family="DejaVu Sans, sans-serif" font-size="100" font-weight="200" stroke="#000" stroke-width="2.30">.</text><text transform="matrix(0.30002 0.00000 0.00000 0.19720 81.40 352.53)" font-family="DejaVu Sans, sans-serif" font-size="100" font-weight="200" stroke="#000" stroke-width="3.29">0</text><text transform="matrix(0.22714 0.00000 0.00000 0.19359 164.06 412.62)" font-family="DejaVu Sans, sans-serif" font-size="100" font-weight="200" stroke="#000" stroke-width="3.82" clip-path="url(#one)">1</text><text transform="matrix(0.30002 0.00000 0.00000 0.19720 143.10 413.05)" font-family="DejaVu Sans, sans-serif" font-size="100" font-weight="200" stroke="#000" stroke-width="3.29">0</text><text transform="matrix(0.30002 0.00000 0.00000 0.19720 125.50 413.05)" font-family="DejaVu Sans, sans-serif" font-size="100" font-weight="200" stroke="#000" stroke-width="3.29">0</text><text transform="matrix(0.30002 0.00000 0.00000 0.19720 107.90 413.05)" font-family="DejaVu Sans, sans-serif" font-size="100" font-weight="200" stroke="#000" stroke-width="3.29">0</text><text transform="matrix(0.37701 0.00000 0.00000 0.32118 98.46 413.21)" font-family="DejaVu Sans, sans-serif" font-size="100" font-weight="200" stroke="#000" stroke-width="2.30">.</text><text transform="matrix(0.30002 0.00000 0.00000 0.19720 81.40 413.05)" font-family="DejaVu Sans, sans-serif" font-size="100" font-weight="200" stroke="#000" stroke-width="3.29">0</text><text transform="matrix(0.30452 0.00000 0.00000 0.20113 177.66 444.04)" font-family="DejaVu Sans, sans-serif" font-size="100" font-weight="200" stroke="#000" stroke-width="3.23">0</text><text transform="matrix(0.21988 0.00000 0.00000 0.19750 335.73 443.61)" font-family="DejaVu Sans, sans-serif" font-size="100" font-weight="200" stroke="#000" stroke-width="3.84" clip-path="url(#one)">1</text><text transform="matrix(0.30884 0.00000 0.00000 0.20118 349.72 444.04)" font-family="DejaVu Sans, sans-serif" font-size="100" font-weight="200" stroke="#000" stroke-width="3.21">0</text><text transform="matrix(0.27144 0.00000 0.00000 0.20606 496.57 444.22)" font-family="DejaVu Sans, sans-serif" font-size="100" font-weight="200" stroke="#000" stroke-width="3.38">2</text><text transform="matrix(0.31100 0.00000 0.00000 0.20120 512.80 444.04)" font-family="DejaVu Sans, sans-serif" font-size="100" font-weight="200" stroke="#000" stroke-width="3.20">0</text><text transform="matrix(0.29803 0.00000 0.00000 0.20106 659.41 444.04)" font-family="DejaVu Sans, sans-serif" font-size="100" font-weight="200" stroke="#000" stroke-width="3.27">3</text><text transform="matrix(0.31532 0.00000 0.00000 0.20124 676.57 444.05)" font-family="DejaVu Sans, sans-serif" font-size="100" font-weight="200" stroke="#000" stroke-width="3.18">0</text><text transform="matrix(0.28130 0.00000 0.00000 0.20617 822.77 444.02)" font-family="DejaVu Sans, sans-serif" font-size="100" font-weight="200" stroke="#000" stroke-width="3.32">4</text><text transform="matrix(0.30884 0.00000 0.00000 0.20118 839.82 444.04)" font-family="DejaVu Sans, sans-serif" font-size="100" font-weight="200" stroke="#000" stroke-width="3.21">0</text><text transform="matrix(0.31850 0.00000 0.00000 0.20663 985.32 444.04)" font-family="DejaVu Sans, sans-serif" font-size="100" font-weight="200" stroke="#000" stroke-width="3.12">5</text><text transform="matrix(0.30884 0.00000 0.00000 0.20118 1002.92 444.04)" font-family="DejaVu Sans, sans-serif" font-size="100" font-weight="200" stroke="#000" stroke-width="3.21">0</text><text transform="matrix(0.26662 0.00000 0.00000 0.20470 559.07 470.32)" font-family="DejaVu Sans, sans-serif" font-size="100" font-weight="200" stroke="#000" stroke-width="3.42">R</text><text transform="matrix(0.26000 0.00000 -0.10854 0.27439 580.06 473.43)" font-family="DejaVu Sans, sans-serif" font-size="100" font-weight="200" stroke="#000" stroke-width="3.00">/</text><text transform="matrix(0.24975 0.00000 0.00000 0.20446 597.66 470.31)" font-family="DejaVu Sans, sans-serif" font-size="100" font-weight="200" stroke="#000" stroke-width="3.54">R</text><text transform="matrix(0.29151 0.00000 0.00000 0.18074 616.37 470.37)" font-family="DejaVu Sans, sans-serif" font-size="100" font-weight="200" stroke="#000" stroke-width="3.49">s</text><text transform="matrix(0.00000 -0.24883 0.24823 0.00000 21.54 243.36)" font-family="DejaVu Sans, sans-serif" font-size="100" font-weight="200" stroke="#000" stroke-width="3.22">P</text><text transform="matrix(0.00000 -0.13563 0.17047 0.00000 30.88 228.52)" font-family="DejaVu Sans, sans-serif" font-size="100" font-weight="200" stroke="#000" stroke-width="6.58">g</text><text transform="matrix(0.00000 -0.29653 0.24213 0.00000 29.57 222.70)" font-family="DejaVu Sans, sans-serif" font-size="100" font-weight="200" stroke="#000" stroke-width="1.31">,</text><text transform="matrix(0.00000 -0.13673 0.15043 0.00000 29.94 216.50)" font-family="DejaVu Sans, sans-serif" font-size="100" font-weight="200" stroke="#000" stroke-width="6.97">d</text><text transform="matrix(0.00000 -0.20000 0.35000 0.07195 26.15 206.65)" font-family="DejaVu Sans, sans-serif" font-size="100" font-weight="200" stroke="#000" stroke-width="3.02">/</text><text transform="matrix(0.00000 -0.24189 0.24811 0.00000 21.53 193.88)" font-family="DejaVu Sans, sans-serif" font-size="100" font-weight="200" stroke="#000" stroke-width="3.27">P</text><text transform="matrix(0.00000 -0.10918 0.14673 0.00000 29.46 178.84)" font-family="DejaVu Sans, sans-serif" font-size="100" font-weight="200" stroke="#000" stroke-width="7.90">r</text><text transform="matrix(0.00000 -0.29653 0.24213 0.00000 29.57 175.70)" font-family="DejaVu Sans, sans-serif" font-size="100" font-weight="200" stroke="#000" stroke-width="1.31">,</text><text transform="matrix(0.00000 -0.12845 0.15513 0.00000 30.22 169.25)" font-family="DejaVu Sans, sans-serif" font-size="100" font-weight="200" stroke="#000" stroke-width="7.08">d</text><text transform="matrix(0.30002 0.00000 0.00000 0.19720 160.70 521.95)" font-family="DejaVu Sans, sans-serif" font-size="100" font-weight="200" stroke="#000" stroke-width="3.29">0</text><text transform="matrix(0.30002 0.00000 0.00000 0.19720 143.10 521.95)" font-family="DejaVu Sans, sans-serif" font-size="100" font-weight="200" stroke="#000" stroke-width="3.29">0</text><text transform="matrix(0.30002 0.00000 0.00000 0.19720 125.50 521.95)" font-family="DejaVu Sans, sans-serif" font-size="100" font-weight="200" stroke="#000" stroke-width="3.29">0</text><text transform="matrix(0.30002 0.00000 0.00000 0.19720 107.90 521.95)" font-family="DejaVu Sans, sans-serif" font-size="100" font-weight="200" stroke="#000" stroke-width="3.29">0</text><text transform="matrix(0.37701 0.00000 0.00000 0.32118 98.46 522.11)" font-family="DejaVu Sans, sans-serif" font-size="100" font-weight="200" stroke="#000" stroke-width="2.30">.</text><text transform="matrix(0.30002 0.00000 0.00000 0.19720 81.40 521.95)" font-family="DejaVu Sans, sans-serif" font-size="100" font-weight="200" stroke="#000" stroke-width="3.29">0</text><text transform="matrix(0.30002 0.00000 0.00000 0.19720 63.80 521.95)" font-family="DejaVu Sans, sans-serif" font-size="100" font-weight="200" stroke="#000" stroke-width="3.29">0</text><text transform="matrix(0.22714 0.00000 0.00000 0.19359 49.56 521.52)" font-family="DejaVu Sans, sans-serif" font-size="100" font-weight="200" stroke="#000" stroke-width="3.82" clip-path="url(#one)">1</text><text transform="matrix(0.30002 0.00000 0.00000 0.19720 160.70 584.48)" font-family="DejaVu Sans, sans-serif" font-size="100" font-weight="200" stroke="#000" stroke-width="3.29">0</text><text transform="matrix(0.30002 0.00000 0.00000 0.19720 143.10 584.48)" font-family="DejaVu Sans, sans-serif" font-size="100" font-weight="200" stroke="#000" stroke-width="3.29">0</text><text transform="matrix(0.30002 0.00000 0.00000 0.19720 125.50 584.48)" font-family="DejaVu Sans, sans-serif" font-size="100" font-weight="200" stroke="#000" stroke-width="3.29">0</text><text transform="matrix(0.30002 0.00000 0.00000 0.19720 107.90 584.48)" font-family="DejaVu Sans, sans-serif" font-size="100" font-weight="200" stroke="#000" stroke-width="3.29">0</text><text transform="matrix(0.37701 0.00000 0.00000 0.32118 98.46 584.65)" font-family="DejaVu Sans, sans-serif" font-size="100" font-weight="200" stroke="#000" stroke-width="2.30">.</text><text transform="matrix(0.30002 0.00000 0.00000 0.19720 81.40 584.48)" font-family="DejaVu Sans, sans-serif" font-size="100" font-weight="200" stroke="#000" stroke-width="3.29">0</text><text transform="matrix(0.22714 0.00000 0.00000 0.19359 67.16 584.05)" font-family="DejaVu Sans, sans-serif" font-size="100" font-weight="200" stroke="#000" stroke-width="3.82" clip-path="url(#one)">1</text><text transform="matrix(0.30002 0.00000 0.00000 0.19720 160.70 653.21)" font-family="DejaVu Sans, sans-serif" font-size="100" font-weight="200" stroke="#000" stroke-width="3.29">0</text><text transform="matrix(0.30002 0.00000 0.00000 0.19720 143.10 653.21)" font-family="DejaVu Sans, sans-serif" font-size="100" font-weight="200" stroke="#000" stroke-width="3.29">0</text><text transform="matrix(0.30002 0.00000 0.00000 0.19720 125.50 653.21)" font-family="DejaVu Sans, sans-serif" font-size="100" font-weight="200" stroke="#000" stroke-width="3.29">0</text><text transform="matrix(0.30002 0.00000 0.00000 0.19720 107.90 653.21)" font-family="DejaVu Sans, sans-serif" font-size="100" font-weight="200" stroke="#000" stroke-width="3.29">0</text><text transform="matrix(0.37701 0.00000 0.00000 0.32118 98.46 653.38)" font-family="DejaVu Sans, sans-serif" font-size="100" font-weight="200" stroke="#000" stroke-width="2.30">.</text><text transform="matrix(0.22714 0.00000 0.00000 0.19359 84.76 652.78)" font-family="DejaVu Sans, sans-serif" font-size="100" font-weight="200" stroke="#000" stroke-width="3.82" clip-path="url(#one)">1</text><text transform="matrix(0.30002 0.00000 0.00000 0.19720 160.70 721.95)" font-family="DejaVu Sans, sans-serif" font-size="100" font-weight="200" stroke="#000" stroke-width="3.29">0</text><text transform="matrix(0.30002 0.00000 0.00000 0.19720 143.10 721.95)" font-family="DejaVu Sans, sans-serif" font-size="100" font-weight="200" stroke="#000" stroke-width="3.29">0</text><text transform="matrix(0.30002 0.00000 0.00000 0.19720 125.50 721.95)" font-family="DejaVu Sans, sans-serif" font-size="100" font-weight="200" stroke="#000" stroke-width="3.29">0</text><text transform="matrix(0.22714 0.00000 0.00000 0.19359 111.26 721.52)" font-family="DejaVu Sans, sans-serif" font-size="100" font-weight="200" stroke="#000" stroke-width="3.82" clip-path="url(#one)">1</text><text transform="matrix(0.37701 0.00000 0.00000 0.32118 98.46 722.11)" font-family="DejaVu Sans, sans-serif" font-size="100" font-weight="200" stroke="#000" stroke-width="2.30">.</text><text transform="matrix(0.30002 0.00000 0.00000 0.19720 81.40 721.95)" font-family="DejaVu Sans, sans-serif" font-size="100" font-weight="200" stroke="#000" stroke-width="3.29">0</text><text transform="matrix(0.30002 0.00000 0.00000 0.19720 160.70 790.68)" font-family="DejaVu Sans, sans-serif" font-size="100" font-weight="200" stroke="#000" stroke-width="3.29">0</text><text transform="matrix(0.30002 0.00000 0.00000 0.19720 143.10 790.68)" font-family="DejaVu Sans, sans-serif" font-size="100" font-weight="200" stroke="#000" stroke-width="3.29">0</text><text transform="matrix(0.22714 0.00000 0.00000 0.19359 128.86 790.25)" font-family="DejaVu Sans, sans-serif" font-size="100" font-weight="200" stroke="#000" stroke-width="3.82" clip-path="url(#one)">1</text><text transform="matrix(0.30002 0.00000 0.00000 0.19720 107.90 790.68)" font-family="DejaVu Sans, sans-serif" font-size="100" font-weight="200" stroke="#000" stroke-width="3.29">0</text><text transform="matrix(0.37701 0.00000 0.00000 0.32118 98.46 790.85)" font-family="DejaVu Sans, sans-serif" font-size="100" font-weight="200" stroke="#000" stroke-width="2.30">.</text><text transform="matrix(0.30002 0.00000 0.00000 0.19720 81.40 790.68)" font-family="DejaVu Sans, sans-serif" font-size="100" font-weight="200" stroke="#000" stroke-width="3.29">0</text><text transform="matrix(0.30002 0.00000 0.00000 0.19720 160.70 859.41)" font-family="DejaVu Sans, sans-serif" font-size="100" font-weight="200" stroke="#000" stroke-width="3.29">0</text><text transform="matrix(0.22714 0.00000 0.00000 0.19359 146.46 858.98)" font-family="DejaVu Sans, sans-serif" font-size="100" font-weight="200" stroke="#000" stroke-width="3.82" clip-path="url(#one)">1</text><text transform="matrix(0.30002 0.00000 0.00000 0.19720 125.50 859.41)" font-family="DejaVu Sans, sans-serif" font-size="100" font-weight="200" stroke="#000" stroke-width="3.29">0</text><text transform="matrix(0.30002 0.00000 0.00000 0.19720 107.90 859.41)" font-family="DejaVu Sans, sans-serif" font-size="100" font-weight="200" stroke="#000" stroke-width="3.29">0</text><text transform="matrix(0.37701 0.00000 0.00000 0.32118 98.46 859.58)" font-family="DejaVu Sans, sans-serif" font-size="100" font-weight="200" stroke="#000" stroke-width="2.30">.</text><text transform="matrix(0.30002 0.00000 0.00000 0.19720 81.40 859.41)" font-family="DejaVu Sans, sans-serif" font-size="100" font-weight="200" stroke="#000" stroke-width="3.29">0</text><text transform="matrix(0.22714 0.00000 0.00000 0.19359 164.06 919.52)" font-family="DejaVu Sans, sans-serif" font-size="100" font-weight="200" stroke="#000" stroke-width="3.82" clip-path="url(#one)">1</text><text transform="matrix(0.30002 0.00000 0.00000 0.19720 143.10 919.95)" font-family="DejaVu Sans, sans-serif" font-size="100" font-weight="200" stroke="#000" stroke-width="3.29">0</text><text transform="matrix(0.30002 0.00000 0.00000 0.19720 125.50 919.95)" font-family="DejaVu Sans, sans-serif" font-size="100" font-weight="200" stroke="#000" stroke-width="3.29">0</text><text transform="matrix(0.30002 0.00000 0.00000 0.19720 107.90 919.95)" font-family="DejaVu Sans, sans-serif" font-size="100" font-weight="200" stroke="#000" stroke-width="3.29">0</text><text transform="matrix(0.37701 0.00000 0.00000 0.32118 98.46 920.11)" font-family="DejaVu Sans, sans-serif" font-size="100" font-weight="200" stroke="#000" stroke-width="2.30">.</text><text transform="matrix(0.30002 0.00000 0.00000 0.19720 81.40 919.95)" font-family="DejaVu Sans, sans-serif" font-size="100" font-weight="200" stroke="#000" stroke-width="3.29">0</text><text transform="matrix(0.30452 0.00000 0.00000 0.20113 177.66 950.94)" font-family="DejaVu Sans, sans-serif" font-size="100" font-weight="200" stroke="#000" stroke-width="3.23">0</text><text transform="matrix(0.21988 0.00000 0.00000 0.19750 335.73 950.51)" font-family="DejaVu Sans, sans-serif" font-size="100" font-weight="200" stroke="#000" stroke-width="3.84" clip-path="url(#one)">1</text><text transform="matrix(0.30884 0.00000 0.00000 0.20118 349.72 950.94)" font-family="DejaVu Sans, sans-serif" font-size="100" font-weight="200" stroke="#000" stroke-width="3.21">0</text><text transform="matrix(0.27144 0.00000 0.00000 0.20606 496.57 951.12)" font-family="DejaVu Sans, sans-serif" font-size="100" font-weight="200" stroke="#000" stroke-width="3.38">2</text><text transform="matrix(0.31100 0.00000 0.00000 0.20120 512.80 950.94)" font-family="DejaVu Sans, sans-serif" font-size="100" font-weight="200" stroke="#000" stroke-width="3.20">0</text><text transform="matrix(0.29803 0.00000 0.00000 0.20106 659.41 950.94)" font-family="DejaVu Sans, sans-serif" font-size="100" font-weight="200" stroke="#000" stroke-width="3.27">3</text><text transform="matrix(0.31532 0.00000 0.00000 0.20124 676.57 950.95)" font-family="DejaVu Sans, sans-serif" font-size="100" font-weight="200" stroke="#000" stroke-width="3.18">0</text><text transform="matrix(0.28130 0.00000 0.00000 0.20617 822.77 950.92)" font-family="DejaVu Sans, sans-serif" font-size="100" font-weight="200" stroke="#000" stroke-width="3.32">4</text><text transform="matrix(0.30884 0.00000 0.00000 0.20118 839.82 950.94)" font-family="DejaVu Sans, sans-serif" font-size="100" font-weight="200" stroke="#000" stroke-width="3.21">0</text><text transform="matrix(0.31850 0.00000 0.00000 0.20663 985.32 950.94)" font-family="DejaVu Sans, sans-serif" font-size="100" font-weight="200" stroke="#000" stroke-width="3.12">5</text><text transform="matrix(0.30884 0.00000 0.00000 0.20118 1002.92 950.94)" font-family="DejaVu Sans, sans-serif" font-size="100" font-weight="200" stroke="#000" stroke-width="3.21">0</text><text transform="matrix(0.26662 0.00000 0.00000 0.20470 559.07 977.22)" font-family="DejaVu Sans, sans-serif" font-size="100" font-weight="200" stroke="#000" stroke-width="3.42">R</text><text transform="matrix(0.26000 0.00000 -0.10854 0.27439 580.06 980.33)" font-family="DejaVu Sans, sans-serif" font-size="100" font-weight="200" stroke="#000" stroke-width="3.00">/</text><text transform="matrix(0.24975 0.00000 0.00000 0.20446 597.66 977.21)" font-family="DejaVu Sans, sans-serif" font-size="100" font-weight="200" stroke="#000" stroke-width="3.54">R</text><text transform="matrix(0.29151 0.00000 0.00000 0.18074 616.37 977.27)" font-family="DejaVu Sans, sans-serif" font-size="100" font-weight="200" stroke="#000" stroke-width="3.49">s</text><text transform="matrix(0.00000 -0.24883 0.24823 0.00000 21.54 750.16)" font-family="DejaVu Sans, sans-serif" font-size="100" font-weight="200" stroke="#000" stroke-width="3.22">P</text><text transform="matrix(0.00000 -0.13563 0.17047 0.00000 30.88 735.32)" font-family="DejaVu Sans, sans-serif" font-size="100" font-weight="200" stroke="#000" stroke-width="6.58">g</text><text transform="matrix(0.00000 -0.29653 0.24213 0.00000 29.57 729.50)" font-family="DejaVu Sans, sans-serif" font-size="100" font-weight="200" stroke="#000" stroke-width="1.31">,</text><text transform="matrix(0.00000 -0.13673 0.15043 0.00000 29.94 723.30)" font-family="DejaVu Sans, sans-serif" font-size="100" font-weight="200" stroke="#000" stroke-width="6.97">d</text><text transform="matrix(0.00000 -0.20000 0.35000 0.07195 26.15 713.45)" font-family="DejaVu Sans, sans-serif" font-size="100" font-weight="200" stroke="#000" stroke-width="3.02">/</text><text transform="matrix(0.00000 -0.24189 0.24811 0.00000 21.53 700.68)" font-family="DejaVu Sans, sans-serif" font-size="100" font-weight="200" stroke="#000" stroke-width="3.27">P</text><text transform="matrix(0.00000 -0.10918 0.14673 0.00000 29.46 685.64)" font-family="DejaVu Sans, sans-serif" font-size="100" font-weight="200" stroke="#000" stroke-width="7.90">r</text><text transform="matrix(0.00000 -0.29653 0.24213 0.00000 29.57 682.50)" font-family="DejaVu Sans, sans-serif" font-size="100" font-weight="200" stroke="#000" stroke-width="1.31">,</text><text transform="matrix(0.00000 -0.12845 0.15513 0.00000 30.22 676.05)" font-family="DejaVu Sans, sans-serif" font-size="100" font-weight="200" stroke="#000" stroke-width="7.08">d</text><text transform="matrix(0.26203 0.00000 0.00000 0.19848 774.30 21.91)" font-family="DejaVu Sans, sans-serif" font-size="100" font-style="oblique" stroke="#000" stroke-width="2.85">β</text><text transform="matrix(0.18246 0.00000 0.00000 0.11790 791.55 26.16)" font-family="DejaVu Sans, sans-serif" font-size="100" font-weight="200" stroke="#000" stroke-width="9.20">0</text><text transform="matrix(0.24945 0.00000 0.00000 0.27497 803.60 23.52)" font-family="DejaVu Sans, sans-serif" font-size="100" font-weight="200" stroke="#000" stroke-width="3.05">=</text><text transform="matrix(0.22723 0.00000 0.00000 0.19494 827.96 20.82)" font-family="DejaVu Sans, sans-serif" font-size="100" font-weight="200" stroke="#000" stroke-width="3.80" clip-path="url(#one)">1</text><text transform="matrix(0.29792 0.00000 0.00000 0.19847 842.32 21.24)" font-family="DejaVu Sans, sans-serif" font-size="100" font-weight="200" stroke="#000" stroke-width="3.29">0</text><text transform="matrix(0.26203 0.00000 0.00000 0.19848 774.30 81.01)" font-family="DejaVu Sans, sans-serif" font-size="100" font-style="oblique" stroke="#000" stroke-width="2.85">β</text><text transform="matrix(0.18246 0.00000 0.00000 0.11790 791.55 85.26)" font-family="DejaVu Sans, sans-serif" font-size="100" font-weight="200" stroke="#000" stroke-width="9.20">0</text><text transform="matrix(0.24945 0.00000 0.00000 0.27497 803.60 82.62)" font-family="DejaVu Sans, sans-serif" font-size="100" font-weight="200" stroke="#000" stroke-width="3.05">=</text><text transform="matrix(0.31839 0.00000 0.00000 0.20397 824.02 80.34)" font-family="DejaVu Sans, sans-serif" font-size="100" font-weight="200" stroke="#000" stroke-width="3.14">5</text><text transform="matrix(0.29792 0.00000 0.00000 0.19847 842.32 80.34)" font-family="DejaVu Sans, sans-serif" font-size="100" font-weight="200" stroke="#000" stroke-width="3.29">0</text><text transform="matrix(0.26203 0.00000 0.00000 0.19848 774.30 126.31)" font-family="DejaVu Sans, sans-serif" font-size="100" font-style="oblique" stroke="#000" stroke-width="2.85">β</text><text transform="matrix(0.18246 0.00000 0.00000 0.11790 791.55 130.56)" font-family="DejaVu Sans, sans-serif" font-size="100" font-weight="200" stroke="#000" stroke-width="9.20">0</text><text transform="matrix(0.24945 0.00000 0.00000 0.27497 803.60 127.92)" font-family="DejaVu Sans, sans-serif" font-size="100" font-weight="200" stroke="#000" stroke-width="3.05">=</text><text transform="matrix(0.22723 0.00000 0.00000 0.19494 827.96 125.22)" font-family="DejaVu Sans, sans-serif" font-size="100" font-weight="200" stroke="#000" stroke-width="3.80" clip-path="url(#one)">1</text><text transform="matrix(0.29792 0.00000 0.00000 0.19847 842.32 125.64)" font-family="DejaVu Sans, sans-serif" font-size="100" font-weight="200" stroke="#000" stroke-width="3.29">0</text><text transform="matrix(0.29792 0.00000 0.00000 0.19847 859.97 125.64)" font-family="DejaVu Sans, sans-serif" font-size="100" font-weight="200" stroke="#000" stroke-width="3.29">0</text><text transform="matrix(0.26203 0.00000 0.00000 0.19848 774.30 166.01)" font-family="DejaVu Sans, sans-serif" font-size="100" font-style="oblique" stroke="#000" stroke-width="2.85">β</text><text transform="matrix(0.18246 0.00000 0.00000 0.11790 791.55 170.26)" font-family="DejaVu Sans, sans-serif" font-size="100" font-weight="200" stroke="#000" stroke-width="9.20">0</text><text transform="matrix(0.24945 0.00000 0.00000 0.27497 803.60 167.62)" font-family="DejaVu Sans, sans-serif" font-size="100" font-weight="200" stroke="#000" stroke-width="3.05">=</text><text transform="matrix(0.27134 0.00000 0.00000 0.20340 825.87 165.53)" font-family="DejaVu Sans, sans-serif" font-size="100" font-weight="200" stroke="#000" stroke-width="3.41">2</text><text transform="matrix(0.29792 0.00000 0.00000 0.19847 842.32 165.34)" font-family="DejaVu Sans, sans-serif" font-size="100" font-weight="200" stroke="#000" stroke-width="3.29">0</text><text transform="matrix(0.29792 0.00000 0.00000 0.19847 859.97 165.34)" font-family="DejaVu Sans, sans-serif" font-size="100" font-weight="200" stroke="#000" stroke-width="3.29">0</text><text transform="matrix(0.26203 0.00000 0.00000 0.19848 774.30 256.01)" font-family="DejaVu Sans, sans-serif" font-size="100" font-style="oblique" stroke="#000" stroke-width="2.85">β</text><text transform="matrix(0.18246 0.00000 0.00000 0.11790 791.55 260.26)" font-family="DejaVu Sans, sans-serif" font-size="100" font-weight="200" stroke="#000" stroke-width="9.20">0</text><text transform="matrix(0.24945 0.00000 0.00000 0.27497 803.60 257.62)" font-family="DejaVu Sans, sans-serif" font-size="100" font-weight="200" stroke="#000" stroke-width="3.05">=</text><text transform="matrix(0.22723 0.00000 0.00000 0.19494 827.96 254.92)" font-family="DejaVu Sans, sans-serif" font-size="100" font-weight="200" stroke="#000" stroke-width="3.80" clip-path="url(#one)">1</text><text transform="matrix(0.29792 0.00000 0.00000 0.19847 842.32 255.34)" font-family="DejaVu Sans, sans-serif" font-size="100" font-weight="200" stroke="#000" stroke-width="3.29">0</text><text transform="matrix(0.29792 0.00000 0.00000 0.19847 859.97 255.34)" font-family="DejaVu Sans, sans-serif" font-size="100" font-weight="200" stroke="#000" stroke-width="3.29">0</text><text transform="matrix(0.29792 0.00000 0.00000 0.19847 877.62 255.34)" font-family="DejaVu Sans, sans-serif" font-size="100" font-weight="200" stroke="#000" stroke-width="3.29">0</text><text transform="matrix(0.26203 0.00000 0.00000 0.19848 774.30 544.61)" font-family="DejaVu Sans, sans-serif" font-size="100" font-style="oblique" stroke="#000" stroke-width="2.85">β</text><text transform="matrix(0.18246 0.00000 0.00000 0.11790 791.55 548.86)" font-family="DejaVu Sans, sans-serif" font-size="100" font-weight="200" stroke="#000" stroke-width="9.20">0</text><text transform="matrix(0.24945 0.00000 0.00000 0.27497 803.60 546.22)" font-family="DejaVu Sans, sans-serif" font-size="100" font-weight="200" stroke="#000" stroke-width="3.05">=</text><text transform="matrix(0.22723 0.00000 0.00000 0.19494 827.96 543.52)" font-family="DejaVu Sans, sans-serif" font-size="100" font-weight="200" stroke="#000" stroke-width="3.80" clip-path="url(#one)">1</text><text transform="matrix(0.29792 0.00000 0.00000 0.19847 842.32 543.94)" font-family="DejaVu Sans, sans-serif" font-size="100" font-weight="200" stroke="#000" stroke-width="3.29">0</text><text transform="matrix(0.26203 0.00000 0.00000 0.19848 774.30 592.21)" font-family="DejaVu Sans, sans-serif" font-size="100" font-style="oblique" stroke="#000" stroke-width="2.85">β</text><text transform="matrix(0.18246 0.00000 0.00000 0.11790 791.55 596.46)" font-family="DejaVu Sans, sans-serif" font-size="100" font-weight="200" stroke="#000" stroke-width="9.20">0</text><text transform="matrix(0.24945 0.00000 0.00000 0.27497 803.60 593.82)" font-family="DejaVu Sans, sans-serif" font-size="100" font-weight="200" stroke="#000" stroke-width="3.05">=</text><text transform="matrix(0.31839 0.00000 0.00000 0.20397 824.02 591.54)" font-family="DejaVu Sans, sans-serif" font-size="100" font-weight="200" stroke="#000" stroke-width="3.14">5</text><text transform="matrix(0.29792 0.00000 0.00000 0.19847 842.32 591.54)" font-family="DejaVu Sans, sans-serif" font-size="100" font-weight="200" stroke="#000" stroke-width="3.29">0</text><text transform="matrix(0.26203 0.00000 0.00000 0.19848 774.30 633.71)" font-family="DejaVu Sans, sans-serif" font-size="100" font-style="oblique" stroke="#000" stroke-width="2.85">β</text><text transform="matrix(0.18246 0.00000 0.00000 0.11790 791.55 637.96)" font-family="DejaVu Sans, sans-serif" font-size="100" font-weight="200" stroke="#000" stroke-width="9.20">0</text><text transform="matrix(0.24945 0.00000 0.00000 0.27497 803.60 635.32)" font-family="DejaVu Sans, sans-serif" font-size="100" font-weight="200" stroke="#000" stroke-width="3.05">=</text><text transform="matrix(0.22723 0.00000 0.00000 0.19494 827.96 632.62)" font-family="DejaVu Sans, sans-serif" font-size="100" font-weight="200" stroke="#000" stroke-width="3.80" clip-path="url(#one)">1</text><text transform="matrix(0.29792 0.00000 0.00000 0.19847 842.32 633.04)" font-family="DejaVu Sans, sans-serif" font-size="100" font-weight="200" stroke="#000" stroke-width="3.29">0</text><text transform="matrix(0.29792 0.00000 0.00000 0.19847 859.97 633.04)" font-family="DejaVu Sans, sans-serif" font-size="100" font-weight="200" stroke="#000" stroke-width="3.29">0</text><text transform="matrix(0.26203 0.00000 0.00000 0.19848 774.30 682.51)" font-family="DejaVu Sans, sans-serif" font-size="100" font-style="oblique" stroke="#000" stroke-width="2.85">β</text><text transform="matrix(0.18246 0.00000 0.00000 0.11790 791.55 686.76)" font-family="DejaVu Sans, sans-serif" font-size="100" font-weight="200" stroke="#000" stroke-width="9.20">0</text><text transform="matrix(0.24945 0.00000 0.00000 0.27497 803.60 684.12)" font-family="DejaVu Sans, sans-serif" font-size="100" font-weight="200" stroke="#000" stroke-width="3.05">=</text><text transform="matrix(0.27134 0.00000 0.00000 0.20340 825.87 682.03)" font-family="DejaVu Sans, sans-serif" font-size="100" font-weight="200" stroke="#000" stroke-width="3.41">2</text><text transform="matrix(0.29792 0.00000 0.00000 0.19847 842.32 681.84)" font-family="DejaVu Sans, sans-serif" font-size="100" font-weight="200" stroke="#000" stroke-width="3.29">0</text><text transform="matrix(0.29792 0.00000 0.00000 0.19847 859.97 681.84)" font-family="DejaVu Sans, sans-serif" font-size="100" font-weight="200" stroke="#000" stroke-width="3.29">0</text><text transform="matrix(0.26203 0.00000 0.00000 0.19848 774.30 762.41)" font-family="DejaVu Sans, sans-serif" font-size="100" font-style="oblique" stroke="#000" stroke-width="2.85">β</text><text transform="matrix(0.18246 0.00000 0.00000 0.11790 791.55 766.66)" font-family="DejaVu Sans, sans-serif" font-size="100" font-weight="200" stroke="#000" stroke-width="9.20">0</text><text transform="matrix(0.24945 0.00000 0.00000 0.27497 803.60 764.02)" font-family="DejaVu Sans, sans-serif" font-size="100" font-weight="200" stroke="#000" stroke-width="3.05">=</text><text transform="matrix(0.22723 0.00000 0.00000 0.19494 827.96 761.32)" font-family="DejaVu Sans, sans-serif" font-size="100" font-weight="200" stroke="#000" stroke-width="3.80" clip-path="url(#one)">1</text><text transform="matrix(0.29792 0.00000 0.00000 0.19847 842.32 761.74)" font-family="DejaVu Sans, sans-serif" font-size="100" font-weight="200" stroke="#000" stroke-width="3.29">0</text><text transform="matrix(0.29792 0.00000 0.00000 0.19847 859.97 761.74)" font-family="DejaVu Sans, sans-serif" font-size="100" font-weight="200" stroke="#000" stroke-width="3.29">0</text><text transform="matrix(0.29792 0.00000 0.00000 0.19847 877.62 761.74)" font-family="DejaVu Sans, sans-serif" font-size="100" font-weight="200" stroke="#000" stroke-width="3.29">0</text></g>
</svg>
</body></html>
